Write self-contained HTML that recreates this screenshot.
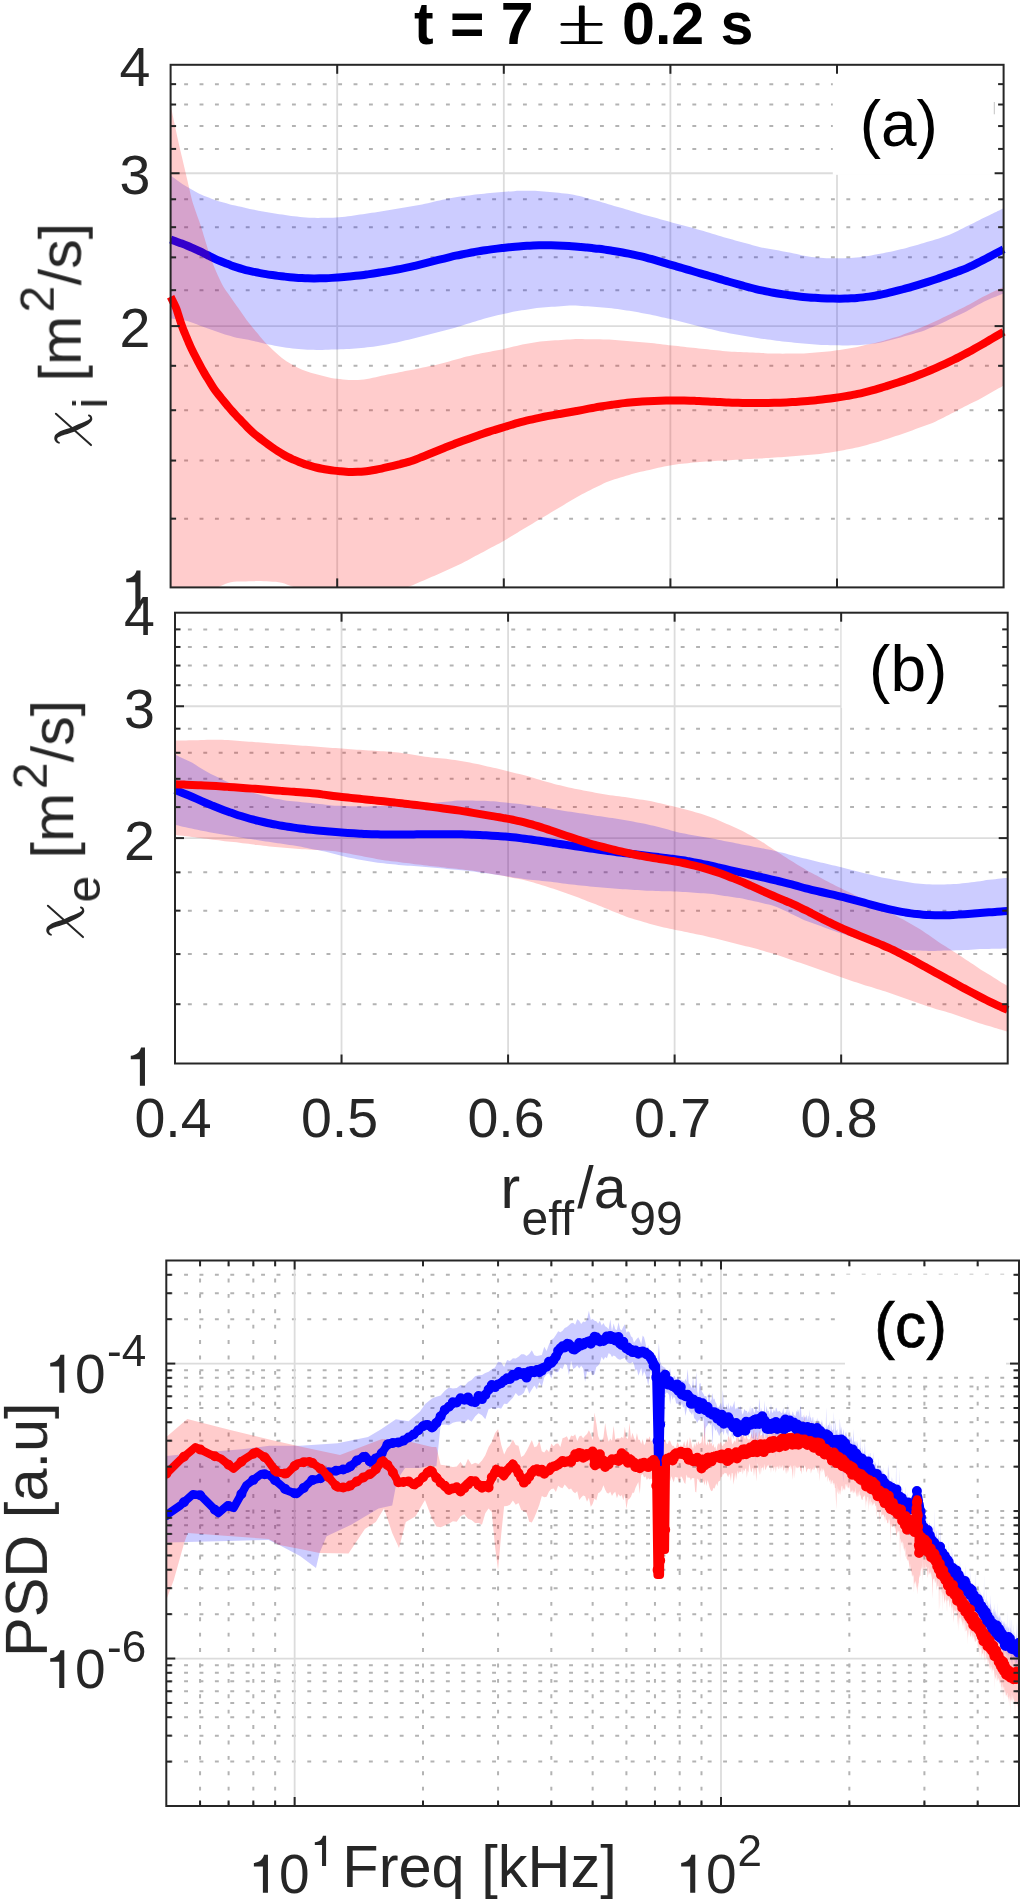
<!DOCTYPE html>
<html><head><meta charset="utf-8"><style>
html,body{margin:0;padding:0;background:#fff;}
svg{display:block;}
</style></head><body>
<svg width="1025" height="1901" viewBox="0 0 1025 1901">
<style>
.mg{stroke:#b3b3b3;stroke-width:2;stroke-dasharray:3.9 11.5;}
.Mg{stroke:#dcdcdc;stroke-width:1.8;}
.tk{stroke:#262626;stroke-width:2;}
.t{font-family:"Liberation Sans",sans-serif;fill:#262626;filter:url(#nop);}
</style>
<rect width="1025" height="1901" fill="#fff"/>
<defs>
<filter id="nop" x="-5%" y="-5%" width="110%" height="110%"><feOffset dx="0" dy="0"/></filter>
<clipPath id="ca"><rect x="166.6" y="64.8" width="841" height="522.6"/></clipPath>
<clipPath id="cb"><rect x="171" y="612.7" width="840.7" height="450.8"/></clipPath>
<clipPath id="cc"><rect x="166.3" y="1260.5" width="852.7" height="545.5"/></clipPath>
<clipPath id="la"><rect x="166.6" y="64.8" width="841" height="522.6"/></clipPath>
<clipPath id="lb"><rect x="171" y="612.7" width="840.7" height="450.8"/></clipPath>
</defs>
<g clip-path="url(#ca)">
<line x1="170.6" y1="518.67" x2="1003.6" y2="518.67" class="mg" stroke-dashoffset="1.85"/>
<line x1="170.6" y1="460.56" x2="1003.6" y2="460.56" class="mg" stroke-dashoffset="1.85"/>
<line x1="170.6" y1="410.22" x2="1003.6" y2="410.22" class="mg" stroke-dashoffset="1.85"/>
<line x1="170.6" y1="365.82" x2="1003.6" y2="365.82" class="mg" stroke-dashoffset="1.85"/>
<line x1="170.6" y1="290.17" x2="1003.6" y2="290.17" class="mg" stroke-dashoffset="1.85"/>
<line x1="170.6" y1="257.37" x2="1003.6" y2="257.37" class="mg" stroke-dashoffset="1.85"/>
<line x1="170.6" y1="227.19" x2="1003.6" y2="227.19" class="mg" stroke-dashoffset="1.85"/>
<line x1="170.6" y1="199.26" x2="1003.6" y2="199.26" class="mg" stroke-dashoffset="1.85"/>
<line x1="170.6" y1="148.92" x2="1003.6" y2="148.92" class="mg" stroke-dashoffset="1.85"/>
<line x1="170.6" y1="126.07" x2="1003.6" y2="126.07" class="mg" stroke-dashoffset="1.85"/>
<line x1="170.6" y1="104.52" x2="1003.6" y2="104.52" class="mg" stroke-dashoffset="1.85"/>
<line x1="170.6" y1="84.14" x2="1003.6" y2="84.14" class="mg" stroke-dashoffset="1.85"/>
<line x1="170.6" y1="326.1" x2="1003.6" y2="326.1" class="Mg"/>
<line x1="170.6" y1="173.25" x2="1003.6" y2="173.25" class="Mg"/>
<line x1="337.2" y1="64.8" x2="337.2" y2="587.4" class="Mg"/>
<line x1="503.8" y1="64.8" x2="503.8" y2="587.4" class="Mg"/>
<line x1="670.4" y1="64.8" x2="670.4" y2="587.4" class="Mg"/>
<line x1="837" y1="64.8" x2="837" y2="587.4" class="Mg"/>
<rect x="832.8" y="60" width="171.2" height="114.8" fill="#fff"/>
<path d="M170.6,175.57 C171.39,176.15 173.76,177.86 175.36,179.02 C176.96,180.18 178.59,181.38 180.23,182.53 C181.87,183.67 183.5,184.82 185.2,185.87 C186.89,186.93 188.64,187.9 190.38,188.87 C192.13,189.85 193.89,190.79 195.66,191.71 C197.44,192.64 199.21,193.56 201.02,194.41 C202.83,195.25 204.68,196.01 206.53,196.77 C208.38,197.53 210.24,198.26 212.12,198.94 C213.99,199.63 215.88,200.29 217.78,200.9 C219.69,201.5 221.62,202.03 223.54,202.56 C225.47,203.1 227.4,203.63 229.33,204.13 C231.27,204.63 233.21,205.11 235.16,205.57 C237.1,206.02 239.06,206.44 241.01,206.87 C242.97,207.3 244.92,207.72 246.88,208.15 C248.83,208.57 250.79,209 252.74,209.42 C254.7,209.84 256.65,210.28 258.61,210.68 C260.56,211.08 262.52,211.48 264.49,211.84 C266.46,212.19 268.44,212.5 270.41,212.81 C272.39,213.12 274.37,213.41 276.34,213.7 C278.32,214 280.3,214.3 282.28,214.6 C284.26,214.9 286.23,215.2 288.21,215.49 C290.19,215.77 292.17,216.07 294.15,216.31 C296.14,216.55 298.13,216.74 300.12,216.93 C302.11,217.13 304.1,217.3 306.1,217.45 C308.09,217.61 310.08,217.78 312.08,217.87 C314.07,217.95 316.07,217.97 318.07,217.96 C320.07,217.96 322.07,217.89 324.07,217.85 C326.07,217.8 328.07,217.76 330.07,217.7 C332.07,217.64 334.07,217.61 336.06,217.49 C338.05,217.37 340.04,217.2 342.03,216.99 C344.02,216.79 346,216.5 347.98,216.24 C349.97,215.99 351.95,215.72 353.93,215.44 C355.91,215.17 357.89,214.89 359.87,214.6 C361.85,214.31 363.83,214.01 365.8,213.72 C367.78,213.42 369.76,213.12 371.74,212.82 C373.72,212.53 375.69,212.23 377.67,211.93 C379.65,211.63 381.63,211.34 383.61,211.03 C385.58,210.73 387.56,210.42 389.53,210.1 C391.51,209.79 393.48,209.45 395.45,209.12 C397.43,208.79 399.4,208.45 401.37,208.12 C403.34,207.79 405.31,207.45 407.29,207.12 C409.26,206.78 411.23,206.46 413.2,206.11 C415.17,205.77 417.14,205.43 419.1,205.04 C421.06,204.66 423.02,204.23 424.97,203.8 C426.92,203.37 428.87,202.9 430.82,202.46 C432.77,202.01 434.72,201.56 436.67,201.11 C438.62,200.66 440.56,200.2 442.51,199.76 C444.46,199.32 446.41,198.86 448.37,198.47 C450.33,198.08 452.3,197.74 454.27,197.43 C456.25,197.12 458.23,196.88 460.22,196.62 C462.2,196.36 464.18,196.11 466.17,195.86 C468.15,195.6 470.14,195.35 472.12,195.09 C474.1,194.84 476.09,194.58 478.07,194.34 C480.06,194.1 482.05,193.87 484.03,193.67 C486.02,193.46 488.02,193.29 490.01,193.1 C492,192.92 493.99,192.74 495.98,192.56 C497.98,192.39 499.97,192.2 501.96,192.03 C503.95,191.85 505.95,191.67 507.94,191.52 C509.93,191.37 511.93,191.23 513.92,191.13 C515.92,191.02 517.92,190.94 519.92,190.87 C521.92,190.8 523.92,190.74 525.92,190.73 C527.91,190.72 529.91,190.76 531.91,190.81 C533.91,190.86 535.91,190.94 537.91,191.04 C539.9,191.14 541.9,191.26 543.89,191.41 C545.89,191.57 547.88,191.77 549.87,191.97 C551.86,192.16 553.85,192.37 555.84,192.57 C557.83,192.78 559.82,192.98 561.8,193.18 C563.79,193.39 565.79,193.57 567.77,193.81 C569.75,194.06 571.74,194.3 573.69,194.67 C575.65,195.04 577.58,195.55 579.52,196.04 C581.45,196.54 583.38,197.1 585.3,197.64 C587.23,198.17 589.16,198.71 591.08,199.25 C593.01,199.78 594.94,200.32 596.86,200.86 C598.79,201.4 600.72,201.93 602.64,202.48 C604.56,203.03 606.48,203.6 608.4,204.16 C610.32,204.73 612.23,205.31 614.15,205.89 C616.06,206.46 617.98,207.04 619.89,207.62 C621.81,208.19 623.72,208.77 625.64,209.35 C627.55,209.92 629.47,210.5 631.38,211.07 C633.3,211.64 635.22,212.21 637.14,212.77 C639.06,213.32 640.99,213.86 642.92,214.4 C644.84,214.94 646.77,215.47 648.69,216.01 C650.62,216.55 652.55,217.09 654.47,217.62 C656.4,218.16 658.33,218.7 660.25,219.24 C662.18,219.77 664.11,220.31 666.04,220.84 C667.97,221.37 669.9,221.89 671.83,222.42 C673.76,222.94 675.69,223.46 677.62,223.98 C679.55,224.5 681.48,225.02 683.41,225.54 C685.35,226.06 687.28,226.58 689.21,227.1 C691.14,227.62 693.07,228.14 695,228.67 C696.93,229.2 698.85,229.75 700.77,230.3 C702.69,230.86 704.61,231.44 706.53,232.01 C708.44,232.58 710.36,233.16 712.27,233.74 C714.19,234.31 716.1,234.89 718.02,235.46 C719.93,236.04 721.85,236.62 723.77,237.19 C725.68,237.75 727.6,238.33 729.52,238.87 C731.45,239.42 733.38,239.95 735.31,240.48 C737.24,241.01 739.17,241.52 741.1,242.04 C743.03,242.56 744.96,243.08 746.89,243.6 C748.82,244.12 750.75,244.65 752.69,245.16 C754.62,245.67 756.55,246.2 758.49,246.67 C760.44,247.14 762.39,247.56 764.35,247.96 C766.31,248.36 768.28,248.7 770.25,249.06 C772.21,249.42 774.18,249.77 776.15,250.12 C778.12,250.47 780.09,250.82 782.06,251.18 C784.03,251.53 786,251.88 787.96,252.25 C789.93,252.62 791.89,253 793.85,253.4 C795.81,253.8 797.76,254.23 799.72,254.65 C801.67,255.06 803.62,255.52 805.59,255.9 C807.55,256.27 809.51,256.62 811.49,256.88 C813.47,257.14 815.46,257.3 817.46,257.47 C819.45,257.63 821.44,257.78 823.44,257.89 C825.44,258.01 827.43,258.09 829.43,258.15 C831.43,258.22 833.43,258.26 835.43,258.28 C837.43,258.3 839.43,258.32 841.43,258.28 C843.43,258.25 845.42,258.17 847.42,258.07 C849.42,257.98 851.42,257.88 853.41,257.73 C855.4,257.58 857.39,257.39 859.38,257.16 C861.36,256.93 863.34,256.63 865.32,256.34 C867.3,256.05 869.27,255.75 871.25,255.42 C873.22,255.08 875.18,254.72 877.15,254.35 C879.12,253.98 881.08,253.59 883.04,253.19 C885,252.8 886.96,252.4 888.91,251.98 C890.87,251.57 892.82,251.14 894.78,250.7 C896.73,250.26 898.68,249.83 900.63,249.36 C902.57,248.9 904.51,248.42 906.45,247.91 C908.38,247.41 910.31,246.88 912.24,246.34 C914.17,245.81 916.09,245.28 918.02,244.73 C919.94,244.18 921.86,243.61 923.77,243.05 C925.69,242.48 927.61,241.9 929.52,241.32 C931.43,240.73 933.35,240.15 935.25,239.55 C937.16,238.95 939.07,238.34 940.97,237.71 C942.87,237.09 944.78,236.49 946.65,235.79 C948.52,235.1 950.37,234.36 952.2,233.55 C954.02,232.75 955.81,231.84 957.6,230.96 C959.4,230.08 961.18,229.18 962.97,228.29 C964.77,227.4 966.56,226.51 968.35,225.61 C970.14,224.72 971.93,223.83 973.72,222.94 C975.51,222.05 977.3,221.17 979.1,220.28 C980.89,219.39 982.68,218.51 984.48,217.62 C986.27,216.74 988.06,215.85 989.86,214.97 C991.65,214.08 992.95,213.44 995.24,212.31 C997.53,211.18 1002.21,208.87 1003.6,208.18 L1003.6,293.47 C1003.07,293.68 1001.89,294.16 1000.43,294.74 C998.97,295.33 996.72,296.23 994.86,296.99 C993.01,297.74 991.14,298.47 989.31,299.27 C987.48,300.08 985.67,300.91 983.88,301.8 C982.09,302.69 980.34,303.67 978.58,304.62 C976.82,305.57 975.07,306.55 973.31,307.51 C971.56,308.47 969.81,309.44 968.04,310.38 C966.28,311.32 964.5,312.25 962.72,313.15 C960.93,314.04 959.12,314.9 957.31,315.76 C955.51,316.63 953.7,317.48 951.89,318.34 C950.08,319.19 948.27,320.06 946.46,320.9 C944.64,321.74 942.82,322.57 940.99,323.38 C939.16,324.19 937.32,324.97 935.48,325.76 C933.64,326.54 931.8,327.33 929.95,328.1 C928.11,328.88 926.27,329.68 924.4,330.39 C922.54,331.1 920.65,331.77 918.75,332.37 C916.85,332.98 914.91,333.49 912.98,334.03 C911.06,334.58 909.13,335.1 907.19,335.62 C905.26,336.15 903.33,336.68 901.4,337.2 C899.47,337.72 897.53,338.23 895.6,338.74 C893.66,339.25 891.72,339.76 889.79,340.25 C887.85,340.75 885.92,341.28 883.97,341.73 C882.02,342.18 880.07,342.6 878.1,342.95 C876.13,343.31 874.15,343.57 872.17,343.83 C870.18,344.1 868.2,344.35 866.21,344.54 C864.22,344.73 862.22,344.85 860.22,344.97 C858.23,345.08 856.23,345.15 854.23,345.23 C852.23,345.31 850.23,345.4 848.23,345.44 C846.23,345.48 844.23,345.5 842.23,345.49 C840.22,345.48 838.22,345.42 836.22,345.37 C834.22,345.32 832.22,345.27 830.22,345.21 C828.22,345.16 826.22,345.11 824.22,345.02 C822.22,344.94 820.22,344.82 818.23,344.7 C816.23,344.57 814.23,344.41 812.24,344.26 C810.24,344.12 808.25,343.97 806.25,343.81 C804.25,343.66 802.26,343.51 800.27,343.33 C798.27,343.16 796.28,342.96 794.29,342.75 C792.3,342.53 790.31,342.3 788.32,342.07 C786.34,341.84 784.35,341.61 782.36,341.38 C780.37,341.14 778.39,340.9 776.4,340.65 C774.41,340.4 772.43,340.13 770.45,339.86 C768.47,339.59 766.48,339.31 764.5,339.03 C762.52,338.76 760.53,338.49 758.55,338.21 C756.57,337.92 754.59,337.65 752.61,337.34 C750.64,337.03 748.66,336.7 746.69,336.36 C744.72,336.02 742.75,335.66 740.78,335.3 C738.81,334.95 736.84,334.6 734.87,334.24 C732.9,333.87 730.93,333.52 728.97,333.13 C727.01,332.74 725.05,332.33 723.09,331.91 C721.13,331.49 719.18,331.06 717.23,330.63 C715.27,330.2 713.31,329.77 711.36,329.33 C709.41,328.89 707.46,328.46 705.51,327.99 C703.56,327.52 701.63,327.02 699.69,326.52 C697.75,326.02 695.82,325.49 693.89,324.97 C691.96,324.45 690.02,323.93 688.09,323.41 C686.16,322.9 684.22,322.38 682.28,321.88 C680.34,321.39 678.4,320.92 676.45,320.46 C674.5,320 672.55,319.55 670.6,319.1 C668.65,318.65 666.7,318.2 664.75,317.75 C662.8,317.31 660.85,316.86 658.89,316.43 C656.94,316.01 654.98,315.61 653.02,315.21 C651.05,314.82 649.09,314.44 647.12,314.06 C645.16,313.67 643.2,313.29 641.23,312.91 C639.26,312.54 637.3,312.15 635.33,311.81 C633.36,311.46 631.38,311.15 629.4,310.84 C627.43,310.53 625.45,310.25 623.47,309.96 C621.49,309.67 619.51,309.37 617.52,309.09 C615.54,308.82 613.56,308.53 611.57,308.3 C609.59,308.08 607.59,307.9 605.6,307.73 C603.61,307.55 601.61,307.42 599.61,307.26 C597.62,307.11 595.62,306.97 593.63,306.82 C591.63,306.67 589.63,306.52 587.64,306.37 C585.64,306.22 583.65,306.06 581.65,305.93 C579.65,305.79 577.66,305.63 575.66,305.57 C573.67,305.52 571.67,305.54 569.67,305.61 C567.68,305.68 565.68,305.85 563.68,305.98 C561.69,306.11 559.69,306.25 557.69,306.39 C555.7,306.53 553.7,306.67 551.7,306.81 C549.71,306.96 547.71,307.08 545.72,307.25 C543.72,307.41 541.73,307.58 539.74,307.8 C537.75,308.02 535.77,308.31 533.79,308.58 C531.81,308.85 529.83,309.14 527.84,309.43 C525.86,309.72 523.88,309.99 521.9,310.31 C519.93,310.62 517.95,310.94 515.99,311.31 C514.02,311.67 512.07,312.1 510.11,312.51 C508.15,312.93 506.2,313.36 504.24,313.79 C502.29,314.22 500.33,314.64 498.38,315.09 C496.43,315.54 494.48,316.01 492.55,316.51 C490.61,317.02 488.69,317.58 486.77,318.12 C484.84,318.67 482.92,319.24 481,319.8 C479.08,320.36 477.16,320.91 475.24,321.48 C473.32,322.04 471.4,322.61 469.48,323.18 C467.56,323.75 465.65,324.34 463.73,324.92 C461.82,325.5 459.9,326.09 457.99,326.68 C456.07,327.26 454.16,327.86 452.25,328.43 C450.33,329 448.41,329.57 446.48,330.1 C444.55,330.63 442.61,331.12 440.67,331.61 C438.73,332.11 436.79,332.58 434.84,333.06 C432.9,333.55 430.96,334.03 429.02,334.51 C427.07,334.99 425.13,335.47 423.19,335.96 C421.25,336.44 419.31,336.93 417.37,337.42 C415.43,337.91 413.49,338.4 411.54,338.89 C409.6,339.38 407.66,339.88 405.72,340.35 C403.78,340.83 401.83,341.31 399.88,341.75 C397.93,342.18 395.97,342.58 394.01,342.99 C392.05,343.39 390.08,343.78 388.12,344.16 C386.16,344.55 384.19,344.94 382.22,345.29 C380.25,345.64 378.28,345.95 376.3,346.23 C374.32,346.52 372.33,346.77 370.35,347.02 C368.36,347.26 366.37,347.5 364.38,347.7 C362.39,347.9 360.4,348.05 358.4,348.21 C356.41,348.36 354.41,348.5 352.41,348.63 C350.41,348.76 348.42,348.89 346.42,349 C344.42,349.12 342.42,349.22 340.42,349.32 C338.42,349.42 336.42,349.52 334.42,349.6 C332.42,349.67 330.42,349.73 328.42,349.78 C326.42,349.83 324.42,349.87 322.42,349.89 C320.42,349.91 318.42,349.92 316.42,349.88 C314.42,349.85 312.42,349.76 310.42,349.68 C308.42,349.6 306.42,349.51 304.42,349.39 C302.43,349.26 300.43,349.12 298.44,348.95 C296.44,348.79 294.45,348.6 292.46,348.39 C290.47,348.19 288.48,347.98 286.5,347.71 C284.52,347.44 282.54,347.11 280.57,346.78 C278.6,346.45 276.63,346.09 274.66,345.71 C272.69,345.34 270.73,344.95 268.77,344.53 C266.82,344.12 264.87,343.66 262.92,343.21 C260.97,342.77 259.02,342.3 257.07,341.86 C255.12,341.42 253.16,340.98 251.21,340.56 C249.25,340.14 247.29,339.75 245.33,339.35 C243.37,338.95 241.4,338.57 239.44,338.16 C237.48,337.76 235.51,337.38 233.57,336.91 C231.63,336.43 229.71,335.88 227.8,335.3 C225.89,334.71 224.01,334.03 222.11,333.39 C220.22,332.74 218.33,332.08 216.44,331.43 C214.55,330.77 212.66,330.11 210.77,329.45 C208.88,328.78 207,328.1 205.12,327.43 C203.23,326.75 201.35,326.06 199.47,325.38 C197.59,324.7 195.71,324.01 193.83,323.34 C191.94,322.66 190.07,321.93 188.17,321.35 C186.26,320.77 184.35,320.22 182.4,319.84 C180.46,319.45 178.44,319.27 176.48,319.05 C174.51,318.83 171.58,318.6 170.6,318.51 Z" fill="#0000ff" fill-opacity="0.2"/>
<path d="M170.6,239.54 C171.53,239.87 174.29,240.85 176.15,241.52 C178.02,242.19 179.93,242.86 181.8,243.57 C183.67,244.27 185.54,245 187.38,245.77 C189.23,246.53 191.05,247.36 192.88,248.17 C194.71,248.98 196.54,249.81 198.35,250.65 C200.17,251.49 201.98,252.34 203.78,253.22 C205.58,254.09 207.37,255 209.16,255.88 C210.96,256.76 212.74,257.67 214.55,258.52 C216.36,259.37 218.19,260.18 220.03,260.97 C221.87,261.75 223.73,262.5 225.59,263.24 C227.45,263.98 229.3,264.73 231.18,265.41 C233.06,266.09 234.96,266.71 236.87,267.32 C238.77,267.93 240.69,268.51 242.61,269.06 C244.54,269.62 246.46,270.16 248.4,270.64 C250.34,271.12 252.3,271.52 254.26,271.93 C256.22,272.33 258.19,272.72 260.16,273.08 C262.12,273.45 264.09,273.79 266.07,274.12 C268.04,274.44 270.02,274.73 272,275.02 C273.99,275.31 275.97,275.6 277.95,275.86 C279.94,276.11 281.92,276.34 283.91,276.56 C285.9,276.78 287.89,276.99 289.89,277.18 C291.88,277.36 293.87,277.54 295.87,277.69 C297.86,277.84 299.86,277.95 301.86,278.05 C303.86,278.16 305.86,278.26 307.86,278.32 C309.86,278.39 311.86,278.42 313.86,278.43 C315.86,278.44 317.86,278.41 319.86,278.37 C321.86,278.34 323.86,278.3 325.86,278.22 C327.86,278.13 329.86,278.01 331.86,277.88 C333.85,277.75 335.85,277.6 337.85,277.46 C339.84,277.31 341.84,277.17 343.83,277 C345.83,276.83 347.82,276.65 349.81,276.46 C351.81,276.27 353.8,276.06 355.79,275.85 C357.78,275.63 359.77,275.41 361.75,275.16 C363.74,274.91 365.72,274.62 367.7,274.34 C369.68,274.05 371.66,273.76 373.64,273.46 C375.62,273.16 377.6,272.86 379.57,272.55 C381.55,272.24 383.53,271.92 385.5,271.6 C387.48,271.28 389.46,270.96 391.43,270.62 C393.4,270.28 395.37,269.92 397.34,269.55 C399.3,269.18 401.27,268.81 403.23,268.42 C405.2,268.02 407.16,267.62 409.11,267.18 C411.06,266.74 413,266.26 414.95,265.78 C416.89,265.31 418.83,264.82 420.77,264.33 C422.72,263.85 424.66,263.36 426.6,262.88 C428.54,262.39 430.48,261.9 432.42,261.42 C434.37,260.93 436.31,260.45 438.25,259.96 C440.19,259.48 442.13,258.99 444.08,258.51 C446.02,258.02 447.96,257.53 449.9,257.06 C451.85,256.59 453.8,256.12 455.75,255.69 C457.7,255.26 459.67,254.86 461.63,254.47 C463.59,254.07 465.55,253.68 467.52,253.31 C469.48,252.93 471.45,252.56 473.42,252.21 C475.39,251.85 477.36,251.51 479.34,251.17 C481.31,250.84 483.28,250.5 485.26,250.21 C487.24,249.91 489.22,249.64 491.21,249.38 C493.19,249.12 495.18,248.88 497.17,248.64 C499.15,248.4 501.14,248.15 503.13,247.92 C505.12,247.69 507.11,247.48 509.1,247.27 C511.09,247.07 513.08,246.88 515.08,246.69 C517.07,246.51 519.06,246.33 521.06,246.18 C523.05,246.03 525.05,245.92 527.05,245.81 C529.05,245.69 531.05,245.59 533.05,245.51 C535.05,245.43 537.05,245.37 539.05,245.34 C541.05,245.3 543.05,245.3 545.05,245.3 C547.05,245.3 549.06,245.31 551.06,245.34 C553.06,245.37 555.06,245.42 557.06,245.49 C559.06,245.55 561.06,245.63 563.06,245.72 C565.06,245.81 567.06,245.91 569.05,246.03 C571.05,246.16 573.05,246.32 575.04,246.48 C577.04,246.64 579.03,246.81 581.02,246.99 C583.02,247.17 585.01,247.35 587,247.55 C589,247.74 590.99,247.94 592.98,248.16 C594.97,248.37 596.96,248.58 598.94,248.83 C600.93,249.07 602.91,249.35 604.89,249.63 C606.87,249.91 608.86,250.2 610.83,250.51 C612.81,250.82 614.79,251.14 616.76,251.48 C618.73,251.82 620.7,252.18 622.67,252.55 C624.64,252.91 626.6,253.28 628.57,253.67 C630.53,254.05 632.49,254.46 634.45,254.87 C636.41,255.28 638.37,255.7 640.32,256.15 C642.27,256.59 644.22,257.04 646.15,257.54 C648.09,258.05 650.01,258.61 651.93,259.17 C653.85,259.73 655.76,260.33 657.68,260.9 C659.6,261.48 661.51,262.06 663.43,262.63 C665.35,263.2 667.27,263.75 669.2,264.31 C671.12,264.86 673.05,265.4 674.97,265.95 C676.9,266.49 678.82,267.04 680.75,267.6 C682.67,268.16 684.59,268.73 686.5,269.3 C688.42,269.87 690.34,270.46 692.26,271.03 C694.18,271.6 696.09,272.17 698.02,272.72 C699.94,273.28 701.87,273.82 703.79,274.37 C705.72,274.92 707.64,275.46 709.57,276.01 C711.49,276.56 713.41,277.12 715.33,277.69 C717.25,278.25 719.17,278.83 721.09,279.4 C723.01,279.97 724.93,280.55 726.85,281.11 C728.77,281.67 730.69,282.22 732.62,282.77 C734.54,283.32 736.47,283.86 738.4,284.4 C740.32,284.94 742.25,285.48 744.18,286 C746.11,286.53 748.05,287.04 749.99,287.55 C751.92,288.06 753.86,288.58 755.8,289.05 C757.74,289.53 759.69,289.99 761.64,290.42 C763.6,290.85 765.56,291.24 767.52,291.63 C769.49,292.02 771.45,292.41 773.42,292.76 C775.39,293.11 777.37,293.43 779.34,293.74 C781.32,294.05 783.3,294.34 785.28,294.63 C787.26,294.91 789.24,295.2 791.23,295.47 C793.21,295.74 795.19,296 797.18,296.25 C799.17,296.51 801.15,296.77 803.14,296.98 C805.13,297.19 807.12,297.37 809.12,297.51 C811.11,297.66 813.11,297.75 815.11,297.86 C817.11,297.97 819.11,298.07 821.11,298.16 C823.11,298.26 825.11,298.34 827.11,298.41 C829.11,298.49 831.11,298.54 833.11,298.59 C835.11,298.64 837.11,298.69 839.11,298.69 C841.11,298.7 843.11,298.66 845.11,298.6 C847.11,298.54 849.11,298.45 851.11,298.35 C853.11,298.24 855.11,298.13 857.1,297.96 C859.09,297.8 861.08,297.59 863.07,297.37 C865.06,297.15 867.05,296.92 869.03,296.65 C871.01,296.38 872.99,296.07 874.96,295.72 C876.93,295.38 878.89,294.97 880.85,294.57 C882.81,294.17 884.77,293.77 886.73,293.33 C888.68,292.89 890.62,292.42 892.57,291.94 C894.51,291.46 896.45,290.96 898.39,290.46 C900.32,289.95 902.26,289.45 904.19,288.92 C906.12,288.39 908.04,287.84 909.97,287.29 C911.89,286.74 913.82,286.18 915.74,285.62 C917.66,285.05 919.57,284.48 921.49,283.9 C923.4,283.31 925.31,282.71 927.22,282.11 C929.13,281.51 931.04,280.91 932.94,280.29 C934.85,279.66 936.74,279.02 938.63,278.37 C940.53,277.72 942.41,277.05 944.3,276.39 C946.19,275.72 948.08,275.05 949.96,274.38 C951.85,273.71 953.73,273.04 955.62,272.36 C957.5,271.68 959.39,271.03 961.26,270.31 C963.13,269.6 964.99,268.88 966.82,268.08 C968.66,267.28 970.45,266.4 972.25,265.53 C974.06,264.66 975.84,263.76 977.63,262.86 C979.42,261.97 981.22,261.08 983,260.17 C984.78,259.26 986.56,258.34 988.33,257.41 C990.11,256.48 991.87,255.53 993.64,254.59 C995.4,253.65 997.27,252.65 998.94,251.77 C1000.6,250.88 1002.82,249.69 1003.6,249.28" fill="none" stroke="#0000ff" stroke-width="8" stroke-linejoin="round" stroke-linecap="butt"/>
<path d="M170.6,104.97 C171.2,107.84 173.41,118.3 174.22,122.14 C175.03,125.99 175.05,126.06 175.46,128.02 C175.87,129.98 176.28,131.95 176.7,133.91 C177.11,135.87 177.52,137.83 177.95,139.78 C178.37,141.74 178.81,143.7 179.25,145.65 C179.7,147.6 180.16,149.55 180.62,151.5 C181.08,153.45 181.54,155.4 182.01,157.35 C182.47,159.3 182.93,161.25 183.39,163.2 C183.85,165.15 184.32,167.1 184.77,169.05 C185.23,171 185.69,172.95 186.14,174.9 C186.59,176.86 187.04,178.81 187.49,180.76 C187.93,182.71 188.38,184.67 188.83,186.62 C189.28,188.57 189.72,190.53 190.17,192.48 C190.63,194.43 191.05,196.39 191.55,198.33 C192.05,200.26 192.58,202.19 193.17,204.1 C193.76,206.02 194.44,207.9 195.1,209.79 C195.75,211.68 196.44,213.57 197.1,215.46 C197.77,217.35 198.45,219.23 199.11,221.12 C199.77,223.01 200.43,224.91 201.05,226.81 C201.68,228.71 202.27,230.63 202.86,232.54 C203.44,234.46 204.01,236.38 204.59,238.3 C205.17,240.21 205.74,242.14 206.32,244.05 C206.9,245.97 207.46,247.89 208.07,249.8 C208.68,251.71 209.31,253.61 209.97,255.5 C210.63,257.39 211.33,259.27 212.02,261.15 C212.72,263.03 213.41,264.91 214.14,266.77 C214.88,268.63 215.64,270.48 216.45,272.32 C217.25,274.15 218.1,275.96 218.95,277.78 C219.81,279.59 220.64,281.41 221.57,283.18 C222.5,284.95 223.48,286.68 224.54,288.38 C225.6,290.07 226.78,291.69 227.92,293.34 C229.06,294.98 230.23,296.61 231.39,298.25 C232.54,299.88 233.7,301.52 234.85,303.16 C236,304.8 237.15,306.44 238.3,308.08 C239.45,309.72 240.59,311.37 241.74,313.01 C242.9,314.65 244.03,316.3 245.21,317.92 C246.38,319.54 247.56,321.16 248.79,322.74 C250.01,324.33 251.28,325.87 252.55,327.42 C253.82,328.98 255.1,330.51 256.38,332.06 C257.66,333.6 258.93,335.15 260.22,336.68 C261.51,338.21 262.78,339.77 264.12,341.25 C265.45,342.74 266.84,344.18 268.25,345.59 C269.67,347.01 271.15,348.36 272.61,349.72 C274.08,351.09 275.55,352.45 277.05,353.77 C278.56,355.1 280.07,356.41 281.63,357.66 C283.2,358.9 284.79,360.12 286.44,361.23 C288.1,362.34 289.83,363.34 291.57,364.34 C293.3,365.34 295.05,366.32 296.83,367.23 C298.61,368.14 300.39,369.05 302.23,369.8 C304.07,370.56 305.98,371.16 307.88,371.77 C309.79,372.38 311.72,372.93 313.64,373.48 C315.57,374.03 317.5,374.56 319.44,375.08 C321.37,375.59 323.31,376.09 325.26,376.56 C327.21,377.03 329.15,377.53 331.11,377.91 C333.07,378.3 335.05,378.6 337.03,378.87 C339.01,379.13 341.01,379.33 343,379.5 C344.99,379.68 346.99,379.84 348.99,379.92 C350.99,380 352.99,379.99 354.99,379.96 C356.99,379.94 359,379.92 360.99,379.77 C362.98,379.62 364.96,379.39 366.92,379.07 C368.89,378.74 370.84,378.26 372.8,377.84 C374.75,377.41 376.7,376.94 378.66,376.52 C380.62,376.09 382.58,375.69 384.54,375.29 C386.5,374.88 388.47,374.5 390.44,374.11 C392.4,373.71 394.37,373.33 396.33,372.94 C398.3,372.54 400.26,372.15 402.23,371.76 C404.19,371.37 406.16,370.98 408.12,370.59 C410.08,370.19 412.05,369.79 414.01,369.39 C415.97,368.99 417.93,368.58 419.9,368.17 C421.86,367.77 423.82,367.36 425.78,366.95 C427.74,366.54 429.7,366.14 431.66,365.73 C433.62,365.31 435.59,364.92 437.54,364.47 C439.49,364.01 441.43,363.53 443.37,363.02 C445.31,362.52 447.23,361.96 449.16,361.43 C451.09,360.89 453.02,360.35 454.95,359.81 C456.88,359.26 458.81,358.72 460.74,358.18 C462.67,357.65 464.59,357.09 466.53,356.59 C468.47,356.08 470.41,355.6 472.37,355.17 C474.32,354.73 476.29,354.37 478.26,353.98 C480.22,353.59 482.19,353.22 484.16,352.84 C486.13,352.47 488.09,352.09 490.06,351.71 C492.03,351.34 494,350.97 495.96,350.58 C497.93,350.19 499.9,349.82 501.85,349.39 C503.81,348.96 505.75,348.49 507.7,348 C509.64,347.52 511.57,346.97 513.51,346.5 C515.46,346.02 517.41,345.57 519.37,345.17 C521.33,344.76 523.31,344.43 525.28,344.07 C527.25,343.72 529.22,343.38 531.2,343.04 C533.17,342.7 535.14,342.34 537.13,342.06 C539.11,341.77 541.09,341.53 543.08,341.32 C545.07,341.11 547.07,340.98 549.07,340.82 C551.07,340.66 553.07,340.52 555.06,340.37 C557.06,340.22 559.06,340.07 561.06,339.92 C563.05,339.77 565.05,339.61 567.05,339.48 C569.05,339.35 571.05,339.21 573.05,339.15 C575.05,339.08 577.05,339.09 579.05,339.09 C581.06,339.09 583.06,339.13 585.06,339.16 C587.07,339.18 589.07,339.21 591.07,339.24 C593.08,339.26 595.08,339.29 597.08,339.32 C599.09,339.34 601.09,339.36 603.09,339.4 C605.1,339.44 607.1,339.46 609.1,339.54 C611.1,339.63 613.1,339.76 615.09,339.9 C617.09,340.04 619.09,340.23 621.08,340.41 C623.08,340.58 625.07,340.76 627.07,340.93 C629.07,341.11 631.06,341.28 633.06,341.46 C635.05,341.63 637.05,341.81 639.04,341.99 C641.04,342.16 643.04,342.33 645.03,342.52 C647.03,342.71 649.02,342.91 651.01,343.12 C653,343.33 654.99,343.56 656.98,343.78 C658.98,344.01 660.97,344.23 662.96,344.46 C664.95,344.68 666.94,344.91 668.93,345.13 C670.92,345.36 672.91,345.59 674.9,345.81 C676.89,346.03 678.88,346.26 680.87,346.48 C682.87,346.7 684.86,346.92 686.85,347.13 C688.84,347.35 690.83,347.56 692.82,347.78 C694.82,348 696.81,348.21 698.8,348.43 C700.79,348.64 702.78,348.85 704.78,349.07 C706.77,349.28 708.76,349.49 710.75,349.7 C712.74,349.92 714.74,350.13 716.73,350.34 C718.72,350.55 720.71,350.77 722.71,350.95 C724.7,351.13 726.7,351.28 728.7,351.41 C730.7,351.54 732.7,351.62 734.7,351.72 C736.7,351.82 738.7,351.91 740.7,352 C742.7,352.1 744.71,352.19 746.71,352.28 C748.71,352.38 750.71,352.47 752.71,352.57 C754.71,352.66 756.71,352.76 758.71,352.85 C760.72,352.95 762.72,353.04 764.72,353.14 C766.72,353.23 768.72,353.34 770.72,353.42 C772.72,353.5 774.72,353.58 776.73,353.62 C778.73,353.65 780.73,353.65 782.74,353.65 C784.74,353.64 786.74,353.62 788.75,353.6 C790.75,353.59 792.75,353.58 794.76,353.55 C796.76,353.52 798.76,353.51 800.76,353.44 C802.76,353.37 804.76,353.25 806.76,353.13 C808.76,353.02 810.76,352.86 812.76,352.72 C814.76,352.58 816.76,352.45 818.75,352.3 C820.75,352.15 822.75,352.02 824.74,351.82 C826.74,351.63 828.73,351.4 830.71,351.14 C832.7,350.89 834.68,350.58 836.66,350.28 C838.64,349.99 840.62,349.69 842.6,349.4 C844.58,349.1 846.57,348.81 848.54,348.49 C850.52,348.16 852.49,347.81 854.46,347.43 C856.42,347.04 858.38,346.6 860.33,346.18 C862.29,345.75 864.25,345.31 866.2,344.87 C868.16,344.44 870.11,344.01 872.07,343.56 C874.02,343.12 875.98,342.69 877.92,342.21 C879.87,341.74 881.8,341.22 883.73,340.69 C885.67,340.17 887.59,339.6 889.51,339.04 C891.44,338.48 893.37,337.94 895.28,337.35 C897.19,336.75 899.1,336.15 900.99,335.49 C902.87,334.82 904.73,334.08 906.6,333.35 C908.47,332.63 910.32,331.87 912.18,331.13 C914.04,330.38 915.91,329.64 917.76,328.88 C919.61,328.12 921.46,327.35 923.3,326.56 C925.14,325.76 926.97,324.94 928.8,324.13 C930.63,323.31 932.45,322.49 934.28,321.67 C936.11,320.84 937.94,320.03 939.76,319.19 C941.57,318.35 943.39,317.49 945.19,316.62 C946.99,315.75 948.78,314.84 950.57,313.95 C952.36,313.05 954.15,312.15 955.94,311.25 C957.73,310.35 959.52,309.45 961.3,308.54 C963.09,307.62 964.86,306.69 966.63,305.75 C968.4,304.81 970.15,303.84 971.91,302.88 C973.67,301.92 975.42,300.95 977.18,299.99 C978.94,299.03 980.69,298.05 982.46,297.12 C984.23,296.18 986.01,295.27 987.81,294.39 C989.61,293.51 991.43,292.68 993.25,291.84 C995.07,291 996.99,290.13 998.71,289.34 C1000.44,288.55 1002.79,287.47 1003.6,287.1 L1003.6,385.4 C1002.85,385.84 1000.7,387.09 999.08,388.04 C997.46,388.98 995.61,390.06 993.88,391.07 C992.15,392.08 990.42,393.09 988.69,394.1 C986.95,395.1 985.22,396.11 983.47,397.08 C981.72,398.05 979.94,398.98 978.16,399.9 C976.38,400.82 974.58,401.7 972.79,402.6 C971,403.5 969.21,404.39 967.42,405.29 C965.63,406.19 963.83,407.08 962.04,407.99 C960.26,408.9 958.48,409.81 956.69,410.73 C954.91,411.66 953.14,412.59 951.36,413.51 C949.59,414.44 947.81,415.37 946.04,416.3 C944.26,417.22 942.49,418.17 940.7,419.07 C938.91,419.96 937.12,420.85 935.29,421.66 C933.45,422.46 931.58,423.17 929.71,423.89 C927.85,424.62 925.96,425.29 924.08,425.99 C922.2,426.68 920.32,427.37 918.44,428.07 C916.56,428.76 914.68,429.45 912.8,430.15 C910.91,430.84 909.04,431.54 907.15,432.21 C905.26,432.89 903.37,433.55 901.48,434.2 C899.58,434.85 897.67,435.47 895.77,436.09 C893.87,436.72 891.96,437.34 890.06,437.96 C888.15,438.59 886.25,439.22 884.34,439.83 C882.44,440.45 880.53,441.08 878.62,441.67 C876.7,442.25 874.78,442.81 872.85,443.35 C870.92,443.88 868.98,444.38 867.04,444.89 C865.1,445.39 863.16,445.9 861.22,446.39 C859.27,446.87 857.32,447.34 855.37,447.77 C853.41,448.21 851.45,448.6 849.48,449 C847.52,449.4 845.56,449.8 843.59,450.18 C841.62,450.56 839.65,450.94 837.68,451.28 C835.71,451.62 833.72,451.92 831.74,452.22 C829.76,452.52 827.78,452.81 825.79,453.09 C823.81,453.37 821.83,453.66 819.84,453.91 C817.85,454.16 815.86,454.39 813.87,454.58 C811.87,454.78 809.87,454.92 807.88,455.08 C805.88,455.24 803.88,455.39 801.88,455.55 C799.89,455.7 797.89,455.86 795.89,456.01 C793.89,456.16 791.89,456.32 789.89,456.47 C787.9,456.61 785.9,456.76 783.9,456.89 C781.9,457.03 779.9,457.15 777.9,457.28 C775.9,457.41 773.9,457.53 771.9,457.66 C769.9,457.79 767.9,457.91 765.9,458.04 C763.9,458.17 761.9,458.3 759.9,458.42 C757.9,458.54 755.9,458.66 753.89,458.78 C751.89,458.89 749.89,459.01 747.89,459.12 C745.89,459.23 743.89,459.35 741.89,459.46 C739.89,459.57 737.89,459.68 735.89,459.8 C733.89,459.91 731.89,460.02 729.88,460.14 C727.88,460.26 725.88,460.37 723.88,460.49 C721.88,460.61 719.88,460.74 717.88,460.86 C715.88,460.98 713.88,461.1 711.88,461.23 C709.88,461.35 707.88,461.47 705.88,461.59 C703.88,461.72 701.88,461.84 699.88,462 C697.88,462.15 695.89,462.34 693.9,462.53 C691.9,462.73 689.91,462.96 687.92,463.18 C685.93,463.4 683.94,463.63 681.94,463.85 C679.95,464.08 677.96,464.28 675.97,464.54 C673.99,464.8 672,465.06 670.03,465.4 C668.06,465.74 666.1,466.17 664.14,466.57 C662.18,466.98 660.22,467.43 658.26,467.86 C656.31,468.29 654.35,468.72 652.39,469.15 C650.44,469.58 648.48,470.01 646.52,470.45 C644.57,470.89 642.61,471.31 640.66,471.78 C638.72,472.26 636.78,472.77 634.85,473.31 C632.92,473.84 631,474.43 629.08,474.99 C627.16,475.56 625.24,476.14 623.32,476.71 C621.4,477.29 619.48,477.85 617.56,478.44 C615.64,479.02 613.71,479.56 611.82,480.22 C609.93,480.87 608.07,481.58 606.23,482.36 C604.39,483.15 602.61,484.06 600.81,484.94 C599.01,485.81 597.22,486.72 595.42,487.62 C593.63,488.51 591.84,489.4 590.04,490.3 C588.25,491.19 586.45,492.08 584.66,492.98 C582.88,493.89 581.09,494.79 579.33,495.75 C577.57,496.7 575.84,497.71 574.1,498.72 C572.37,499.73 570.66,500.77 568.94,501.8 C567.22,502.83 565.51,503.86 563.79,504.9 C562.07,505.93 560.35,506.96 558.64,507.99 C556.92,509.02 555.2,510.06 553.48,511.09 C551.76,512.12 550.04,513.15 548.33,514.18 C546.61,515.21 544.88,516.23 543.16,517.26 C541.44,518.29 539.72,519.32 538,520.34 C536.28,521.37 534.56,522.39 532.84,523.42 C531.12,524.45 529.4,525.48 527.68,526.51 C525.96,527.54 524.24,528.57 522.53,529.61 C520.81,530.64 519.1,531.68 517.38,532.72 C515.67,533.76 513.95,534.8 512.24,535.83 C510.52,536.87 508.81,537.91 507.08,538.92 C505.35,539.94 503.61,540.93 501.86,541.9 C500.11,542.87 498.34,543.81 496.57,544.75 C494.8,545.7 493.03,546.64 491.26,547.58 C489.49,548.52 487.72,549.46 485.95,550.4 C484.18,551.34 482.41,552.28 480.65,553.22 C478.88,554.17 477.11,555.11 475.34,556.05 C473.57,556.99 471.8,557.94 470.04,558.88 C468.27,559.82 466.5,560.78 464.73,561.7 C462.95,562.63 461.18,563.56 459.38,564.44 C457.58,565.32 455.76,566.15 453.94,566.99 C452.11,567.83 450.28,568.64 448.45,569.46 C446.63,570.28 444.8,571.1 442.97,571.92 C441.14,572.74 439.31,573.56 437.48,574.38 C435.65,575.19 433.81,575.99 431.97,576.79 C430.14,577.59 428.29,578.37 426.45,579.16 C424.61,579.95 422.77,580.74 420.92,581.53 C419.08,582.32 417.24,583.12 415.39,583.89 C413.54,584.66 411.69,585.43 409.83,586.17 C407.97,586.91 406.11,587.67 404.22,588.31 C402.33,588.96 400.43,589.57 398.5,590.05 C396.56,590.54 394.58,590.86 392.61,591.22 C390.65,591.58 388.66,591.89 386.69,592.22 C384.71,592.55 382.73,592.88 380.76,593.21 C378.78,593.54 376.8,593.87 374.83,594.2 C372.85,594.53 370.87,594.85 368.9,595.18 C366.92,595.51 364.94,595.84 362.96,596.17 C360.99,596.5 359.01,596.83 357.03,597.16 C355.06,597.49 353.08,597.83 351.1,598.15 C349.13,598.46 347.15,598.87 345.18,599.06 C343.21,599.24 341.24,599.4 339.29,599.25 C337.34,599.1 335.41,598.6 333.47,598.15 C331.53,597.71 329.61,597.11 327.67,596.58 C325.74,596.05 323.81,595.5 321.88,594.97 C319.95,594.43 318.02,593.89 316.09,593.36 C314.16,592.82 312.23,592.29 310.3,591.75 C308.37,591.21 306.43,590.68 304.5,590.14 C302.57,589.6 300.64,589.08 298.72,588.5 C296.8,587.93 294.89,587.34 292.99,586.7 C291.09,586.07 289.22,585.33 287.32,584.7 C285.43,584.06 283.56,583.34 281.63,582.87 C279.7,582.4 277.74,582.1 275.77,581.87 C273.79,581.65 271.78,581.6 269.78,581.49 C267.78,581.38 265.78,581.28 263.77,581.22 C261.77,581.15 259.77,581.11 257.77,581.11 C255.76,581.11 253.76,581.18 251.76,581.22 C249.75,581.27 247.75,581.33 245.75,581.38 C243.74,581.43 241.74,581.47 239.74,581.54 C237.74,581.62 235.72,581.6 233.76,581.84 C231.8,582.08 229.86,582.43 227.97,582.98 C226.07,583.53 224.25,584.37 222.41,585.15 C220.57,585.92 218.74,586.77 216.93,587.62 C215.12,588.47 213.32,589.36 211.52,590.24 C209.73,591.13 207.89,591.98 206.17,592.96 C204.44,593.93 202.67,594.85 201.17,596.08 C199.67,597.31 198.4,598.81 197.16,600.33 C195.92,601.86 194.85,603.59 193.71,605.23 C192.57,606.87 191.45,608.54 190.32,610.2 C189.19,611.85 188.06,613.51 186.93,615.16 C185.81,616.82 184.68,618.47 183.55,620.13 C182.42,621.79 181.29,623.44 180.16,625.1 C179.03,626.75 178.37,627.73 176.77,630.07 C175.18,632.4 171.63,637.61 170.6,639.12 Z" fill="#ff0000" fill-opacity="0.2"/>
<path d="M170.6,296.69 C171.46,298.45 174.59,304.55 175.78,307.25 C176.97,309.95 177.12,311.01 177.75,312.91 C178.38,314.8 178.95,316.73 179.55,318.63 C180.16,320.54 180.74,322.45 181.4,324.34 C182.05,326.23 182.74,328.11 183.47,329.97 C184.2,331.83 184.99,333.67 185.77,335.52 C186.54,337.36 187.32,339.21 188.11,341.04 C188.9,342.88 189.68,344.73 190.51,346.55 C191.35,348.36 192.22,350.16 193.11,351.96 C193.99,353.75 194.92,355.52 195.83,357.31 C196.75,359.09 197.66,360.87 198.58,362.64 C199.51,364.42 200.43,366.2 201.39,367.95 C202.36,369.7 203.37,371.42 204.39,373.15 C205.41,374.87 206.47,376.57 207.51,378.28 C208.55,379.99 209.59,381.7 210.65,383.4 C211.7,385.09 212.74,386.81 213.86,388.46 C214.99,390.11 216.18,391.71 217.4,393.29 C218.62,394.87 219.92,396.4 221.19,397.95 C222.45,399.5 223.73,401.04 225,402.59 C226.28,404.13 227.54,405.68 228.83,407.21 C230.12,408.74 231.42,410.26 232.75,411.76 C234.08,413.25 235.46,414.7 236.83,416.16 C238.2,417.62 239.59,419.06 240.97,420.51 C242.35,421.96 243.72,423.41 245.11,424.86 C246.49,426.3 247.85,427.77 249.28,429.17 C250.71,430.57 252.15,431.95 253.66,433.25 C255.17,434.56 256.76,435.77 258.33,437.01 C259.9,438.25 261.5,439.47 263.08,440.69 C264.67,441.91 266.24,443.14 267.85,444.33 C269.46,445.52 271.09,446.68 272.74,447.81 C274.4,448.93 276.08,450.01 277.77,451.09 C279.45,452.17 281.13,453.27 282.84,454.29 C284.56,455.31 286.3,456.29 288.08,457.19 C289.86,458.09 291.7,458.88 293.53,459.69 C295.36,460.5 297.2,461.3 299.06,462.03 C300.91,462.77 302.79,463.46 304.68,464.1 C306.57,464.74 308.49,465.32 310.41,465.88 C312.33,466.45 314.25,467.02 316.19,467.5 C318.13,467.97 320.09,468.37 322.05,468.74 C324.01,469.12 325.99,469.44 327.97,469.75 C329.95,470.06 331.92,470.35 333.91,470.6 C335.89,470.85 337.89,471.06 339.88,471.25 C341.87,471.44 343.86,471.64 345.86,471.76 C347.85,471.88 349.85,471.94 351.85,471.96 C353.84,471.97 355.85,471.93 357.84,471.85 C359.84,471.78 361.84,471.7 363.83,471.51 C365.82,471.32 367.79,471.03 369.77,470.73 C371.75,470.43 373.72,470.08 375.68,469.71 C377.65,469.35 379.62,468.96 381.57,468.55 C383.53,468.13 385.48,467.67 387.43,467.21 C389.37,466.76 391.32,466.29 393.27,465.82 C395.21,465.34 397.15,464.86 399.09,464.37 C401.03,463.88 402.98,463.4 404.91,462.88 C406.84,462.35 408.77,461.84 410.67,461.22 C412.57,460.61 414.44,459.9 416.31,459.19 C418.18,458.49 420.03,457.72 421.89,456.98 C423.75,456.24 425.61,455.48 427.46,454.73 C429.31,453.98 431.16,453.21 433.02,452.46 C434.87,451.7 436.72,450.94 438.58,450.19 C440.43,449.44 442.29,448.69 444.15,447.96 C446.01,447.22 447.87,446.49 449.74,445.76 C451.61,445.04 453.47,444.31 455.34,443.6 C457.21,442.89 459.09,442.2 460.97,441.51 C462.85,440.82 464.74,440.15 466.62,439.48 C468.5,438.8 470.39,438.13 472.27,437.46 C474.16,436.79 476.05,436.12 477.94,435.46 C479.83,434.8 481.71,434.13 483.61,433.48 C485.5,432.84 487.4,432.2 489.3,431.59 C491.21,430.97 493.12,430.4 495.04,429.81 C496.95,429.23 498.87,428.66 500.79,428.08 C502.7,427.5 504.62,426.92 506.54,426.35 C508.45,425.77 510.37,425.19 512.29,424.62 C514.2,424.05 516.12,423.47 518.05,422.93 C519.97,422.39 521.91,421.88 523.85,421.38 C525.78,420.87 527.73,420.39 529.67,419.92 C531.61,419.44 533.56,418.98 535.51,418.54 C537.47,418.11 539.43,417.71 541.39,417.31 C543.35,416.92 545.32,416.53 547.28,416.15 C549.25,415.78 551.22,415.42 553.19,415.07 C555.16,414.72 557.13,414.4 559.11,414.07 C561.08,413.73 563.05,413.4 565.03,413.06 C567,412.72 568.97,412.37 570.94,412.03 C572.91,411.68 574.88,411.32 576.85,410.96 C578.82,410.6 580.79,410.24 582.75,409.86 C584.72,409.48 586.68,409.08 588.64,408.7 C590.61,408.32 592.57,407.93 594.54,407.57 C596.51,407.21 598.48,406.88 600.46,406.56 C602.43,406.24 604.41,405.94 606.39,405.64 C608.37,405.33 610.35,405.04 612.33,404.75 C614.31,404.47 616.29,404.2 618.28,403.93 C620.26,403.66 622.24,403.39 624.23,403.15 C626.22,402.91 628.21,402.69 630.2,402.5 C632.19,402.3 634.18,402.14 636.18,401.98 C638.17,401.81 640.17,401.65 642.17,401.52 C644.16,401.39 646.16,401.28 648.16,401.18 C650.16,401.08 652.16,400.99 654.16,400.91 C656.16,400.83 658.16,400.75 660.16,400.68 C662.16,400.62 664.16,400.56 666.16,400.51 C668.16,400.46 670.16,400.41 672.16,400.39 C674.16,400.37 676.16,400.37 678.17,400.39 C680.17,400.41 682.17,400.45 684.17,400.49 C686.17,400.54 688.17,400.59 690.17,400.66 C692.17,400.73 694.17,400.83 696.17,400.92 C698.17,401.02 700.17,401.13 702.17,401.23 C704.16,401.33 706.16,401.43 708.16,401.53 C710.16,401.63 712.16,401.72 714.16,401.82 C716.16,401.91 718.16,402.01 720.16,402.1 C722.16,402.19 724.16,402.29 726.16,402.38 C728.16,402.46 730.16,402.56 732.16,402.63 C734.16,402.7 736.16,402.77 738.16,402.81 C740.16,402.86 742.16,402.88 744.16,402.91 C746.16,402.93 748.16,402.96 750.16,402.97 C752.17,402.99 754.17,402.99 756.17,403 C758.17,403 760.17,403 762.17,402.99 C764.17,402.98 766.18,402.97 768.18,402.94 C770.18,402.91 772.18,402.86 774.18,402.81 C776.18,402.76 778.18,402.71 780.18,402.64 C782.18,402.57 784.18,402.49 786.18,402.4 C788.18,402.31 790.18,402.21 792.18,402.1 C794.18,401.99 796.18,401.88 798.17,401.74 C800.17,401.61 802.16,401.45 804.16,401.29 C806.15,401.13 808.15,400.97 810.14,400.78 C812.13,400.6 814.13,400.41 816.12,400.2 C818.11,399.99 820.1,399.76 822.08,399.53 C824.07,399.3 826.06,399.07 828.04,398.81 C830.03,398.56 832.01,398.28 833.99,398 C835.98,397.72 837.96,397.43 839.93,397.12 C841.91,396.82 843.89,396.5 845.86,396.16 C847.83,395.82 849.8,395.45 851.76,395.08 C853.73,394.7 855.7,394.33 857.65,393.91 C859.61,393.5 861.57,393.07 863.51,392.61 C865.46,392.15 867.4,391.67 869.34,391.17 C871.28,390.67 873.22,390.18 875.14,389.63 C877.07,389.09 878.98,388.5 880.89,387.91 C882.81,387.32 884.71,386.7 886.61,386.09 C888.52,385.48 890.43,384.87 892.34,384.27 C894.24,383.67 896.16,383.07 898.06,382.46 C899.97,381.85 901.87,381.24 903.77,380.6 C905.66,379.95 907.54,379.27 909.43,378.59 C911.31,377.9 913.18,377.21 915.05,376.5 C916.93,375.79 918.79,375.07 920.66,374.34 C922.52,373.61 924.38,372.86 926.23,372.11 C928.08,371.35 929.94,370.59 931.78,369.81 C933.62,369.02 935.44,368.2 937.27,367.38 C939.1,366.57 940.92,365.74 942.73,364.9 C944.55,364.06 946.36,363.21 948.17,362.35 C949.98,361.48 951.78,360.61 953.57,359.73 C955.37,358.85 957.17,357.97 958.95,357.07 C960.74,356.16 962.52,355.24 964.29,354.31 C966.06,353.38 967.84,352.45 969.6,351.5 C971.36,350.55 973.11,349.59 974.86,348.61 C976.6,347.63 978.33,346.63 980.07,345.63 C981.8,344.63 983.53,343.62 985.26,342.61 C986.99,341.6 988.71,340.59 990.44,339.57 C992.16,338.55 993.41,337.8 995.61,336.52 C997.8,335.23 1002.27,332.65 1003.6,331.88" fill="none" stroke="#ff0000" stroke-width="8" stroke-linejoin="round" stroke-linecap="butt"/>
</g>
<line x1="170.6" y1="518.67" x2="176.1" y2="518.67" class="tk"/>
<line x1="998.1" y1="518.67" x2="1003.6" y2="518.67" class="tk"/>
<line x1="170.6" y1="460.56" x2="176.1" y2="460.56" class="tk"/>
<line x1="998.1" y1="460.56" x2="1003.6" y2="460.56" class="tk"/>
<line x1="170.6" y1="410.22" x2="176.1" y2="410.22" class="tk"/>
<line x1="998.1" y1="410.22" x2="1003.6" y2="410.22" class="tk"/>
<line x1="170.6" y1="365.82" x2="176.1" y2="365.82" class="tk"/>
<line x1="998.1" y1="365.82" x2="1003.6" y2="365.82" class="tk"/>
<line x1="170.6" y1="290.17" x2="176.1" y2="290.17" class="tk"/>
<line x1="998.1" y1="290.17" x2="1003.6" y2="290.17" class="tk"/>
<line x1="170.6" y1="257.37" x2="176.1" y2="257.37" class="tk"/>
<line x1="998.1" y1="257.37" x2="1003.6" y2="257.37" class="tk"/>
<line x1="170.6" y1="227.19" x2="176.1" y2="227.19" class="tk"/>
<line x1="998.1" y1="227.19" x2="1003.6" y2="227.19" class="tk"/>
<line x1="170.6" y1="199.26" x2="176.1" y2="199.26" class="tk"/>
<line x1="998.1" y1="199.26" x2="1003.6" y2="199.26" class="tk"/>
<line x1="170.6" y1="148.92" x2="176.1" y2="148.92" class="tk"/>
<line x1="998.1" y1="148.92" x2="1003.6" y2="148.92" class="tk"/>
<line x1="170.6" y1="126.07" x2="176.1" y2="126.07" class="tk"/>
<line x1="998.1" y1="126.07" x2="1003.6" y2="126.07" class="tk"/>
<line x1="170.6" y1="104.52" x2="176.1" y2="104.52" class="tk"/>
<line x1="998.1" y1="104.52" x2="1003.6" y2="104.52" class="tk"/>
<line x1="170.6" y1="84.14" x2="176.1" y2="84.14" class="tk"/>
<line x1="998.1" y1="84.14" x2="1003.6" y2="84.14" class="tk"/>
<line x1="170.6" y1="326.1" x2="179.6" y2="326.1" class="tk"/>
<line x1="994.6" y1="326.1" x2="1003.6" y2="326.1" class="tk"/>
<line x1="170.6" y1="173.25" x2="179.6" y2="173.25" class="tk"/>
<line x1="994.6" y1="173.25" x2="1003.6" y2="173.25" class="tk"/>
<line x1="337.2" y1="587.4" x2="337.2" y2="578.4" class="tk"/>
<line x1="337.2" y1="64.8" x2="337.2" y2="73.8" class="tk"/>
<line x1="503.8" y1="587.4" x2="503.8" y2="578.4" class="tk"/>
<line x1="503.8" y1="64.8" x2="503.8" y2="73.8" class="tk"/>
<line x1="670.4" y1="587.4" x2="670.4" y2="578.4" class="tk"/>
<line x1="670.4" y1="64.8" x2="670.4" y2="73.8" class="tk"/>
<line x1="837" y1="587.4" x2="837" y2="578.4" class="tk"/>
<line x1="837" y1="64.8" x2="837" y2="73.8" class="tk"/>
<rect x="170.6" y="64.8" width="833" height="522.6" fill="none" stroke="#262626" stroke-width="2"/>
<line x1="994.3" y1="102" x2="994.3" y2="114.3" stroke="#c4c4c4" stroke-width="1"/>
<g clip-path="url(#cb)">
<line x1="175" y1="1004.21" x2="1007.7" y2="1004.21" class="mg" stroke-dashoffset="2.5"/>
<line x1="175" y1="954.08" x2="1007.7" y2="954.08" class="mg" stroke-dashoffset="2.5"/>
<line x1="175" y1="910.66" x2="1007.7" y2="910.66" class="mg" stroke-dashoffset="2.5"/>
<line x1="175" y1="872.36" x2="1007.7" y2="872.36" class="mg" stroke-dashoffset="2.5"/>
<line x1="175" y1="807.11" x2="1007.7" y2="807.11" class="mg" stroke-dashoffset="2.5"/>
<line x1="175" y1="778.81" x2="1007.7" y2="778.81" class="mg" stroke-dashoffset="2.5"/>
<line x1="175" y1="752.78" x2="1007.7" y2="752.78" class="mg" stroke-dashoffset="2.5"/>
<line x1="175" y1="728.68" x2="1007.7" y2="728.68" class="mg" stroke-dashoffset="2.5"/>
<line x1="175" y1="685.26" x2="1007.7" y2="685.26" class="mg" stroke-dashoffset="2.5"/>
<line x1="175" y1="665.55" x2="1007.7" y2="665.55" class="mg" stroke-dashoffset="2.5"/>
<line x1="175" y1="646.96" x2="1007.7" y2="646.96" class="mg" stroke-dashoffset="2.5"/>
<line x1="175" y1="629.38" x2="1007.7" y2="629.38" class="mg" stroke-dashoffset="2.5"/>
<line x1="175" y1="838.1" x2="1007.7" y2="838.1" class="Mg"/>
<line x1="175" y1="706.25" x2="1007.7" y2="706.25" class="Mg"/>
<line x1="341.54" y1="612.7" x2="341.54" y2="1063.5" class="Mg"/>
<line x1="508.08" y1="612.7" x2="508.08" y2="1063.5" class="Mg"/>
<line x1="674.62" y1="612.7" x2="674.62" y2="1063.5" class="Mg"/>
<line x1="841.16" y1="612.7" x2="841.16" y2="1063.5" class="Mg"/>
<rect x="841.6" y="608" width="166.4" height="100" fill="#fff"/>
<path d="M175,740.68 C175.83,740.66 178.17,740.6 180,740.56 C181.83,740.52 184,740.46 186,740.42 C188,740.37 190,740.32 192,740.28 C194,740.23 196,740.18 198,740.13 C200,740.09 202,740.04 204,739.99 C206,739.95 208,739.9 210,739.85 C212,739.81 214,739.74 216,739.73 C218,739.72 220,739.73 222,739.79 C224,739.85 225.99,740 227.99,740.12 C229.98,740.25 231.98,740.4 233.98,740.54 C235.97,740.68 237.97,740.82 239.96,740.97 C241.96,741.11 243.95,741.25 245.95,741.4 C247.94,741.54 249.94,741.69 251.94,741.84 C253.93,741.99 255.93,742.14 257.92,742.29 C259.92,742.44 261.91,742.59 263.91,742.73 C265.9,742.88 267.9,743.03 269.89,743.18 C271.89,743.33 273.88,743.48 275.88,743.63 C277.87,743.78 279.87,743.93 281.86,744.08 C283.86,744.23 285.85,744.38 287.85,744.53 C289.84,744.68 291.84,744.83 293.83,744.98 C295.83,745.13 297.82,745.28 299.82,745.43 C301.81,745.58 303.81,745.72 305.8,745.87 C307.8,746.02 309.79,746.17 311.79,746.32 C313.78,746.47 315.78,746.62 317.77,746.77 C319.77,746.92 321.76,747.07 323.76,747.22 C325.75,747.37 327.75,747.52 329.75,747.66 C331.74,747.81 333.74,747.96 335.73,748.11 C337.73,748.26 339.72,748.41 341.72,748.56 C343.71,748.71 345.71,748.85 347.7,748.99 C349.7,749.13 351.69,749.26 353.69,749.4 C355.69,749.53 357.68,749.66 359.68,749.79 C361.68,749.92 363.67,750.05 365.67,750.18 C367.67,750.31 369.66,750.44 371.66,750.57 C373.66,750.7 375.65,750.83 377.65,750.96 C379.65,751.09 381.64,751.22 383.64,751.35 C385.63,751.48 387.63,751.6 389.63,751.74 C391.62,751.88 393.62,751.99 395.61,752.19 C397.6,752.38 399.58,752.62 401.56,752.9 C403.54,753.18 405.51,753.53 407.49,753.85 C409.46,754.17 411.43,754.51 413.41,754.85 C415.38,755.18 417.35,755.52 419.33,755.83 C421.3,756.15 423.28,756.46 425.26,756.72 C427.24,756.99 429.23,757.19 431.22,757.41 C433.21,757.62 435.2,757.8 437.19,758 C439.18,758.2 441.17,758.38 443.16,758.59 C445.15,758.8 447.14,759 449.13,759.25 C451.11,759.5 453.09,759.8 455.06,760.11 C457.04,760.42 459.01,760.77 460.98,761.1 C462.96,761.43 464.93,761.77 466.9,762.11 C468.87,762.45 470.85,762.77 472.81,763.14 C474.78,763.51 476.74,763.91 478.69,764.33 C480.65,764.75 482.6,765.21 484.55,765.66 C486.5,766.1 488.44,766.56 490.39,767.01 C492.34,767.47 494.29,767.92 496.24,768.37 C498.19,768.83 500.13,769.29 502.08,769.76 C504.02,770.23 505.97,770.71 507.91,771.19 C509.85,771.67 511.79,772.15 513.73,772.63 C515.68,773.12 517.62,773.59 519.56,774.08 C521.5,774.57 523.44,775.05 525.37,775.58 C527.3,776.1 529.22,776.65 531.15,777.21 C533.07,777.76 534.98,778.35 536.9,778.92 C538.81,779.5 540.73,780.08 542.65,780.65 C544.56,781.22 546.48,781.81 548.4,782.35 C550.32,782.9 552.25,783.42 554.19,783.91 C556.13,784.41 558.08,784.85 560.03,785.31 C561.98,785.77 563.93,786.22 565.87,786.67 C567.82,787.12 569.77,787.58 571.72,788.02 C573.67,788.46 575.63,788.9 577.58,789.31 C579.54,789.72 581.51,790.1 583.47,790.48 C585.43,790.86 587.4,791.23 589.37,791.6 C591.33,791.97 593.3,792.35 595.26,792.71 C597.23,793.07 599.2,793.45 601.17,793.77 C603.14,794.1 605.12,794.39 607.1,794.67 C609.08,794.95 611.07,795.19 613.05,795.45 C615.04,795.71 617.02,795.96 619.01,796.23 C620.99,796.49 622.97,796.75 624.95,797.04 C626.93,797.33 628.91,797.64 630.88,797.95 C632.86,798.26 634.84,798.58 636.81,798.9 C638.79,799.22 640.76,799.53 642.74,799.86 C644.71,800.18 646.69,800.49 648.65,800.85 C650.62,801.21 652.58,801.61 654.54,802.03 C656.49,802.44 658.44,802.91 660.39,803.35 C662.34,803.8 664.29,804.26 666.24,804.71 C668.19,805.16 670.14,805.61 672.08,806.07 C674.03,806.52 675.98,806.97 677.92,807.45 C679.86,807.93 681.8,808.44 683.73,808.96 C685.66,809.48 687.59,810.02 689.52,810.56 C691.44,811.1 693.37,811.63 695.3,812.18 C697.22,812.72 699.16,813.24 701.07,813.82 C702.98,814.4 704.88,815 706.76,815.68 C708.65,816.35 710.5,817.11 712.36,817.85 C714.21,818.58 716.06,819.35 717.91,820.11 C719.76,820.87 721.62,821.63 723.46,822.41 C725.3,823.19 727.13,824 728.96,824.81 C730.79,825.62 732.6,826.46 734.43,827.28 C736.25,828.11 738.07,828.93 739.88,829.79 C741.69,830.64 743.49,831.51 745.27,832.42 C747.05,833.33 748.81,834.29 750.56,835.24 C752.32,836.2 754.09,837.15 755.82,838.14 C757.56,839.13 759.28,840.14 760.98,841.19 C762.69,842.24 764.35,843.35 766.03,844.44 C767.7,845.54 769.36,846.65 771.04,847.75 C772.71,848.85 774.38,849.95 776.05,851.05 C777.72,852.14 779.4,853.24 781.07,854.33 C782.75,855.43 784.42,856.53 786.1,857.61 C787.78,858.7 789.46,859.78 791.15,860.85 C792.85,861.91 794.55,862.96 796.26,864 C797.96,865.05 799.67,866.09 801.39,867.12 C803.11,868.15 804.82,869.17 806.56,870.16 C808.3,871.14 810.07,872.09 811.83,873.04 C813.59,873.99 815.36,874.92 817.12,875.86 C818.89,876.8 820.66,877.74 822.42,878.68 C824.19,879.62 825.96,880.56 827.72,881.49 C829.49,882.43 831.26,883.38 833.03,884.3 C834.8,885.22 836.58,886.14 838.37,887.03 C840.16,887.93 841.96,888.8 843.76,889.68 C845.56,890.56 847.36,891.43 849.15,892.31 C850.95,893.19 852.75,894.06 854.55,894.94 C856.35,895.82 858.15,896.69 859.95,897.57 C861.74,898.45 863.54,899.32 865.34,900.21 C867.13,901.09 868.92,901.98 870.71,902.88 C872.5,903.77 874.29,904.68 876.07,905.58 C877.86,906.48 879.64,907.38 881.43,908.28 C883.22,909.18 885,910.09 886.79,910.99 C888.57,911.89 890.36,912.79 892.15,913.69 C893.93,914.6 895.71,915.5 897.48,916.44 C899.25,917.37 901.01,918.33 902.76,919.3 C904.51,920.27 906.25,921.25 907.99,922.24 C909.74,923.22 911.48,924.19 913.22,925.18 C914.96,926.18 916.7,927.15 918.41,928.2 C920.11,929.24 921.78,930.34 923.45,931.45 C925.11,932.56 926.74,933.72 928.38,934.86 C930.02,936.01 931.65,937.16 933.3,938.31 C934.94,939.45 936.57,940.6 938.23,941.72 C939.89,942.83 941.57,943.93 943.25,945.01 C944.93,946.09 946.63,947.14 948.33,948.21 C950.02,949.27 951.72,950.32 953.42,951.39 C955.11,952.45 956.81,953.51 958.49,954.59 C960.17,955.68 961.85,956.78 963.51,957.88 C965.18,958.99 966.83,960.11 968.49,961.23 C970.15,962.35 971.81,963.47 973.47,964.58 C975.13,965.7 976.79,966.83 978.46,967.93 C980.12,969.03 981.8,970.12 983.49,971.2 C985.18,972.27 986.88,973.32 988.58,974.37 C990.28,975.43 991.98,976.48 993.68,977.53 C995.39,978.58 997.09,979.64 998.79,980.69 C1000.49,981.74 1002.41,982.93 1003.89,983.84 C1005.38,984.76 1007.07,985.8 1007.7,986.2 L1007.7,1031.62 C1006.32,1031.21 1001.75,1029.86 999.41,1029.17 C997.06,1028.48 995.57,1028.04 993.65,1027.48 C991.73,1026.91 989.81,1026.36 987.9,1025.78 C985.98,1025.2 984.06,1024.63 982.16,1024.03 C980.25,1023.42 978.36,1022.77 976.47,1022.13 C974.57,1021.48 972.69,1020.81 970.8,1020.15 C968.91,1019.49 967.03,1018.83 965.14,1018.17 C963.25,1017.51 961.36,1016.84 959.47,1016.2 C957.57,1015.56 955.68,1014.94 953.77,1014.33 C951.86,1013.73 949.94,1013.16 948.03,1012.59 C946.11,1012.01 944.2,1011.44 942.28,1010.86 C940.36,1010.29 938.45,1009.72 936.53,1009.14 C934.62,1008.56 932.71,1007.98 930.8,1007.36 C928.9,1006.75 927.01,1006.1 925.12,1005.45 C923.22,1004.81 921.34,1004.14 919.45,1003.49 C917.56,1002.83 915.67,1002.17 913.78,1001.51 C911.89,1000.86 910,1000.2 908.11,999.54 C906.22,998.88 904.33,998.22 902.45,997.56 C900.56,996.9 898.67,996.24 896.78,995.58 C894.9,994.92 893.01,994.26 891.12,993.6 C889.23,992.94 887.35,992.27 885.46,991.62 C883.56,990.97 881.67,990.32 879.77,989.7 C877.87,989.08 875.96,988.49 874.05,987.9 C872.14,987.31 870.22,986.73 868.31,986.15 C866.39,985.57 864.48,984.99 862.57,984.4 C860.66,983.81 858.75,983.21 856.85,982.59 C854.95,981.97 853.06,981.31 851.16,980.67 C849.27,980.02 847.38,979.36 845.49,978.71 C843.6,978.05 841.71,977.4 839.82,976.74 C837.93,976.09 836.04,975.43 834.15,974.77 C832.27,974.12 830.38,973.46 828.49,972.8 C826.6,972.14 824.71,971.48 822.82,970.82 C820.94,970.15 819.05,969.49 817.16,968.83 C815.27,968.17 813.39,967.51 811.5,966.85 C809.61,966.18 807.72,965.52 805.84,964.86 C803.95,964.2 802.06,963.53 800.18,962.87 C798.29,962.21 796.4,961.54 794.52,960.88 C792.63,960.21 790.74,959.55 788.85,958.89 C786.97,958.23 785.08,957.56 783.18,956.93 C781.28,956.3 779.38,955.7 777.47,955.11 C775.56,954.51 773.64,953.95 771.72,953.37 C769.81,952.8 767.89,952.23 765.97,951.65 C764.06,951.08 762.14,950.5 760.22,949.95 C758.3,949.39 756.38,948.85 754.44,948.33 C752.51,947.82 750.57,947.34 748.63,946.85 C746.69,946.36 744.75,945.88 742.81,945.4 C740.87,944.92 738.92,944.44 736.98,943.96 C735.04,943.48 733.1,942.99 731.16,942.51 C729.22,942.02 727.28,941.53 725.34,941.04 C723.4,940.55 721.46,940.06 719.52,939.57 C717.58,939.08 715.65,938.59 713.71,938.1 C711.77,937.62 709.83,937.12 707.88,936.66 C705.94,936.2 703.98,935.76 702.03,935.35 C700.07,934.93 698.11,934.54 696.15,934.14 C694.19,933.75 692.23,933.36 690.27,932.96 C688.31,932.57 686.34,932.18 684.38,931.78 C682.43,931.37 680.47,930.97 678.51,930.55 C676.55,930.14 674.6,929.7 672.65,929.27 C670.69,928.85 668.74,928.41 666.79,927.98 C664.84,927.55 662.88,927.12 660.93,926.68 C658.98,926.24 657.02,925.82 655.09,925.33 C653.15,924.85 651.22,924.32 649.29,923.78 C647.37,923.24 645.46,922.65 643.54,922.08 C641.62,921.51 639.7,920.94 637.79,920.36 C635.88,919.78 633.95,919.23 632.05,918.61 C630.15,918 628.25,917.38 626.37,916.69 C624.49,916.01 622.64,915.26 620.78,914.53 C618.92,913.79 617.07,913.03 615.21,912.29 C613.36,911.54 611.5,910.79 609.65,910.04 C607.79,909.29 605.94,908.55 604.08,907.8 C602.22,907.06 600.37,906.32 598.51,905.57 C596.65,904.83 594.79,904.1 592.93,903.36 C591.07,902.62 589.22,901.88 587.36,901.14 C585.5,900.4 583.64,899.65 581.78,898.93 C579.91,898.21 578.05,897.48 576.17,896.79 C574.3,896.1 572.41,895.43 570.53,894.76 C568.64,894.1 566.75,893.44 564.86,892.78 C562.98,892.12 561.09,891.45 559.2,890.79 C557.31,890.14 555.42,889.47 553.53,888.84 C551.63,888.21 549.72,887.61 547.81,887.02 C545.9,886.42 543.98,885.85 542.07,885.28 C540.15,884.7 538.24,884.12 536.32,883.55 C534.41,882.98 532.49,882.39 530.57,881.85 C528.64,881.31 526.71,880.8 524.77,880.33 C522.83,879.87 520.86,879.49 518.9,879.08 C516.95,878.67 514.98,878.29 513.02,877.89 C511.06,877.5 509.1,877.1 507.14,876.71 C505.18,876.33 503.22,875.94 501.25,875.56 C499.28,875.19 497.32,874.84 495.35,874.48 C493.38,874.13 491.41,873.78 489.44,873.43 C487.47,873.09 485.5,872.73 483.53,872.39 C481.56,872.05 479.59,871.69 477.62,871.39 C475.64,871.09 473.66,870.82 471.67,870.58 C469.69,870.33 467.7,870.12 465.71,869.9 C463.72,869.67 461.74,869.46 459.75,869.24 C457.76,869.02 455.77,868.8 453.78,868.58 C451.8,868.36 449.81,868.14 447.82,867.92 C445.83,867.7 443.84,867.48 441.85,867.26 C439.87,867.04 437.88,866.82 435.89,866.6 C433.9,866.38 431.91,866.17 429.93,865.94 C427.94,865.72 425.95,865.49 423.97,865.25 C421.98,865.02 419.99,864.77 418.01,864.53 C416.02,864.28 414.04,864.03 412.05,863.78 C410.07,863.53 408.09,863.29 406.1,863.04 C404.12,862.79 402.13,862.54 400.15,862.29 C398.16,862.05 396.18,861.8 394.19,861.55 C392.21,861.3 390.22,861.06 388.24,860.8 C386.26,860.54 384.27,860.28 382.3,859.97 C380.32,859.66 378.35,859.31 376.39,858.95 C374.42,858.59 372.46,858.2 370.49,857.83 C368.53,857.45 366.56,857.07 364.6,856.69 C362.64,856.31 360.67,855.94 358.71,855.56 C356.74,855.18 354.78,854.8 352.82,854.43 C350.85,854.05 348.89,853.67 346.92,853.29 C344.96,852.92 343,852.52 341.03,852.17 C339.06,851.83 337.09,851.47 335.11,851.23 C333.13,850.98 331.14,850.83 329.15,850.68 C327.15,850.53 325.15,850.44 323.16,850.33 C321.16,850.21 319.16,850.1 317.17,849.98 C315.17,849.87 313.17,849.76 311.18,849.64 C309.18,849.53 307.18,849.42 305.19,849.3 C303.19,849.18 301.19,849.05 299.2,848.91 C297.2,848.78 295.21,848.62 293.21,848.46 C291.22,848.31 289.23,848.14 287.23,847.98 C285.24,847.83 283.24,847.67 281.25,847.51 C279.26,847.35 277.26,847.19 275.27,847.02 C273.28,846.85 271.28,846.69 269.29,846.49 C267.3,846.29 265.32,846.06 263.33,845.82 C261.35,845.59 259.36,845.34 257.38,845.09 C255.39,844.84 253.41,844.59 251.42,844.35 C249.44,844.1 247.45,843.85 245.47,843.61 C243.48,843.36 241.5,843.11 239.51,842.86 C237.53,842.62 235.54,842.37 233.56,842.12 C231.57,841.87 229.59,841.62 227.6,841.38 C225.62,841.13 223.63,840.88 221.65,840.63 C219.66,840.38 217.68,840.13 215.7,839.89 C213.71,839.64 211.73,839.39 209.74,839.14 C207.76,838.9 205.77,838.65 203.79,838.41 C201.8,838.17 199.81,837.93 197.83,837.69 C195.84,837.45 193.86,837.21 191.87,836.96 C189.89,836.72 187.9,836.48 185.91,836.24 C183.93,836 181.78,835.74 179.96,835.52 C178.14,835.3 175.83,835.02 175,834.92 Z" fill="#ff0000" fill-opacity="0.2"/>
<path d="M175,754.57 C175.74,754.92 177.79,755.89 179.43,756.66 C181.07,757.44 183.05,758.37 184.86,759.23 C186.67,760.08 188.49,760.91 190.27,761.81 C192.05,762.72 193.83,763.63 195.53,764.66 C197.24,765.68 198.84,766.89 200.51,767.97 C202.19,769.04 203.86,770.14 205.59,771.12 C207.32,772.11 209.12,772.99 210.9,773.9 C212.69,774.81 214.48,775.69 216.27,776.59 C218.06,777.48 219.85,778.38 221.65,779.26 C223.44,780.14 225.24,781.02 227.05,781.87 C228.87,782.71 230.7,783.52 232.53,784.34 C234.35,785.15 236.19,785.95 238.02,786.75 C239.86,787.55 241.68,788.37 243.53,789.15 C245.37,789.93 247.2,790.73 249.08,791.42 C250.95,792.1 252.86,792.7 254.77,793.28 C256.68,793.86 258.62,794.37 260.55,794.9 C262.48,795.43 264.4,795.97 266.34,796.47 C268.28,796.97 270.22,797.45 272.17,797.89 C274.12,798.33 276.08,798.74 278.05,799.12 C280.01,799.5 281.97,799.88 283.95,800.19 C285.92,800.49 287.91,800.73 289.9,800.96 C291.88,801.19 293.88,801.38 295.87,801.59 C297.86,801.79 299.85,801.99 301.84,802.2 C303.83,802.4 305.82,802.61 307.81,802.81 C309.8,803.02 311.79,803.22 313.78,803.43 C315.77,803.64 317.76,803.86 319.75,804.08 C321.74,804.3 323.73,804.53 325.72,804.75 C327.71,804.97 329.7,805.21 331.69,805.38 C333.68,805.56 335.67,805.7 337.67,805.81 C339.67,805.91 341.67,805.94 343.67,805.99 C345.67,806.05 347.67,806.08 349.67,806.13 C351.67,806.17 353.67,806.22 355.68,806.26 C357.68,806.31 359.68,806.36 361.68,806.38 C363.68,806.41 365.68,806.42 367.68,806.4 C369.68,806.38 371.68,806.31 373.68,806.26 C375.68,806.2 377.68,806.13 379.68,806.07 C381.68,806 383.68,805.94 385.68,805.88 C387.68,805.81 389.68,805.75 391.68,805.68 C393.68,805.6 395.68,805.53 397.68,805.43 C399.68,805.33 401.68,805.2 403.67,805.08 C405.67,804.95 407.67,804.81 409.66,804.68 C411.66,804.54 413.66,804.41 415.65,804.28 C417.65,804.14 419.65,804.01 421.65,803.87 C423.64,803.73 425.64,803.6 427.63,803.44 C429.63,803.27 431.62,803.09 433.61,802.9 C435.6,802.72 437.6,802.51 439.59,802.32 C441.58,802.12 443.57,801.92 445.56,801.72 C447.55,801.53 449.54,801.32 451.54,801.13 C453.53,800.95 455.52,800.74 457.51,800.62 C459.51,800.5 461.51,800.45 463.5,800.43 C465.5,800.41 467.5,800.48 469.5,800.52 C471.51,800.55 473.51,800.61 475.51,800.65 C477.51,800.69 479.51,800.74 481.51,800.79 C483.51,800.84 485.51,800.87 487.51,800.95 C489.51,801.04 491.5,801.15 493.5,801.31 C495.49,801.46 497.48,801.68 499.47,801.88 C501.46,802.09 503.45,802.3 505.44,802.51 C507.43,802.72 509.42,802.93 511.41,803.14 C513.4,803.35 515.4,803.56 517.38,803.77 C519.37,803.99 521.37,804.19 523.35,804.43 C525.34,804.68 527.32,804.94 529.3,805.24 C531.28,805.53 533.25,805.86 535.23,806.18 C537.2,806.49 539.18,806.82 541.15,807.14 C543.13,807.47 545.1,807.79 547.08,808.11 C549.05,808.44 551.03,808.76 553,809.08 C554.98,809.4 556.96,809.71 558.93,810.02 C560.91,810.33 562.89,810.62 564.87,810.92 C566.85,811.22 568.83,811.52 570.81,811.81 C572.79,812.11 574.77,812.41 576.74,812.7 C578.72,813 580.7,813.3 582.68,813.6 C584.66,813.89 586.64,814.19 588.62,814.49 C590.6,814.79 592.58,815.08 594.56,815.38 C596.53,815.68 598.51,815.98 600.49,816.28 C602.47,816.57 604.45,816.87 606.43,817.17 C608.41,817.47 610.39,817.76 612.37,818.07 C614.34,818.37 616.32,818.67 618.3,818.99 C620.27,819.31 622.24,819.66 624.21,820.01 C626.18,820.36 628.15,820.74 630.12,821.1 C632.09,821.46 634.05,821.83 636.02,822.2 C637.99,822.56 639.96,822.92 641.92,823.3 C643.89,823.67 645.86,824.02 647.82,824.43 C649.78,824.84 651.73,825.27 653.67,825.74 C655.62,826.21 657.55,826.74 659.48,827.26 C661.41,827.77 663.35,828.3 665.28,828.82 C667.21,829.34 669.14,829.86 671.08,830.38 C673.01,830.89 674.94,831.43 676.88,831.91 C678.82,832.4 680.76,832.87 682.72,833.28 C684.67,833.7 686.65,834.04 688.61,834.4 C690.58,834.76 692.55,835.1 694.53,835.45 C696.5,835.8 698.47,836.14 700.44,836.49 C702.41,836.84 704.38,837.18 706.35,837.54 C708.32,837.89 710.29,838.24 712.26,838.61 C714.23,838.97 716.19,839.36 718.15,839.74 C720.12,840.13 722.08,840.52 724.04,840.91 C726.01,841.29 727.97,841.68 729.93,842.07 C731.9,842.46 733.86,842.85 735.82,843.24 C737.79,843.63 739.75,844.02 741.71,844.4 C743.68,844.79 745.64,845.17 747.61,845.55 C749.57,845.93 751.54,846.31 753.5,846.68 C755.47,847.06 757.43,847.44 759.4,847.82 C761.36,848.2 763.33,848.57 765.29,848.95 C767.26,849.33 769.23,849.7 771.18,850.11 C773.14,850.52 775.1,850.94 777.04,851.4 C778.99,851.86 780.93,852.37 782.86,852.87 C784.8,853.36 786.74,853.87 788.68,854.38 C790.61,854.88 792.55,855.38 794.49,855.89 C796.42,856.39 798.36,856.89 800.3,857.39 C802.24,857.89 804.18,858.39 806.12,858.87 C808.06,859.35 810.01,859.81 811.96,860.27 C813.9,860.73 815.85,861.18 817.8,861.64 C819.75,862.1 821.7,862.55 823.65,863.01 C825.59,863.47 827.54,863.93 829.49,864.4 C831.43,864.88 833.37,865.36 835.32,865.84 C837.26,866.33 839.2,866.82 841.14,867.31 C843.08,867.8 845.02,868.29 846.96,868.78 C848.9,869.27 850.84,869.75 852.78,870.24 C854.72,870.73 856.67,871.21 858.61,871.7 C860.55,872.18 862.49,872.66 864.43,873.15 C866.37,873.63 868.32,874.12 870.26,874.6 C872.2,875.08 874.14,875.58 876.09,876.05 C878.03,876.52 879.97,877 881.93,877.43 C883.88,877.86 885.84,878.24 887.81,878.61 C889.77,878.99 891.75,879.32 893.72,879.67 C895.69,880.02 897.66,880.37 899.63,880.71 C901.6,881.06 903.57,881.42 905.54,881.75 C907.52,882.09 909.48,882.46 911.46,882.74 C913.44,883.02 915.43,883.25 917.42,883.44 C919.41,883.63 921.41,883.74 923.4,883.88 C925.4,884.02 927.4,884.15 929.39,884.26 C931.39,884.38 933.39,884.52 935.39,884.58 C937.38,884.63 939.38,884.62 941.38,884.58 C943.38,884.55 945.38,884.43 947.38,884.34 C949.38,884.26 951.38,884.17 953.37,884.06 C955.37,883.95 957.37,883.86 959.36,883.7 C961.36,883.54 963.34,883.32 965.33,883.08 C967.32,882.84 969.3,882.55 971.28,882.28 C973.26,882 975.24,881.72 977.22,881.44 C979.21,881.17 981.19,880.89 983.17,880.63 C985.16,880.36 987.14,880.11 989.13,879.87 C991.11,879.62 993.1,879.39 995.09,879.15 C997.08,878.91 998.95,878.69 1001.05,878.44 C1003.15,878.19 1006.59,877.79 1007.7,877.65 L1007.7,948.53 C1006.58,948.55 1003.11,948.63 1000.99,948.67 C998.87,948.72 996.98,948.76 994.98,948.81 C992.97,948.85 990.97,948.89 988.97,948.94 C986.96,948.99 984.96,949.03 982.96,949.1 C980.96,949.16 978.95,949.25 976.95,949.34 C974.95,949.43 972.95,949.54 970.95,949.64 C968.95,949.74 966.95,949.85 964.95,949.95 C962.94,950.05 960.94,950.15 958.94,950.24 C956.94,950.32 954.94,950.4 952.93,950.46 C950.93,950.52 948.93,950.57 946.93,950.62 C944.92,950.67 942.92,950.71 940.92,950.76 C938.91,950.8 936.91,950.86 934.91,950.88 C932.9,950.9 930.9,950.91 928.9,950.89 C926.9,950.86 924.89,950.78 922.89,950.72 C920.89,950.66 918.89,950.58 916.88,950.51 C914.88,950.43 912.88,950.38 910.88,950.28 C908.88,950.18 906.88,950.08 904.88,949.91 C902.89,949.73 900.9,949.49 898.91,949.25 C896.92,949.01 894.94,948.74 892.95,948.48 C890.96,948.22 888.97,947.99 886.99,947.69 C885.02,947.39 883.03,947.13 881.09,946.68 C879.15,946.24 877.24,945.64 875.35,945.02 C873.45,944.41 871.58,943.67 869.7,942.98 C867.82,942.29 865.94,941.58 864.06,940.9 C862.18,940.21 860.3,939.52 858.41,938.86 C856.51,938.2 854.61,937.58 852.71,936.95 C850.8,936.33 848.89,935.73 846.98,935.13 C845.07,934.52 843.16,933.92 841.25,933.3 C839.35,932.68 837.44,932.06 835.55,931.41 C833.65,930.77 831.76,930.1 829.87,929.43 C827.98,928.76 826.1,928.07 824.21,927.4 C822.33,926.72 820.44,926.04 818.56,925.37 C816.67,924.69 814.78,924.02 812.9,923.33 C811.02,922.65 809.13,921.98 807.27,921.24 C805.41,920.5 803.57,919.71 801.75,918.89 C799.92,918.07 798.12,917.18 796.31,916.31 C794.51,915.45 792.7,914.58 790.9,913.71 C789.09,912.84 787.29,911.96 785.48,911.1 C783.68,910.23 781.88,909.33 780.06,908.52 C778.23,907.71 776.41,906.89 774.53,906.24 C772.64,905.58 770.7,905.09 768.77,904.59 C766.84,904.08 764.87,903.66 762.92,903.2 C760.97,902.74 759.02,902.28 757.07,901.83 C755.12,901.37 753.17,900.91 751.22,900.46 C749.26,900.02 747.31,899.56 745.35,899.16 C743.39,898.76 741.42,898.42 739.44,898.08 C737.47,897.75 735.48,897.47 733.5,897.17 C731.52,896.87 729.54,896.57 727.56,896.28 C725.58,895.98 723.59,895.68 721.61,895.38 C719.63,895.09 717.65,894.78 715.66,894.53 C713.68,894.27 711.69,894.04 709.7,893.85 C707.7,893.65 705.7,893.52 703.71,893.36 C701.71,893.21 699.71,893.06 697.71,892.92 C695.71,892.77 693.71,892.62 691.72,892.48 C689.72,892.33 687.72,892.17 685.72,892.05 C683.72,891.92 681.72,891.8 679.72,891.71 C677.72,891.62 675.72,891.57 673.71,891.51 C671.71,891.45 669.71,891.41 667.7,891.35 C665.7,891.3 663.7,891.25 661.69,891.2 C659.69,891.15 657.69,891.1 655.69,891.04 C653.68,890.98 651.68,890.92 649.68,890.83 C647.68,890.73 645.68,890.61 643.68,890.5 C641.68,890.38 639.68,890.25 637.68,890.12 C635.68,889.99 633.68,889.87 631.68,889.74 C629.68,889.61 627.68,889.47 625.68,889.34 C623.68,889.2 621.68,889.06 619.68,888.92 C617.69,888.77 615.69,888.63 613.69,888.49 C611.69,888.35 609.69,888.21 607.69,888.06 C605.69,887.91 603.7,887.75 601.7,887.58 C599.7,887.41 597.71,887.21 595.72,887.02 C593.72,886.83 591.73,886.63 589.73,886.43 C587.74,886.24 585.74,886.05 583.75,885.84 C581.76,885.64 579.76,885.44 577.77,885.21 C575.78,884.99 573.79,884.74 571.81,884.49 C569.82,884.25 567.83,883.98 565.84,883.72 C563.86,883.47 561.87,883.21 559.88,882.95 C557.9,882.7 555.91,882.43 553.92,882.2 C551.93,881.96 549.94,881.73 547.95,881.51 C545.96,881.3 543.96,881.1 541.97,880.89 C539.98,880.68 537.98,880.48 535.99,880.27 C534,880.07 532,879.87 530.01,879.64 C528.02,879.41 526.03,879.17 524.05,878.9 C522.06,878.64 520.08,878.33 518.1,878.04 C516.12,877.75 514.14,877.45 512.15,877.15 C510.17,876.86 508.19,876.56 506.21,876.26 C504.23,875.97 502.25,875.67 500.26,875.37 C498.28,875.08 496.3,874.78 494.32,874.49 C492.34,874.19 490.36,873.89 488.37,873.6 C486.39,873.3 484.41,873 482.43,872.71 C480.44,872.42 478.46,872.13 476.48,871.88 C474.49,871.63 472.5,871.42 470.5,871.21 C468.51,871 466.52,870.81 464.52,870.62 C462.53,870.43 460.53,870.23 458.54,870.04 C456.54,869.85 454.55,869.66 452.55,869.46 C450.56,869.27 448.57,869.08 446.57,868.88 C444.58,868.69 442.58,868.5 440.59,868.31 C438.59,868.11 436.6,867.92 434.6,867.73 C432.61,867.54 430.62,867.34 428.62,867.16 C426.62,866.98 424.63,866.81 422.63,866.66 C420.63,866.51 418.63,866.37 416.63,866.24 C414.64,866.1 412.64,865.97 410.64,865.83 C408.64,865.7 406.64,865.57 404.64,865.42 C402.64,865.28 400.64,865.13 398.65,864.95 C396.65,864.77 394.66,864.55 392.67,864.33 C390.68,864.11 388.69,863.86 386.7,863.63 C384.71,863.4 382.72,863.17 380.73,862.92 C378.74,862.68 376.75,862.45 374.77,862.17 C372.78,861.9 370.81,861.58 368.83,861.26 C366.85,860.93 364.88,860.57 362.91,860.22 C360.93,859.87 358.96,859.53 356.99,859.17 C355.02,858.81 353.04,858.48 351.08,858.08 C349.12,857.68 347.16,857.26 345.21,856.79 C343.27,856.32 341.34,855.77 339.4,855.26 C337.47,854.75 335.54,854.21 333.59,853.72 C331.65,853.23 329.7,852.77 327.75,852.33 C325.79,851.89 323.83,851.49 321.87,851.08 C319.91,850.66 317.95,850.26 315.98,849.85 C314.02,849.44 312.06,849.03 310.1,848.63 C308.14,848.22 306.18,847.8 304.21,847.41 C302.25,847.03 300.28,846.65 298.31,846.31 C296.33,845.97 294.35,845.68 292.37,845.37 C290.39,845.06 288.41,844.77 286.43,844.47 C284.44,844.17 282.46,843.87 280.48,843.57 C278.5,843.28 276.52,842.98 274.54,842.68 C272.56,842.38 270.57,842.08 268.59,841.78 C266.61,841.49 264.63,841.19 262.65,840.89 C260.67,840.59 258.69,840.3 256.7,840 C254.72,839.7 252.74,839.4 250.76,839.11 C248.78,838.81 246.8,838.51 244.82,838.21 C242.83,837.91 240.85,837.61 238.87,837.3 C236.89,836.98 234.92,836.66 232.94,836.32 C230.97,835.99 228.99,835.64 227.02,835.3 C225.04,834.96 223.07,834.62 221.1,834.28 C219.12,833.94 217.15,833.6 215.17,833.25 C213.2,832.91 211.22,832.57 209.25,832.2 C207.28,831.84 205.32,831.45 203.36,831.05 C201.39,830.64 199.44,830.2 197.48,829.78 C195.52,829.35 193.57,828.91 191.61,828.48 C189.65,828.05 187.7,827.62 185.74,827.19 C183.78,826.76 181.66,826.29 179.87,825.89 C178.08,825.5 175.81,825 175,824.82 Z" fill="#0000ff" fill-opacity="0.2"/>
<path d="M175,789.9 C175.76,790.2 177.89,791.05 179.59,791.72 C181.28,792.4 183.32,793.2 185.17,793.95 C187.03,794.7 188.89,795.45 190.73,796.24 C192.57,797.03 194.4,797.85 196.23,798.67 C198.06,799.49 199.88,800.33 201.71,801.15 C203.54,801.96 205.38,802.77 207.22,803.55 C209.07,804.33 210.93,805.07 212.79,805.82 C214.65,806.56 216.51,807.3 218.38,808.03 C220.25,808.75 222.12,809.47 224,810.17 C225.88,810.86 227.77,811.54 229.65,812.22 C231.54,812.89 233.43,813.57 235.33,814.21 C237.22,814.85 239.13,815.46 241.05,816.05 C242.96,816.65 244.88,817.21 246.81,817.77 C248.73,818.33 250.66,818.88 252.6,819.4 C254.53,819.92 256.48,820.4 258.43,820.87 C260.37,821.34 262.32,821.8 264.28,822.25 C266.23,822.69 268.19,823.12 270.15,823.52 C272.12,823.93 274.09,824.29 276.06,824.66 C278.03,825.03 280,825.4 281.97,825.74 C283.95,826.08 285.92,826.41 287.9,826.72 C289.88,827.03 291.87,827.32 293.85,827.6 C295.84,827.89 297.82,828.18 299.81,828.44 C301.79,828.7 303.78,828.94 305.77,829.17 C307.76,829.41 309.76,829.64 311.75,829.86 C313.74,830.07 315.73,830.28 317.73,830.47 C319.72,830.67 321.72,830.84 323.72,831.02 C325.71,831.19 327.71,831.37 329.71,831.54 C331.71,831.7 333.7,831.87 335.7,832.03 C337.7,832.18 339.7,832.33 341.7,832.47 C343.7,832.62 345.7,832.75 347.7,832.9 C349.7,833.04 351.7,833.18 353.7,833.32 C355.7,833.46 357.69,833.61 359.69,833.74 C361.69,833.86 363.69,834 365.7,834.09 C367.7,834.17 369.7,834.22 371.71,834.26 C373.71,834.31 375.71,834.32 377.72,834.35 C379.72,834.37 381.73,834.4 383.73,834.42 C385.73,834.45 387.74,834.48 389.74,834.5 C391.75,834.52 393.75,834.55 395.76,834.56 C397.76,834.56 399.76,834.55 401.77,834.54 C403.77,834.52 405.78,834.49 407.78,834.47 C409.79,834.44 411.79,834.42 413.79,834.39 C415.8,834.36 417.8,834.34 419.81,834.31 C421.81,834.29 423.82,834.26 425.82,834.24 C427.83,834.23 429.83,834.21 431.83,834.21 C433.84,834.2 435.84,834.2 437.85,834.2 C439.85,834.2 441.86,834.2 443.86,834.2 C445.87,834.2 447.87,834.2 449.87,834.2 C451.88,834.2 453.88,834.19 455.89,834.21 C457.89,834.23 459.89,834.27 461.9,834.32 C463.9,834.38 465.9,834.48 467.91,834.56 C469.91,834.64 471.91,834.74 473.91,834.83 C475.92,834.92 477.92,835.01 479.92,835.1 C481.92,835.19 483.93,835.27 485.93,835.37 C487.93,835.47 489.93,835.57 491.93,835.68 C493.93,835.8 495.93,835.93 497.93,836.06 C499.93,836.19 501.94,836.31 503.93,836.46 C505.93,836.61 507.93,836.75 509.93,836.93 C511.92,837.12 513.91,837.35 515.9,837.59 C517.89,837.83 519.88,838.09 521.87,838.35 C523.86,838.61 525.84,838.87 527.83,839.14 C529.81,839.41 531.8,839.69 533.78,839.97 C535.77,840.25 537.75,840.53 539.74,840.82 C541.72,841.12 543.7,841.42 545.68,841.73 C547.66,842.04 549.64,842.36 551.62,842.67 C553.6,842.98 555.58,843.3 557.56,843.6 C559.54,843.91 561.53,844.2 563.51,844.49 C565.49,844.79 567.47,845.07 569.46,845.37 C571.44,845.66 573.42,845.96 575.4,846.26 C577.39,846.56 579.37,846.87 581.35,847.17 C583.33,847.47 585.31,847.77 587.29,848.06 C589.28,848.35 591.26,848.63 593.25,848.91 C595.23,849.18 597.22,849.45 599.21,849.72 C601.19,849.99 603.18,850.26 605.17,850.53 C607.15,850.8 609.14,851.09 611.12,851.36 C613.11,851.64 615.09,851.92 617.08,852.18 C619.06,852.44 621.05,852.69 623.04,852.93 C625.03,853.16 627.03,853.37 629.02,853.59 C631.01,853.82 633,854.03 635,854.26 C636.99,854.48 638.98,854.71 640.97,854.94 C642.96,855.17 644.95,855.41 646.94,855.65 C648.93,855.88 650.92,856.12 652.91,856.37 C654.9,856.61 656.89,856.86 658.88,857.11 C660.87,857.36 662.86,857.61 664.85,857.86 C666.84,858.1 668.83,858.35 670.81,858.6 C672.8,858.85 674.79,859.09 676.78,859.36 C678.76,859.64 680.75,859.92 682.73,860.24 C684.7,860.56 686.67,860.93 688.65,861.29 C690.62,861.65 692.59,862.02 694.56,862.39 C696.53,862.77 698.49,863.15 700.46,863.53 C702.43,863.92 704.39,864.3 706.36,864.7 C708.32,865.1 710.29,865.5 712.24,865.93 C714.2,866.36 716.15,866.83 718.1,867.29 C720.05,867.74 722,868.23 723.95,868.69 C725.9,869.15 727.85,869.61 729.81,870.05 C731.76,870.5 733.72,870.92 735.68,871.35 C737.63,871.78 739.59,872.21 741.55,872.64 C743.51,873.07 745.47,873.5 747.42,873.94 C749.38,874.37 751.33,874.81 753.29,875.25 C755.25,875.69 757.2,876.13 759.16,876.58 C761.11,877.02 763.06,877.47 765.02,877.92 C766.97,878.37 768.92,878.82 770.88,879.28 C772.83,879.73 774.78,880.19 776.73,880.66 C778.68,881.12 780.63,881.59 782.57,882.07 C784.52,882.55 786.47,883.02 788.41,883.52 C790.35,884.03 792.28,884.55 794.21,885.09 C796.14,885.63 798.06,886.2 799.99,886.74 C801.92,887.28 803.85,887.82 805.79,888.33 C807.73,888.83 809.68,889.3 811.63,889.77 C813.58,890.24 815.53,890.7 817.48,891.15 C819.43,891.61 821.39,892.06 823.34,892.51 C825.29,892.95 827.25,893.39 829.21,893.83 C831.16,894.28 833.12,894.71 835.07,895.17 C837.02,895.63 838.97,896.11 840.91,896.58 C842.86,897.06 844.8,897.55 846.75,898.04 C848.69,898.53 850.63,899.03 852.57,899.54 C854.51,900.05 856.44,900.59 858.37,901.11 C860.31,901.64 862.24,902.18 864.17,902.71 C866.1,903.24 868.04,903.77 869.97,904.3 C871.9,904.83 873.83,905.37 875.77,905.89 C877.7,906.41 879.64,906.94 881.58,907.44 C883.52,907.93 885.47,908.4 887.42,908.86 C889.37,909.31 891.33,909.75 893.29,910.18 C895.25,910.6 897.21,911.02 899.18,911.39 C901.14,911.76 903.12,912.09 905.1,912.42 C907.08,912.74 909.05,913.06 911.04,913.34 C913.02,913.62 915.01,913.88 917,914.1 C918.99,914.32 920.99,914.5 922.99,914.67 C924.98,914.84 926.98,915.01 928.98,915.11 C930.98,915.21 932.98,915.25 934.98,915.28 C936.99,915.31 938.99,915.3 941,915.29 C943,915.27 945,915.24 947.01,915.17 C949.01,915.11 951.01,915.01 953.01,914.91 C955.02,914.81 957.02,914.71 959.02,914.59 C961.02,914.47 963.02,914.33 965.02,914.18 C967.02,914.04 969.01,913.88 971.01,913.72 C973.01,913.57 975.01,913.41 977.01,913.26 C979.01,913.1 981.01,912.94 983,912.79 C985,912.64 987,912.5 989,912.36 C991,912.22 993,912.09 995,911.95 C997,911.81 998.88,911.69 1001,911.54 C1003.12,911.4 1006.58,911.16 1007.7,911.09" fill="none" stroke="#0000ff" stroke-width="8" stroke-linejoin="round" stroke-linecap="butt"/>
<path d="M175,784.33 C175.83,784.36 178.17,784.42 180.01,784.48 C181.84,784.54 184.01,784.6 186.02,784.67 C188.02,784.74 190.02,784.81 192.02,784.89 C194.02,784.98 196.02,785.08 198.03,785.18 C200.03,785.28 202.03,785.39 204.03,785.49 C206.03,785.59 208.03,785.69 210.03,785.8 C212.03,785.9 214.03,786 216.03,786.11 C218.04,786.22 220.04,786.33 222.03,786.46 C224.03,786.58 226.03,786.73 228.03,786.88 C230.03,787.03 232.03,787.19 234.02,787.34 C236.02,787.49 238.02,787.64 240.02,787.78 C242.02,787.93 244.02,788.07 246.01,788.21 C248.01,788.35 250.01,788.49 252.01,788.63 C254.01,788.77 256.01,788.91 258.01,789.05 C260,789.19 262,789.33 264,789.47 C266,789.62 268,789.77 270,789.92 C271.99,790.08 273.99,790.24 275.99,790.41 C277.98,790.57 279.98,790.74 281.98,790.9 C283.97,791.06 285.97,791.22 287.97,791.38 C289.97,791.54 291.96,791.69 293.96,791.84 C295.96,791.99 297.96,792.15 299.96,792.29 C301.95,792.44 303.95,792.58 305.95,792.73 C307.95,792.87 309.95,793 311.94,793.18 C313.94,793.36 315.93,793.56 317.92,793.8 C319.91,794.03 321.89,794.33 323.87,794.6 C325.86,794.88 327.84,795.18 329.82,795.45 C331.81,795.72 333.79,795.99 335.78,796.24 C337.77,796.48 339.76,796.69 341.75,796.91 C343.75,797.13 345.74,797.34 347.73,797.55 C349.72,797.76 351.72,797.97 353.71,798.18 C355.7,798.39 357.69,798.6 359.69,798.81 C361.68,799.02 363.67,799.23 365.66,799.44 C367.66,799.65 369.65,799.86 371.64,800.08 C373.63,800.29 375.63,800.5 377.62,800.71 C379.61,800.92 381.6,801.13 383.6,801.34 C385.59,801.55 387.58,801.76 389.57,801.97 C391.57,802.19 393.56,802.39 395.55,802.61 C397.54,802.83 399.53,803.06 401.52,803.29 C403.51,803.52 405.5,803.76 407.49,803.99 C409.48,804.23 411.47,804.46 413.46,804.7 C415.45,804.93 417.44,805.17 419.43,805.4 C421.42,805.64 423.41,805.87 425.4,806.12 C427.39,806.36 429.38,806.61 431.36,806.86 C433.35,807.11 435.34,807.37 437.33,807.63 C439.31,807.89 441.3,808.16 443.28,808.42 C445.27,808.68 447.26,808.94 449.24,809.2 C451.23,809.46 453.22,809.72 455.2,809.99 C457.19,810.27 459.17,810.55 461.15,810.85 C463.13,811.16 465.11,811.49 467.08,811.82 C469.06,812.15 471.03,812.49 473.01,812.83 C474.98,813.16 476.96,813.5 478.93,813.83 C480.91,814.17 482.88,814.5 484.86,814.84 C486.84,815.18 488.81,815.51 490.79,815.85 C492.76,816.18 494.74,816.51 496.71,816.85 C498.69,817.18 500.66,817.51 502.64,817.85 C504.61,818.2 506.59,818.52 508.56,818.89 C510.53,819.27 512.49,819.67 514.45,820.08 C516.41,820.5 518.36,820.93 520.31,821.39 C522.27,821.84 524.22,822.3 526.15,822.8 C528.09,823.31 530.01,823.87 531.94,824.44 C533.86,825 535.78,825.58 537.69,826.17 C539.6,826.76 541.52,827.36 543.42,827.98 C545.33,828.6 547.22,829.25 549.12,829.89 C551.02,830.53 552.92,831.18 554.81,831.82 C556.71,832.47 558.6,833.12 560.5,833.77 C562.39,834.42 564.29,835.07 566.18,835.72 C568.08,836.37 569.97,837.02 571.87,837.66 C573.77,838.3 575.67,838.93 577.58,839.56 C579.48,840.19 581.38,840.81 583.29,841.42 C585.2,842.03 587.11,842.64 589.02,843.22 C590.94,843.79 592.87,844.34 594.8,844.88 C596.73,845.42 598.66,845.95 600.6,846.47 C602.53,846.98 604.47,847.49 606.42,847.97 C608.36,848.46 610.31,848.92 612.26,849.39 C614.21,849.85 616.16,850.31 618.11,850.77 C620.06,851.23 622.01,851.68 623.96,852.14 C625.91,852.59 627.86,853.04 629.82,853.48 C631.77,853.92 633.73,854.36 635.69,854.77 C637.65,855.18 639.62,855.55 641.59,855.93 C643.55,856.3 645.52,856.67 647.5,857.01 C649.47,857.36 651.45,857.69 653.42,858.01 C655.4,858.33 657.38,858.63 659.36,858.94 C661.34,859.25 663.32,859.56 665.3,859.87 C667.28,860.19 669.26,860.51 671.23,860.84 C673.21,861.17 675.19,861.49 677.16,861.85 C679.13,862.2 681.1,862.57 683.06,862.98 C685.02,863.39 686.97,863.84 688.92,864.29 C690.88,864.74 692.83,865.19 694.77,865.67 C696.71,866.16 698.65,866.68 700.58,867.21 C702.51,867.74 704.44,868.3 706.36,868.86 C708.28,869.43 710.2,870 712.11,870.61 C714.02,871.22 715.91,871.88 717.8,872.54 C719.69,873.19 721.58,873.87 723.46,874.55 C725.34,875.24 727.22,875.93 729.09,876.65 C730.96,877.37 732.82,878.12 734.68,878.86 C736.54,879.61 738.4,880.35 740.25,881.12 C742.1,881.89 743.94,882.68 745.78,883.48 C747.61,884.28 749.44,885.12 751.26,885.94 C753.09,886.77 754.91,887.6 756.74,888.43 C758.56,889.25 760.39,890.07 762.22,890.89 C764.05,891.7 765.88,892.51 767.72,893.32 C769.55,894.13 771.38,894.94 773.22,895.73 C775.06,896.52 776.91,897.3 778.76,898.07 C780.6,898.85 782.46,899.59 784.31,900.37 C786.16,901.14 788.01,901.9 789.85,902.71 C791.68,903.52 793.5,904.36 795.31,905.21 C797.13,906.05 798.93,906.92 800.74,907.79 C802.54,908.66 804.34,909.54 806.13,910.44 C807.92,911.34 809.7,912.27 811.48,913.19 C813.25,914.12 815.02,915.06 816.8,915.99 C818.57,916.91 820.35,917.84 822.14,918.75 C823.92,919.66 825.71,920.55 827.5,921.45 C829.3,922.35 831.08,923.25 832.89,924.12 C834.69,924.99 836.5,925.84 838.33,926.67 C840.15,927.5 842,928.28 843.84,929.08 C845.67,929.87 847.52,930.66 849.36,931.45 C851.2,932.23 853.05,933.01 854.9,933.79 C856.74,934.56 858.59,935.33 860.44,936.1 C862.29,936.87 864.14,937.64 866,938.4 C867.85,939.16 869.71,939.9 871.57,940.65 C873.43,941.4 875.3,942.13 877.15,942.89 C879,943.66 880.85,944.43 882.68,945.23 C884.52,946.03 886.35,946.85 888.17,947.68 C889.99,948.51 891.81,949.35 893.62,950.22 C895.42,951.09 897.22,951.98 899.01,952.88 C900.8,953.78 902.58,954.69 904.36,955.62 C906.13,956.54 907.9,957.49 909.66,958.44 C911.43,959.39 913.18,960.36 914.94,961.32 C916.69,962.29 918.45,963.25 920.21,964.22 C921.96,965.18 923.72,966.15 925.47,967.12 C927.23,968.08 928.98,969.05 930.74,970.02 C932.49,970.99 934.24,971.95 936,972.92 C937.75,973.89 939.51,974.86 941.26,975.82 C943.02,976.79 944.77,977.76 946.53,978.72 C948.28,979.69 950.04,980.66 951.79,981.62 C953.55,982.59 955.3,983.55 957.06,984.51 C958.82,985.48 960.58,986.43 962.34,987.39 C964.1,988.35 965.86,989.3 967.63,990.25 C969.39,991.2 971.16,992.14 972.93,993.08 C974.7,994.01 976.47,994.95 978.25,995.88 C980.03,996.8 981.81,997.72 983.59,998.63 C985.38,999.54 987.17,1000.44 988.97,1001.33 C990.76,1002.21 992.56,1003.09 994.37,1003.95 C996.19,1004.8 997.62,1005.44 999.84,1006.44 C1002.06,1007.43 1006.39,1009.34 1007.7,1009.92" fill="none" stroke="#ff0000" stroke-width="8" stroke-linejoin="round" stroke-linecap="butt"/>
</g>
<line x1="175" y1="1004.21" x2="180.5" y2="1004.21" class="tk"/>
<line x1="1002.2" y1="1004.21" x2="1007.7" y2="1004.21" class="tk"/>
<line x1="175" y1="954.08" x2="180.5" y2="954.08" class="tk"/>
<line x1="1002.2" y1="954.08" x2="1007.7" y2="954.08" class="tk"/>
<line x1="175" y1="910.66" x2="180.5" y2="910.66" class="tk"/>
<line x1="1002.2" y1="910.66" x2="1007.7" y2="910.66" class="tk"/>
<line x1="175" y1="872.36" x2="180.5" y2="872.36" class="tk"/>
<line x1="1002.2" y1="872.36" x2="1007.7" y2="872.36" class="tk"/>
<line x1="175" y1="807.11" x2="180.5" y2="807.11" class="tk"/>
<line x1="1002.2" y1="807.11" x2="1007.7" y2="807.11" class="tk"/>
<line x1="175" y1="778.81" x2="180.5" y2="778.81" class="tk"/>
<line x1="1002.2" y1="778.81" x2="1007.7" y2="778.81" class="tk"/>
<line x1="175" y1="752.78" x2="180.5" y2="752.78" class="tk"/>
<line x1="1002.2" y1="752.78" x2="1007.7" y2="752.78" class="tk"/>
<line x1="175" y1="728.68" x2="180.5" y2="728.68" class="tk"/>
<line x1="1002.2" y1="728.68" x2="1007.7" y2="728.68" class="tk"/>
<line x1="175" y1="685.26" x2="180.5" y2="685.26" class="tk"/>
<line x1="1002.2" y1="685.26" x2="1007.7" y2="685.26" class="tk"/>
<line x1="175" y1="665.55" x2="180.5" y2="665.55" class="tk"/>
<line x1="1002.2" y1="665.55" x2="1007.7" y2="665.55" class="tk"/>
<line x1="175" y1="646.96" x2="180.5" y2="646.96" class="tk"/>
<line x1="1002.2" y1="646.96" x2="1007.7" y2="646.96" class="tk"/>
<line x1="175" y1="629.38" x2="180.5" y2="629.38" class="tk"/>
<line x1="1002.2" y1="629.38" x2="1007.7" y2="629.38" class="tk"/>
<line x1="175" y1="838.1" x2="184" y2="838.1" class="tk"/>
<line x1="998.7" y1="838.1" x2="1007.7" y2="838.1" class="tk"/>
<line x1="175" y1="706.25" x2="184" y2="706.25" class="tk"/>
<line x1="998.7" y1="706.25" x2="1007.7" y2="706.25" class="tk"/>
<line x1="341.54" y1="1063.5" x2="341.54" y2="1054.5" class="tk"/>
<line x1="341.54" y1="612.7" x2="341.54" y2="621.7" class="tk"/>
<line x1="508.08" y1="1063.5" x2="508.08" y2="1054.5" class="tk"/>
<line x1="508.08" y1="612.7" x2="508.08" y2="621.7" class="tk"/>
<line x1="674.62" y1="1063.5" x2="674.62" y2="1054.5" class="tk"/>
<line x1="674.62" y1="612.7" x2="674.62" y2="621.7" class="tk"/>
<line x1="841.16" y1="1063.5" x2="841.16" y2="1054.5" class="tk"/>
<line x1="841.16" y1="612.7" x2="841.16" y2="621.7" class="tk"/>
<rect x="175" y="612.7" width="832.7" height="450.8" fill="none" stroke="#262626" stroke-width="2"/>
<g clip-path="url(#cc)">
<line x1="166.3" y1="1761.61" x2="1019" y2="1761.61" class="mg" stroke-dashoffset="13"/>
<line x1="166.3" y1="1735.64" x2="1019" y2="1735.64" class="mg" stroke-dashoffset="13"/>
<line x1="166.3" y1="1717.21" x2="1019" y2="1717.21" class="mg" stroke-dashoffset="13"/>
<line x1="166.3" y1="1702.92" x2="1019" y2="1702.92" class="mg" stroke-dashoffset="13"/>
<line x1="166.3" y1="1691.24" x2="1019" y2="1691.24" class="mg" stroke-dashoffset="13"/>
<line x1="166.3" y1="1681.37" x2="1019" y2="1681.37" class="mg" stroke-dashoffset="13"/>
<line x1="166.3" y1="1672.82" x2="1019" y2="1672.82" class="mg" stroke-dashoffset="13"/>
<line x1="166.3" y1="1665.27" x2="1019" y2="1665.27" class="mg" stroke-dashoffset="13"/>
<line x1="166.3" y1="1614.13" x2="1019" y2="1614.13" class="mg" stroke-dashoffset="13"/>
<line x1="166.3" y1="1588.16" x2="1019" y2="1588.16" class="mg" stroke-dashoffset="13"/>
<line x1="166.3" y1="1569.74" x2="1019" y2="1569.74" class="mg" stroke-dashoffset="13"/>
<line x1="166.3" y1="1555.45" x2="1019" y2="1555.45" class="mg" stroke-dashoffset="13"/>
<line x1="166.3" y1="1543.77" x2="1019" y2="1543.77" class="mg" stroke-dashoffset="13"/>
<line x1="166.3" y1="1533.9" x2="1019" y2="1533.9" class="mg" stroke-dashoffset="13"/>
<line x1="166.3" y1="1525.34" x2="1019" y2="1525.34" class="mg" stroke-dashoffset="13"/>
<line x1="166.3" y1="1517.8" x2="1019" y2="1517.8" class="mg" stroke-dashoffset="13"/>
<line x1="166.3" y1="1511.05" x2="1019" y2="1511.05" class="mg" stroke-dashoffset="13"/>
<line x1="166.3" y1="1466.66" x2="1019" y2="1466.66" class="mg" stroke-dashoffset="13"/>
<line x1="166.3" y1="1440.69" x2="1019" y2="1440.69" class="mg" stroke-dashoffset="13"/>
<line x1="166.3" y1="1422.27" x2="1019" y2="1422.27" class="mg" stroke-dashoffset="13"/>
<line x1="166.3" y1="1407.97" x2="1019" y2="1407.97" class="mg" stroke-dashoffset="13"/>
<line x1="166.3" y1="1396.3" x2="1019" y2="1396.3" class="mg" stroke-dashoffset="13"/>
<line x1="166.3" y1="1386.42" x2="1019" y2="1386.42" class="mg" stroke-dashoffset="13"/>
<line x1="166.3" y1="1377.87" x2="1019" y2="1377.87" class="mg" stroke-dashoffset="13"/>
<line x1="166.3" y1="1370.33" x2="1019" y2="1370.33" class="mg" stroke-dashoffset="13"/>
<line x1="166.3" y1="1319.19" x2="1019" y2="1319.19" class="mg" stroke-dashoffset="13"/>
<line x1="166.3" y1="1293.22" x2="1019" y2="1293.22" class="mg" stroke-dashoffset="13"/>
<line x1="166.3" y1="1274.79" x2="1019" y2="1274.79" class="mg" stroke-dashoffset="13"/>
<line x1="200.06" y1="1806" x2="200.06" y2="1260.5" class="mg"/>
<line x1="228.6" y1="1806" x2="228.6" y2="1260.5" class="mg"/>
<line x1="253.33" y1="1806" x2="253.33" y2="1260.5" class="mg"/>
<line x1="275.14" y1="1806" x2="275.14" y2="1260.5" class="mg"/>
<line x1="422.99" y1="1806" x2="422.99" y2="1260.5" class="mg"/>
<line x1="498.06" y1="1806" x2="498.06" y2="1260.5" class="mg"/>
<line x1="551.33" y1="1806" x2="551.33" y2="1260.5" class="mg"/>
<line x1="592.65" y1="1806" x2="592.65" y2="1260.5" class="mg"/>
<line x1="626.41" y1="1806" x2="626.41" y2="1260.5" class="mg"/>
<line x1="654.95" y1="1806" x2="654.95" y2="1260.5" class="mg"/>
<line x1="679.68" y1="1806" x2="679.68" y2="1260.5" class="mg"/>
<line x1="701.49" y1="1806" x2="701.49" y2="1260.5" class="mg"/>
<line x1="849.34" y1="1806" x2="849.34" y2="1260.5" class="mg"/>
<line x1="924.41" y1="1806" x2="924.41" y2="1260.5" class="mg"/>
<line x1="977.68" y1="1806" x2="977.68" y2="1260.5" class="mg"/>
<line x1="166.3" y1="1658.53" x2="1019" y2="1658.53" class="Mg"/>
<line x1="166.3" y1="1363.58" x2="1019" y2="1363.58" class="Mg"/>
<line x1="294.64" y1="1260.5" x2="294.64" y2="1806" class="Mg"/>
<line x1="720.99" y1="1260.5" x2="720.99" y2="1806" class="Mg"/>
<rect x="845" y="1274.5" width="161" height="101" fill="#fff"/>
<path d="M166.3,1456 L201,1452.6 L242,1449.2 L269.3,1445.8 L300,1445.8 L337.6,1443.3 L368,1437 L380.7,1429.4 L395.9,1419.2 L408.6,1421.3 L420,1411.6 L425.1,1404 L432.02,1398.45 L436.38,1396.73 L440.64,1395.57 L444.8,1390.74 L448.87,1387.56 L452.85,1388.39 L456.75,1387.96 L460.57,1385.12 L464.31,1386.37 L467.97,1381.9 L471.57,1380.01 L475.1,1376.36 L478.56,1375.3 L481.95,1375.03 L485.29,1373.09 L488.57,1371.81 L491.79,1369.21 L494.95,1367.39 L498.06,1361.68 L501.13,1362.33 L504.14,1366.89 L507.1,1360.12 L510.01,1360.98 L512.89,1358.31 L515.71,1358.51 L518.5,1356.64 L521.24,1354.18 L523.94,1354.16 L526.61,1356 L529.23,1353.89 L531.82,1350.36 L534.38,1355.23 L536.9,1355.97 L539.38,1355.41 L541.83,1355.08 L544.26,1346.8 L546.64,1351.12 L549,1344.25 L551.33,1339.82 L553.63,1338.19 L555.9,1334.9 L558.15,1331.33 L560.37,1332.23 L562.56,1330.73 L564.72,1327.93 L566.86,1326.92 L568.98,1325.21 L571.07,1323.14 L573.14,1322.8 L575.19,1324.86 L577.21,1319.24 L579.21,1320.83 L581.19,1323.99 L583.15,1321.48 L585.09,1321.91 L587.01,1319.6 L588.91,1310.85 L590.79,1320.08 L592.65,1318.65 L594.49,1320.74 L596.32,1321.17 L598.12,1323.61 L599.91,1320.73 L601.68,1325.55 L603.44,1323.09 L605.18,1326.25 L606.9,1327.16 L608.61,1329.33 L610.3,1319.2 L611.97,1331.36 L613.63,1323.39 L615.28,1329.25 L616.91,1329.93 L618.53,1322.31 L620.13,1329.31 L621.72,1330.25 L623.3,1326.86 L624.86,1324.22 L626.41,1332.8 L627.95,1331.13 L629.47,1332.02 L630.98,1336.24 L632.48,1337.44 L633.97,1342.87 L635.44,1340.43 L636.91,1338.64 L638.36,1337.29 L639.8,1340.36 L641.23,1344.09 L642.65,1335.41 L644.06,1337.36 L645.45,1342.76 L646.84,1350.21 L648.22,1344.97 L649.58,1353.18 L650.94,1351.51 L652.29,1355.76 L653.62,1355.84 L654.95,1358.38 L656.27,1361.66 L657.58,1359.64 L658.88,1343.01 L660.17,1361.56 L661.45,1365.32 L662.72,1366.35 L663.99,1367.26 L665.24,1367.65 L666.49,1373.09 L667.73,1371.1 L668.96,1370.91 L670.18,1368.62 L671.39,1377.16 L672.6,1377.08 L673.8,1376.55 L674.99,1376.11 L676.17,1381.65 L677.35,1377.98 L678.52,1377.09 L679.68,1381 L680.83,1379.32 L681.98,1380.82 L683.12,1380.61 L684.25,1381.79 L685.37,1378.64 L686.49,1381.4 L687.61,1368.48 L688.71,1383.36 L689.81,1384.16 L690.9,1386.51 L691.99,1388.48 L693.07,1376.6 L694.14,1389.42 L695.21,1386.08 L696.27,1371.97 L697.32,1391.3 L698.37,1396.73 L699.42,1383.7 L700.45,1383.08 L701.49,1390.68 L702.51,1392.58 L703.53,1394.09 L704.55,1396.17 L705.56,1395.89 L706.56,1396.43 L707.56,1402.56 L708.55,1394.23 L709.54,1393.18 L710.52,1401.67 L711.5,1399.51 L712.47,1393.11 L713.44,1399.67 L714.4,1398.56 L715.35,1401.98 L716.31,1403.43 L717.25,1406.84 L718.2,1407.38 L719.13,1406.41 L720.07,1404.49 L720.99,1402.42 L721.92,1408.47 L722.84,1389.57 L723.75,1404.42 L724.66,1407.89 L725.57,1409.86 L726.47,1403.76 L727.36,1409.59 L728.26,1402.2 L729.14,1409.37 L730.03,1406.8 L730.91,1404.9 L731.78,1407.73 L732.65,1406.59 L733.52,1403.89 L734.39,1400.69 L735.24,1409.86 L736.1,1407.69 L736.95,1409.12 L737.8,1407.12 L738.64,1406.73 L739.48,1409.64 L740.32,1405.66 L741.15,1408.29 L741.98,1412.66 L742.8,1414.63 L743.62,1411.69 L744.44,1408.66 L745.26,1410.5 L746.07,1410.96 L746.87,1410.81 L747.68,1413.78 L748.48,1410.99 L749.27,1412.92 L750.07,1405.19 L750.85,1414.2 L751.64,1408.05 L752.42,1407.94 L753.2,1408.84 L753.98,1412.73 L754.75,1412.31 L755.52,1406.57 L756.29,1405.96 L757.05,1410.2 L757.81,1411.01 L758.57,1411.24 L759.33,1397.99 L760.08,1407.36 L760.82,1413.4 L761.57,1407.21 L762.31,1415 L763.05,1412.57 L763.79,1414.01 L764.52,1400.45 L765.25,1414.98 L765.98,1409.98 L766.7,1405.8 L767.42,1411.01 L768.14,1410.84 L768.86,1410.91 L769.57,1414.71 L770.28,1410.72 L770.99,1403.43 L771.7,1410.96 L772.4,1412.89 L773.1,1411.96 L773.8,1409.29 L774.49,1410.73 L775.19,1412.12 L775.87,1407.72 L776.56,1407.84 L777.25,1410.84 L777.93,1411.99 L778.61,1411.36 L779.28,1410.82 L779.96,1411.18 L780.63,1412.26 L781.3,1412.73 L781.97,1413.33 L782.63,1410.97 L783.3,1407.6 L783.96,1413.01 L784.61,1413.47 L785.27,1411.73 L785.92,1413.73 L786.57,1408.35 L787.22,1415.93 L787.87,1403.87 L788.51,1412.37 L789.15,1413.9 L789.79,1409.28 L790.43,1416.53 L791.07,1413.79 L791.7,1417.56 L792.33,1412.48 L792.96,1411.28 L793.59,1414.39 L794.21,1415.56 L794.83,1415.45 L795.45,1416.47 L796.07,1412.66 L796.69,1410.78 L797.3,1412.32 L797.91,1409.29 L798.52,1412.61 L799.13,1408.22 L799.74,1417.29 L800.34,1405.71 L800.94,1407.53 L801.54,1417.03 L802.14,1417.36 L802.74,1416.83 L803.33,1414.71 L803.93,1419 L804.52,1416.25 L805.1,1417.49 L805.69,1417.09 L806.28,1414.7 L806.86,1417.08 L807.44,1420.8 L808.02,1415.54 L808.6,1416.49 L809.17,1421.48 L809.75,1409.81 L810.32,1418.36 L810.89,1416.71 L811.46,1420.06 L812.03,1421.61 L812.59,1417.36 L813.16,1417.03 L813.72,1422.96 L814.28,1419.39 L814.84,1427.11 L815.39,1421.24 L815.95,1425.58 L816.5,1418.78 L817.05,1423 L817.61,1417.35 L818.15,1422.61 L818.7,1419.61 L819.25,1424.01 L819.79,1421.82 L820.33,1426.22 L820.87,1421.2 L821.41,1422.86 L821.95,1419.23 L822.49,1422.89 L823.02,1426.91 L823.55,1426.51 L824.08,1424.14 L824.61,1428.47 L825.14,1427.23 L825.67,1431.02 L826.19,1407.06 L826.72,1427.97 L827.24,1427.67 L827.76,1425.78 L828.28,1424.71 L828.8,1425.59 L829.31,1421.09 L829.83,1428.53 L830.34,1433.64 L830.86,1423.32 L831.37,1425.26 L831.88,1429.13 L832.38,1430.13 L832.89,1430.27 L833.4,1428.83 L833.9,1411.5 L834.4,1430.15 L834.9,1436.05 L835.4,1418.2 L835.9,1430.87 L836.4,1430.47 L836.89,1430.33 L837.39,1428.78 L837.88,1438.46 L838.37,1431.66 L838.86,1434.57 L839.35,1432.27 L839.84,1418.2 L840.33,1426.22 L840.81,1431.04 L841.3,1426.28 L841.78,1430.47 L842.26,1433.56 L842.74,1436.15 L843.22,1429.07 L843.7,1430.95 L844.18,1436.43 L844.65,1440.09 L845.12,1431.6 L845.6,1433.57 L846.07,1437.61 L846.54,1431.1 L847.01,1436.58 L847.48,1437.05 L847.94,1440.99 L848.41,1439.07 L848.87,1434.34 L849.34,1438.13 L849.8,1435.49 L850.26,1440.03 L850.72,1435.39 L851.18,1440.36 L851.64,1435.74 L852.1,1439.45 L852.55,1444.66 L853,1439.53 L853.46,1428.86 L853.91,1441.85 L854.36,1440.9 L854.81,1442.74 L855.26,1440.45 L855.71,1445.34 L856.15,1440.38 L856.6,1448.01 L857.05,1439.61 L857.49,1445 L857.93,1442.58 L858.37,1450.71 L858.81,1450.51 L859.25,1447.86 L859.69,1450.86 L860.13,1436.69 L860.56,1448.18 L861,1448.08 L861.43,1454.06 L861.87,1453.07 L862.3,1445.84 L862.73,1452.32 L863.16,1455.91 L863.59,1453.72 L864.02,1451.61 L864.44,1451.14 L864.87,1441.61 L865.3,1451.35 L865.72,1456.32 L866.14,1455.37 L866.56,1458.44 L866.99,1461.33 L867.41,1458.14 L867.83,1456.75 L868.24,1453.17 L868.66,1457.13 L869.08,1458.18 L869.49,1458.83 L869.91,1453.29 L870.32,1452.87 L870.74,1461.2 L871.15,1459.82 L871.56,1458.74 L871.97,1459.88 L872.38,1456.92 L872.79,1459.4 L873.19,1452.04 L873.6,1461.06 L874.01,1465.85 L874.41,1464.1 L874.81,1461.28 L875.22,1462.34 L875.62,1464.47 L876.02,1463.14 L876.42,1468.28 L876.82,1468.08 L877.22,1467.69 L877.62,1464.17 L878.01,1466.03 L878.41,1472.11 L878.8,1457.11 L879.2,1470.28 L879.59,1469.14 L879.99,1465.57 L880.38,1466.62 L880.77,1469.3 L881.16,1471.42 L881.55,1468.24 L881.94,1471.15 L882.32,1471.22 L882.71,1471.68 L883.1,1466.77 L883.48,1475.89 L883.87,1472.66 L884.25,1474 L884.63,1477.07 L885.02,1475.9 L885.4,1476.03 L885.78,1474.27 L886.16,1476.9 L886.54,1478.96 L886.92,1475.62 L887.29,1477.28 L887.67,1474.45 L888.05,1464.41 L888.42,1473.6 L888.79,1464 L889.17,1473.45 L889.54,1484.03 L889.91,1481.81 L890.29,1481.23 L890.66,1480.64 L891.03,1486.13 L891.4,1476.08 L891.76,1481.33 L892.13,1482.3 L892.5,1477.28 L892.86,1485.7 L893.23,1481.41 L893.59,1480.17 L893.96,1491.27 L894.32,1481.73 L894.69,1484.1 L895.05,1483.33 L895.41,1488.5 L895.77,1485.37 L896.13,1459.99 L896.49,1489.31 L896.85,1488.95 L897.2,1491.28 L897.56,1490.82 L897.92,1486.69 L898.27,1488.86 L898.63,1482.53 L898.98,1489.21 L899.34,1490.83 L899.69,1468.59 L900.04,1491.15 L900.39,1491.92 L900.74,1489.38 L901.1,1494.55 L901.45,1490.82 L901.79,1499.58 L902.14,1486.45 L902.49,1494.51 L902.84,1487.21 L903.18,1496.75 L903.53,1493.82 L903.87,1495.3 L904.22,1495.32 L904.56,1497.24 L904.91,1497.6 L905.25,1496.63 L905.59,1485.98 L905.93,1497.84 L906.27,1496.76 L906.61,1498.96 L906.95,1502.09 L907.29,1492.91 L907.63,1494.02 L907.97,1502.99 L908.3,1496.66 L908.64,1505.76 L908.98,1501.17 L909.31,1508.4 L909.65,1496.08 L909.98,1500.56 L910.31,1502.8 L910.65,1502.85 L910.98,1495.06 L911.31,1501.39 L911.64,1503.68 L911.97,1507.44 L912.3,1502.58 L912.63,1502.19 L912.96,1502.77 L913.29,1506.07 L913.61,1504.69 L913.94,1501.62 L914.27,1511.61 L914.59,1506.5 L914.92,1506.76 L915.24,1507.17 L915.57,1503.28 L915.89,1506.5 L916.21,1509.89 L916.53,1512.13 L916.86,1512.57 L917.18,1513.52 L917.5,1510.29 L917.82,1513.37 L918.14,1512 L918.46,1510.74 L918.77,1510.51 L919.09,1501.04 L919.41,1513.7 L919.73,1510.87 L920.04,1495.2 L920.36,1513.81 L920.67,1511.85 L920.99,1511.26 L921.3,1509.01 L921.62,1518.84 L921.93,1513.77 L922.24,1516.81 L922.55,1519.67 L922.87,1513.36 L923.18,1509.61 L923.49,1516.33 L923.8,1516.74 L924.11,1522.14 L924.41,1519.06 L924.72,1521.77 L925.03,1512.25 L925.34,1518.2 L925.65,1520.38 L925.95,1518.81 L926.26,1526.19 L926.56,1517.4 L926.87,1522.38 L927.17,1523.75 L927.48,1519.29 L927.78,1524.37 L928.08,1523.48 L928.38,1530.8 L928.69,1527.1 L928.99,1523.21 L929.29,1523.09 L929.59,1522.56 L929.89,1526 L930.19,1528.93 L930.49,1528.5 L930.78,1526.5 L931.08,1523.24 L931.38,1531.5 L931.68,1531 L931.97,1532.86 L932.27,1527.41 L932.57,1529.55 L932.86,1529.47 L933.15,1525.3 L933.45,1528.03 L933.74,1533.42 L934.04,1533.73 L934.33,1535.16 L934.62,1508.24 L934.91,1530.94 L935.2,1537.9 L935.49,1534.77 L935.79,1538.55 L936.08,1535.11 L936.36,1530.99 L936.65,1530.84 L936.94,1538.02 L937.23,1540.74 L937.52,1536.9 L937.81,1540.45 L938.09,1539.54 L938.38,1528.18 L938.67,1535.77 L938.95,1538.55 L939.24,1536.63 L939.52,1541.4 L939.8,1546.99 L940.09,1539.95 L940.37,1524.5 L940.65,1541.87 L940.94,1539.61 L941.22,1544.63 L941.5,1541.5 L941.78,1546.35 L942.06,1546.95 L942.34,1540.7 L942.62,1547.33 L942.9,1540.65 L943.18,1549.22 L943.46,1541.45 L943.74,1544.91 L944.02,1551.99 L944.29,1549.42 L944.57,1551.23 L944.85,1542.88 L945.12,1552.4 L945.4,1548.33 L945.67,1555.81 L945.95,1549.97 L946.22,1545.19 L946.5,1549.98 L946.77,1552.91 L947.04,1557.32 L947.32,1557.53 L947.59,1553.67 L947.86,1551.6 L948.13,1551.84 L948.41,1560.57 L948.68,1557.09 L948.95,1539.04 L949.22,1563.99 L949.49,1555.83 L949.76,1562.86 L950.02,1557.82 L950.29,1553.9 L950.56,1558.04 L950.83,1555.23 L951.1,1546.74 L951.36,1560.97 L951.63,1557.03 L951.9,1558.68 L952.16,1566.41 L952.43,1560.97 L952.69,1551.41 L952.96,1554.8 L953.22,1567.31 L953.49,1563.68 L953.75,1563.81 L954.01,1561.92 L954.28,1563.96 L954.54,1571.03 L954.8,1565.49 L955.06,1561.57 L955.32,1562.75 L955.58,1565.53 L955.84,1560.12 L956.1,1568.43 L956.36,1565.01 L956.62,1567.72 L956.88,1570.12 L957.14,1568.17 L957.4,1565.46 L957.66,1562.27 L957.92,1567.36 L958.17,1570.86 L958.43,1568.53 L958.69,1573.99 L958.94,1574.7 L959.2,1574.16 L959.46,1572.3 L959.71,1567.17 L959.97,1575.65 L960.22,1573.35 L960.47,1560.68 L960.73,1569.87 L960.98,1571.7 L961.23,1573.7 L961.49,1578.38 L961.74,1574.17 L961.99,1574.88 L962.24,1568.79 L962.49,1582.27 L962.75,1577.06 L963,1574.18 L963.25,1571.4 L963.5,1579.3 L963.75,1574.19 L964,1574.41 L964.25,1573.37 L964.49,1572.67 L964.74,1576.27 L964.99,1576.85 L965.24,1564.3 L965.49,1574.4 L965.73,1578.08 L965.98,1578.97 L966.23,1578.14 L966.47,1581.33 L966.72,1579.06 L966.96,1577.54 L967.21,1574.58 L967.45,1581.88 L967.7,1579.69 L967.94,1580.44 L968.18,1576.91 L968.43,1579.57 L968.67,1584.74 L968.91,1581.58 L969.16,1583.74 L969.4,1584.21 L969.64,1579.92 L969.88,1580.41 L970.12,1582.15 L970.36,1578.51 L970.61,1583.42 L970.85,1567.95 L971.09,1583.46 L971.33,1582.4 L971.56,1587.76 L971.8,1584.1 L972.04,1588.26 L972.28,1583.14 L972.52,1582.69 L972.76,1583.68 L972.99,1583.82 L973.23,1587.8 L973.47,1587.31 L973.71,1588.14 L973.94,1587.31 L974.18,1588.55 L974.41,1585.71 L974.65,1589.58 L974.88,1585.68 L975.12,1587.43 L975.35,1588.03 L975.59,1587.87 L975.82,1570.82 L976.06,1590.6 L976.29,1591.06 L976.52,1585.82 L976.75,1590.15 L976.99,1589.16 L977.22,1590.67 L977.45,1592.8 L977.68,1589.33 L977.91,1592.62 L978.14,1590.88 L978.38,1581.93 L978.61,1597.3 L978.84,1592.04 L979.07,1589.48 L979.3,1590.25 L979.52,1593.23 L979.75,1594.7 L979.98,1589.43 L980.21,1593.83 L980.44,1591.43 L980.67,1595.51 L980.89,1597.4 L981.12,1593.89 L981.35,1597.64 L981.58,1592.23 L981.8,1597.89 L982.03,1598.17 L982.25,1597.87 L982.48,1601.25 L982.71,1602.07 L982.93,1598.56 L983.16,1597.79 L983.38,1591.68 L983.6,1599.92 L983.83,1599.13 L984.05,1573.59 L984.28,1601.85 L984.5,1602.68 L984.72,1602.45 L984.94,1603.05 L985.17,1599.33 L985.39,1599.01 L985.61,1600.83 L985.83,1605.21 L986.05,1600.18 L986.28,1605.7 L986.5,1604.99 L986.72,1586.58 L986.94,1599.26 L987.16,1601.62 L987.38,1603.98 L987.6,1601.37 L987.82,1600.9 L988.03,1608.43 L988.25,1602.68 L988.47,1605.51 L988.69,1604.32 L988.91,1606.48 L989.13,1609.14 L989.34,1601.8 L989.56,1608.96 L989.78,1609.6 L989.99,1604.32 L990.21,1593.93 L990.43,1605.48 L990.64,1603.86 L990.86,1604.8 L991.07,1609.34 L991.29,1610.67 L991.5,1605.85 L991.72,1608.89 L991.93,1614.52 L992.15,1610.31 L992.36,1613.83 L992.57,1612.97 L992.79,1613.55 L993,1609.65 L993.21,1611.82 L993.43,1617.47 L993.64,1609.16 L993.85,1608.4 L994.06,1609.02 L994.28,1602.87 L994.49,1614.08 L994.7,1611.54 L994.91,1612.24 L995.12,1609.83 L995.33,1613.02 L995.54,1609.95 L995.75,1615.05 L995.96,1614.48 L996.17,1614.46 L996.38,1611.77 L996.59,1615.93 L996.8,1615.35 L997.01,1617.95 L997.21,1617.24 L997.42,1616.74 L997.63,1601.62 L997.84,1616.3 L998.05,1616.6 L998.25,1622.8 L998.46,1613.78 L998.67,1616.73 L998.87,1618.45 L999.08,1615.32 L999.29,1620.25 L999.49,1613.63 L999.7,1616.02 L999.9,1618.39 L1000.11,1616.63 L1000.31,1615.88 L1000.52,1620.63 L1000.72,1624.08 L1000.93,1622.66 L1001.13,1620.46 L1001.33,1620.88 L1001.54,1621.48 L1001.74,1620.61 L1001.94,1619.13 L1002.15,1621.73 L1002.35,1621.8 L1002.55,1627.99 L1002.75,1623.89 L1002.96,1629.01 L1003.16,1622.88 L1003.36,1624.23 L1003.56,1623.56 L1003.76,1621.39 L1003.96,1621.3 L1004.16,1623.43 L1004.36,1627.19 L1004.56,1621.73 L1004.76,1621.19 L1004.96,1625.05 L1005.16,1623.66 L1005.36,1623.74 L1005.56,1630.31 L1005.76,1625.99 L1005.96,1627.94 L1006.16,1626.39 L1006.36,1628.99 L1006.56,1624.35 L1006.75,1623.18 L1006.95,1628.58 L1007.15,1630.77 L1007.35,1609.58 L1007.54,1632.38 L1007.74,1625.27 L1007.94,1627.35 L1008.13,1629 L1008.33,1625.69 L1008.53,1627.33 L1008.72,1627.77 L1008.92,1629.7 L1009.11,1634.63 L1009.31,1626.82 L1009.5,1632.07 L1009.7,1635.36 L1009.89,1615.98 L1010.09,1631.27 L1010.28,1617.2 L1010.47,1629.02 L1010.67,1627.55 L1010.86,1630.21 L1011.06,1630.93 L1011.25,1633.76 L1011.44,1630.32 L1011.63,1629.68 L1011.83,1620.29 L1012.02,1619.9 L1012.21,1636.05 L1012.4,1633.2 L1012.59,1629.77 L1012.79,1637.66 L1012.98,1636.52 L1013.17,1632.66 L1013.36,1634.54 L1013.55,1636.15 L1013.74,1626.93 L1013.93,1623.86 L1014.12,1634.44 L1014.31,1640.08 L1014.5,1632.21 L1014.69,1631.57 L1014.88,1635.73 L1015.07,1633.55 L1015.26,1637.38 L1015.45,1636.61 L1015.64,1639.37 L1015.83,1640.65 L1016.01,1634.9 L1016.2,1620.18 L1016.39,1630.45 L1016.58,1634.02 L1016.76,1636.42 L1016.95,1636.72 L1017.14,1620.77 L1017.33,1641.97 L1017.51,1641.25 L1017.7,1636.02 L1017.89,1640.12 L1018.07,1634.75 L1018.26,1620.3 L1018.44,1636.08 L1018.63,1634.33 L1018.81,1632.89 L1019,1631.97 L1019,1664.36 L1018.81,1665.47 L1018.63,1661.95 L1018.44,1663.15 L1018.26,1661.16 L1018.07,1667.43 L1017.89,1672.58 L1017.7,1668.3 L1017.51,1659.72 L1017.33,1655.75 L1017.14,1663.93 L1016.95,1667.1 L1016.76,1673.71 L1016.58,1662.23 L1016.39,1661.49 L1016.2,1663.33 L1016.01,1660.05 L1015.83,1679.43 L1015.64,1659.04 L1015.45,1655.33 L1015.26,1660.29 L1015.07,1678.84 L1014.88,1658.57 L1014.69,1654.83 L1014.5,1661.48 L1014.31,1661.2 L1014.12,1660.09 L1013.93,1658.67 L1013.74,1661.57 L1013.55,1658.63 L1013.36,1658.85 L1013.17,1660 L1012.98,1656.5 L1012.79,1661.69 L1012.59,1676.77 L1012.4,1656.09 L1012.21,1653.22 L1012.02,1658.03 L1011.83,1663.89 L1011.63,1657.62 L1011.44,1661.75 L1011.25,1657.92 L1011.06,1672.18 L1010.86,1655.34 L1010.67,1651.85 L1010.47,1656.47 L1010.28,1659.31 L1010.09,1653.88 L1009.89,1652.44 L1009.7,1652.67 L1009.5,1664.65 L1009.31,1649.08 L1009.11,1655.52 L1008.92,1654.73 L1008.72,1653.86 L1008.53,1654.46 L1008.33,1655.76 L1008.13,1658.88 L1007.94,1655.62 L1007.74,1651.41 L1007.54,1652.22 L1007.35,1659.67 L1007.15,1654.17 L1006.95,1649.85 L1006.75,1658.81 L1006.56,1653.97 L1006.36,1651.96 L1006.16,1652.43 L1005.96,1648.77 L1005.76,1651.1 L1005.56,1654.53 L1005.36,1651.63 L1005.16,1649.51 L1004.96,1645.48 L1004.76,1649.56 L1004.56,1654.21 L1004.36,1649.3 L1004.16,1650.52 L1003.96,1650.79 L1003.76,1660.36 L1003.56,1650.23 L1003.36,1659.22 L1003.16,1648.15 L1002.96,1650.34 L1002.75,1651.06 L1002.55,1648.38 L1002.35,1644.33 L1002.15,1649.32 L1001.94,1642.68 L1001.74,1644.88 L1001.54,1646.92 L1001.33,1646.07 L1001.13,1647.48 L1000.93,1646.33 L1000.72,1640.53 L1000.52,1647.15 L1000.31,1644.91 L1000.11,1642.08 L999.9,1643.29 L999.7,1643.69 L999.49,1639.82 L999.29,1639.33 L999.08,1639.68 L998.87,1643.98 L998.67,1641.02 L998.46,1645.5 L998.25,1640.73 L998.05,1641.42 L997.84,1648.01 L997.63,1640.37 L997.42,1646.22 L997.21,1633.88 L997.01,1637.59 L996.8,1639.37 L996.59,1633.92 L996.38,1634.94 L996.17,1634.32 L995.96,1638.65 L995.75,1637.22 L995.54,1641.24 L995.33,1635.35 L995.12,1634.68 L994.91,1635.46 L994.7,1637.55 L994.49,1633.41 L994.28,1634.45 L994.06,1637.14 L993.85,1638.03 L993.64,1633.66 L993.43,1635.25 L993.21,1641.63 L993,1635.17 L992.79,1634.66 L992.57,1635.92 L992.36,1630.47 L992.15,1654.66 L991.93,1630.8 L991.72,1640.84 L991.5,1637.3 L991.29,1629.17 L991.07,1636.21 L990.86,1630.45 L990.64,1630.15 L990.43,1634.27 L990.21,1640.88 L989.99,1629.1 L989.78,1629.55 L989.56,1625.58 L989.34,1629.29 L989.13,1632.71 L988.91,1632.22 L988.69,1629.02 L988.47,1626.29 L988.25,1624.99 L988.03,1624.78 L987.82,1625.05 L987.6,1626.5 L987.38,1634.63 L987.16,1632.24 L986.94,1626 L986.72,1641.84 L986.5,1626.06 L986.28,1624.78 L986.05,1630.71 L985.83,1634.28 L985.61,1620.79 L985.39,1620.52 L985.17,1625.22 L984.94,1618.22 L984.72,1625.7 L984.5,1621.52 L984.28,1625.57 L984.05,1623.72 L983.83,1622.09 L983.6,1621.89 L983.38,1615.6 L983.16,1624.94 L982.93,1625.43 L982.71,1619.97 L982.48,1623.06 L982.25,1620.88 L982.03,1617.57 L981.8,1614.54 L981.58,1620.49 L981.35,1616.94 L981.12,1620.19 L980.89,1617.32 L980.67,1620.59 L980.44,1609.75 L980.21,1620.73 L979.98,1617.83 L979.75,1615.67 L979.52,1619.24 L979.3,1618.27 L979.07,1620.41 L978.84,1615.95 L978.61,1612.43 L978.38,1607.12 L978.14,1613.44 L977.91,1615.28 L977.68,1615.51 L977.45,1608.12 L977.22,1615.45 L976.99,1619.53 L976.75,1611.06 L976.52,1609.75 L976.29,1613.89 L976.06,1613.21 L975.82,1605.26 L975.59,1611.64 L975.35,1618.21 L975.12,1606.44 L974.88,1607.73 L974.65,1606.36 L974.41,1607.05 L974.18,1606.84 L973.94,1609.55 L973.71,1609.78 L973.47,1615.42 L973.23,1612.95 L972.99,1606.42 L972.76,1619.27 L972.52,1610.27 L972.28,1610.54 L972.04,1610.44 L971.8,1604.64 L971.56,1606.94 L971.33,1603.99 L971.09,1607.49 L970.85,1605.65 L970.61,1607.19 L970.36,1600.02 L970.12,1601.53 L969.88,1603.33 L969.64,1611.57 L969.4,1604.6 L969.16,1603.04 L968.91,1602.7 L968.67,1602.57 L968.43,1607.77 L968.18,1605.25 L967.94,1597.95 L967.7,1606.24 L967.45,1606.16 L967.21,1606.24 L966.96,1611.27 L966.72,1598.45 L966.47,1598.09 L966.23,1604.3 L965.98,1598.53 L965.73,1614.04 L965.49,1601.79 L965.24,1627.88 L964.99,1602.03 L964.74,1596.6 L964.49,1596.4 L964.25,1604.98 L964,1609.62 L963.75,1600.41 L963.5,1593.37 L963.25,1613.59 L963,1596.89 L962.75,1598.57 L962.49,1591.25 L962.24,1588.53 L961.99,1592.91 L961.74,1601.65 L961.49,1590.64 L961.23,1592.37 L960.98,1589.95 L960.73,1592.94 L960.47,1589.5 L960.22,1595.36 L959.97,1593.97 L959.71,1591.09 L959.46,1601.12 L959.2,1592.27 L958.94,1591.24 L958.69,1591.33 L958.43,1590.12 L958.17,1590.16 L957.92,1593.28 L957.66,1597.5 L957.4,1591.23 L957.14,1591.43 L956.88,1590.42 L956.62,1590.99 L956.36,1590.31 L956.1,1587.45 L955.84,1602.04 L955.58,1588.7 L955.32,1584.57 L955.06,1585.34 L954.8,1587.11 L954.54,1588.46 L954.28,1584.95 L954.01,1586.29 L953.75,1579.61 L953.49,1585.85 L953.22,1585.29 L952.96,1584.86 L952.69,1581 L952.43,1585.92 L952.16,1586.64 L951.9,1580.59 L951.63,1586 L951.36,1583.64 L951.1,1583.51 L950.83,1578.77 L950.56,1582.96 L950.29,1586.64 L950.02,1576.45 L949.76,1577.51 L949.49,1585.15 L949.22,1573.2 L948.95,1578.41 L948.68,1586.43 L948.41,1582.61 L948.13,1576.46 L947.86,1576.85 L947.59,1577.24 L947.32,1574.78 L947.04,1573.61 L946.77,1577.46 L946.5,1575.63 L946.22,1586.29 L945.95,1571.18 L945.67,1574.03 L945.4,1575.35 L945.12,1574.21 L944.85,1572.44 L944.57,1566.84 L944.29,1571.93 L944.02,1578.77 L943.74,1574.51 L943.46,1567.46 L943.18,1571.54 L942.9,1569.5 L942.62,1568.55 L942.34,1566.6 L942.06,1564.23 L941.78,1568.5 L941.5,1565.23 L941.22,1565.01 L940.94,1563.47 L940.65,1561.37 L940.37,1567.5 L940.09,1561.72 L939.8,1562.36 L939.52,1561.42 L939.24,1555.26 L938.95,1565.22 L938.67,1556.02 L938.38,1564.5 L938.09,1557.62 L937.81,1560.91 L937.52,1551.78 L937.23,1556.7 L936.94,1554.82 L936.65,1565.96 L936.36,1556.89 L936.08,1560.44 L935.79,1555.33 L935.49,1557.43 L935.2,1556.13 L934.91,1548.72 L934.62,1553.56 L934.33,1557.31 L934.04,1549.38 L933.74,1555.05 L933.45,1552.05 L933.15,1571.18 L932.86,1549.47 L932.57,1546.99 L932.27,1549 L931.97,1548.88 L931.68,1545.99 L931.38,1544.66 L931.08,1548.42 L930.78,1549.93 L930.49,1546.99 L930.19,1551.36 L929.89,1542.56 L929.59,1543.42 L929.29,1543.83 L928.99,1544.74 L928.69,1546.36 L928.38,1544.44 L928.08,1543.99 L927.78,1542.74 L927.48,1542.04 L927.17,1548.56 L926.87,1541.21 L926.56,1551.66 L926.26,1549.95 L925.95,1543.45 L925.65,1540.21 L925.34,1534.85 L925.03,1540.1 L924.72,1537.09 L924.41,1535.81 L924.11,1535.59 L923.8,1538.54 L923.49,1537.31 L923.18,1537.36 L922.87,1535.71 L922.55,1546.26 L922.24,1538.13 L921.93,1536.08 L921.62,1530.63 L921.3,1536.75 L920.99,1532.95 L920.67,1531.99 L920.36,1538.59 L920.04,1531.61 L919.73,1534.53 L919.41,1530.98 L919.09,1531.67 L918.77,1533.31 L918.46,1530.15 L918.14,1528.82 L917.82,1535.11 L917.5,1528.13 L917.18,1527.53 L916.86,1528.47 L916.53,1529.71 L916.21,1527.8 L915.89,1525.37 L915.57,1528.89 L915.24,1529.78 L914.92,1532.09 L914.59,1525.72 L914.27,1531.41 L913.94,1526.8 L913.61,1527.37 L913.29,1523.66 L912.96,1528.14 L912.63,1526.9 L912.3,1524.27 L911.97,1523.53 L911.64,1527.68 L911.31,1520 L910.98,1524.99 L910.65,1525.14 L910.31,1517.99 L909.98,1520.07 L909.65,1518.87 L909.31,1525.1 L908.98,1521.42 L908.64,1517.65 L908.3,1524.26 L907.97,1520.8 L907.63,1515.74 L907.29,1513.83 L906.95,1519.5 L906.61,1517.85 L906.27,1518.18 L905.93,1522.97 L905.59,1518.96 L905.25,1520.78 L904.91,1518.62 L904.56,1533.9 L904.22,1517.88 L903.87,1513.25 L903.53,1520.52 L903.18,1515.14 L902.84,1510.53 L902.49,1513.48 L902.14,1521.14 L901.79,1511.42 L901.45,1514.85 L901.1,1517.07 L900.74,1516.9 L900.39,1514.51 L900.04,1511.2 L899.69,1510.44 L899.34,1512.36 L898.98,1510.32 L898.63,1507.89 L898.27,1508.91 L897.92,1514.64 L897.56,1511.63 L897.2,1505.64 L896.85,1507.65 L896.49,1511.39 L896.13,1507.49 L895.77,1508.22 L895.41,1503.81 L895.05,1505.34 L894.69,1506.05 L894.32,1507.07 L893.96,1505.23 L893.59,1507.57 L893.23,1504.17 L892.86,1504.35 L892.5,1499.81 L892.13,1505.8 L891.76,1500.85 L891.4,1503.64 L891.03,1499.12 L890.66,1502 L890.29,1503.61 L889.91,1499.08 L889.54,1499.05 L889.17,1506.43 L888.79,1499.05 L888.42,1499.71 L888.05,1499.53 L887.67,1502.65 L887.29,1494.69 L886.92,1501.2 L886.54,1499.41 L886.16,1500.01 L885.78,1497.23 L885.4,1495.63 L885.02,1489.1 L884.63,1495.13 L884.25,1491.59 L883.87,1495.57 L883.48,1486.77 L883.1,1495.69 L882.71,1502.85 L882.32,1499.33 L881.94,1494.42 L881.55,1494.33 L881.16,1496.86 L880.77,1494.26 L880.38,1492.07 L879.99,1492.41 L879.59,1492.57 L879.2,1490.61 L878.8,1495.83 L878.41,1495.65 L878.01,1504.24 L877.62,1482.55 L877.22,1488.53 L876.82,1488.5 L876.42,1487.57 L876.02,1485.12 L875.62,1482.94 L875.22,1490.81 L874.81,1485.62 L874.41,1483.75 L874.01,1490.78 L873.6,1485.25 L873.19,1483.87 L872.79,1480.67 L872.38,1485.64 L871.97,1483.28 L871.56,1485.3 L871.15,1486.34 L870.74,1480.68 L870.32,1480.81 L869.91,1483.43 L869.49,1499.25 L869.08,1483.09 L868.66,1481.83 L868.24,1479.38 L867.83,1476.11 L867.41,1483.67 L866.99,1480.16 L866.56,1473.37 L866.14,1483.33 L865.72,1473.22 L865.3,1476.54 L864.87,1473.03 L864.44,1475.24 L864.02,1477.36 L863.59,1474.57 L863.16,1475.62 L862.73,1468.04 L862.3,1473.03 L861.87,1469.66 L861.43,1478.33 L861,1469.33 L860.56,1475.09 L860.13,1474.94 L859.69,1474.65 L859.25,1470.61 L858.81,1472.4 L858.37,1475.59 L857.93,1470.76 L857.49,1469.24 L857.05,1469.1 L856.6,1470.67 L856.15,1472.33 L855.71,1462.3 L855.26,1466.58 L854.81,1470.26 L854.36,1467.38 L853.91,1464.16 L853.46,1468.3 L853,1465.15 L852.55,1464.21 L852.1,1467.98 L851.64,1466.56 L851.18,1467.91 L850.72,1465.46 L850.26,1465.37 L849.8,1464.89 L849.34,1461.96 L848.87,1459.14 L848.41,1456.62 L847.94,1463.69 L847.48,1472.53 L847.01,1462.52 L846.54,1456.3 L846.07,1456.62 L845.6,1458.22 L845.12,1462.9 L844.65,1450.99 L844.18,1453.32 L843.7,1455.7 L843.22,1482.9 L842.74,1472.07 L842.26,1457.86 L841.78,1458.09 L841.3,1456.56 L840.81,1454.15 L840.33,1456.52 L839.84,1456.93 L839.35,1454.36 L838.86,1466.37 L838.37,1457.7 L837.88,1452.18 L837.39,1455.17 L836.89,1456.22 L836.4,1453.07 L835.9,1457.54 L835.4,1462.36 L834.9,1451.45 L834.4,1454.52 L833.9,1450.43 L833.4,1453.29 L832.89,1454.75 L832.38,1446.9 L831.88,1450.18 L831.37,1452.84 L830.86,1452.73 L830.34,1449.04 L829.83,1458.55 L829.31,1451.06 L828.8,1446.21 L828.28,1461.72 L827.76,1449.89 L827.24,1445.48 L826.72,1444.25 L826.19,1444.65 L825.67,1448.01 L825.14,1443.12 L824.61,1438.35 L824.08,1449.66 L823.55,1442.85 L823.02,1447.5 L822.49,1442.07 L821.95,1446.77 L821.41,1451.22 L820.87,1450.48 L820.33,1443.96 L819.79,1448.07 L819.25,1445.94 L818.7,1445.76 L818.15,1444.7 L817.61,1440.23 L817.05,1441.54 L816.5,1443.5 L815.95,1440.88 L815.39,1447.01 L814.84,1445.34 L814.28,1444.18 L813.72,1445.96 L813.16,1437.61 L812.59,1441.64 L812.03,1440.34 L811.46,1436.68 L810.89,1438.79 L810.32,1436.66 L809.75,1441.53 L809.17,1439.49 L808.6,1439.64 L808.02,1437.06 L807.44,1433.83 L806.86,1438.06 L806.28,1441.49 L805.69,1436.54 L805.1,1435.76 L804.52,1449.93 L803.93,1432.02 L803.33,1448.42 L802.74,1431.25 L802.14,1437.11 L801.54,1433.57 L800.94,1432 L800.34,1435.77 L799.74,1431.72 L799.13,1431.77 L798.52,1432.95 L797.91,1431.57 L797.3,1431.73 L796.69,1434.7 L796.07,1436.56 L795.45,1434.11 L794.83,1431.72 L794.21,1434.96 L793.59,1433.3 L792.96,1440.29 L792.33,1435.78 L791.7,1440.21 L791.07,1430.69 L790.43,1431.1 L789.79,1432.05 L789.15,1432.41 L788.51,1432.1 L787.87,1435.92 L787.22,1442.71 L786.57,1433.07 L785.92,1436.11 L785.27,1429.37 L784.61,1436.58 L783.96,1433.54 L783.3,1440.02 L782.63,1430.63 L781.97,1435.31 L781.3,1434.95 L780.63,1435.74 L779.96,1431.97 L779.28,1434.53 L778.61,1438.03 L777.93,1445.4 L777.25,1434.7 L776.56,1435.48 L775.87,1434.81 L775.19,1457.83 L774.49,1431.45 L773.8,1441.39 L773.1,1429.68 L772.4,1436.91 L771.7,1435.11 L770.99,1429.93 L770.28,1432.75 L769.57,1434.5 L768.86,1433.45 L768.14,1430.4 L767.42,1443.48 L766.7,1434.94 L765.98,1436.71 L765.25,1432.09 L764.52,1434.29 L763.79,1438.93 L763.05,1434.52 L762.31,1438.85 L761.57,1429.5 L760.82,1435.69 L760.08,1432.01 L759.33,1436.86 L758.57,1431.82 L757.81,1448.09 L757.05,1436.14 L756.29,1436.7 L755.52,1462.9 L754.75,1430.55 L753.98,1440.66 L753.2,1437.91 L752.42,1438.41 L751.64,1438.1 L750.85,1433.45 L750.07,1431.79 L749.27,1433.03 L748.48,1437.15 L747.68,1435.92 L746.87,1431.63 L746.07,1435.87 L745.26,1434.14 L744.44,1433.78 L743.62,1436.64 L742.8,1434.22 L741.98,1445.8 L741.15,1436.56 L740.32,1431.88 L739.48,1429.46 L738.64,1434.11 L737.8,1432.1 L736.95,1427.99 L736.1,1434.9 L735.24,1434.3 L734.39,1432.22 L733.52,1439.24 L732.65,1435.86 L731.78,1437.18 L730.91,1426.41 L730.03,1431.34 L729.14,1425.94 L728.26,1437.51 L727.36,1433.59 L726.47,1433.36 L725.57,1429.4 L724.66,1428.51 L723.75,1435.45 L722.84,1431.54 L721.92,1431.85 L720.99,1432.48 L720.07,1433.89 L719.13,1436.2 L718.2,1433.14 L717.25,1431.45 L716.31,1428.98 L715.35,1431.01 L714.4,1427.95 L713.44,1425.13 L712.47,1445.63 L711.5,1423.31 L710.52,1425.41 L709.54,1422.82 L708.55,1422.57 L707.56,1425.19 L706.56,1426.37 L705.56,1428.14 L704.55,1441.57 L703.53,1417.07 L702.51,1421.38 L701.49,1418.73 L700.45,1417.85 L699.42,1420.3 L698.37,1420.34 L697.32,1422.94 L696.27,1421 L695.21,1419.02 L694.14,1418.34 L693.07,1411.5 L691.99,1414.97 L690.9,1412.9 L689.81,1411.91 L688.71,1409.74 L687.61,1403.63 L686.49,1410.85 L685.37,1415.94 L684.25,1405.91 L683.12,1408.11 L681.98,1403.17 L680.83,1405.4 L679.68,1404.25 L678.52,1404.23 L677.35,1403.5 L676.17,1403.53 L674.99,1398.19 L673.8,1396.86 L672.6,1399.71 L671.39,1394.58 L670.18,1404.58 L668.96,1394.69 L667.73,1393.1 L666.49,1392.39 L665.24,1394.48 L663.99,1392.4 L662.72,1390.02 L661.45,1389.13 L660.17,1389.59 L658.88,1390.84 L657.58,1383.85 L656.27,1388 L654.95,1383.46 L653.62,1383.52 L652.29,1380.25 L650.94,1370.01 L649.58,1376.94 L648.22,1385.43 L646.84,1378.93 L645.45,1374.4 L644.06,1370.92 L642.65,1376.57 L641.23,1367.78 L639.8,1371.99 L638.36,1375.75 L636.91,1369.36 L635.44,1370.65 L633.97,1364.44 L632.48,1361.7 L630.98,1363.21 L629.47,1363.15 L627.95,1362.41 L626.41,1360.88 L624.86,1357.87 L623.3,1358.44 L621.72,1358.99 L620.13,1359.78 L618.53,1359.21 L616.91,1358.29 L615.28,1356.18 L613.63,1355.48 L611.97,1357.02 L610.3,1353.88 L608.61,1353.26 L606.9,1358.14 L605.18,1357.01 L603.44,1360.09 L601.68,1356.67 L599.91,1362.96 L598.12,1365.77 L596.32,1366.91 L594.49,1374.36 L592.65,1375.62 L590.79,1370.94 L588.91,1372.34 L587.01,1371.13 L585.09,1381.69 L583.15,1368.56 L581.19,1365.83 L579.21,1368.52 L577.21,1365.42 L575.19,1367.75 L573.14,1369.02 L571.07,1360.71 L568.98,1375.29 L566.86,1365.07 L564.72,1363.84 L562.56,1369.08 L560.37,1367.86 L558.15,1371.93 L555.9,1372.17 L553.63,1369.6 L551.33,1378.45 L549,1373.26 L546.64,1374.28 L544.26,1377.46 L541.83,1386.74 L539.38,1382.35 L536.9,1389.41 L534.38,1385.39 L531.82,1389.45 L529.23,1393.74 L526.61,1385.94 L523.94,1392.82 L521.24,1395.02 L518.5,1395.88 L515.71,1393.12 L512.89,1397.73 L510.01,1400.71 L507.1,1403.92 L504.14,1403.78 L501.13,1408.78 L498.06,1407.68 L494.95,1409.16 L491.79,1408.03 L488.57,1409.2 L485.29,1419.36 L481.95,1415.22 L478.56,1413.13 L475.1,1416.62 L471.57,1421.66 L467.97,1419.36 L464.31,1423.04 L460.57,1421.56 L456.75,1421.64 L452.85,1422.75 L448.87,1425.22 L444.8,1424.45 L440.64,1424.96 L436.38,1466.38 L432.02,1465.3 L420,1468 L405,1468 L397,1480 L392.2,1505.6 L378.5,1508.4 L351.2,1524.8 L326.6,1536.3 L319.5,1553 L316,1568 L300,1556 L279.2,1545 L268.6,1540 L228,1541 L187.8,1542 L166.3,1542.5 Z" fill="#0000ff" fill-opacity="0.2"/>
<path d="M166.3,1437 L187.3,1419.1 L228.3,1429.4 L269.3,1439.6 L300,1446.4 L340,1455 L382,1439 L409,1441.6 L432.02,1446.95 L436.38,1447 L440.64,1464.86 L444.8,1465.27 L448.87,1466.23 L452.85,1466.97 L456.75,1466.46 L460.57,1462.11 L464.31,1467.79 L467.97,1458.76 L471.57,1464.5 L475.1,1462.63 L478.56,1463.99 L481.95,1460.52 L485.29,1455.18 L488.57,1447.12 L491.79,1441.91 L494.95,1433.13 L498.06,1429.02 L501.13,1444.48 L504.14,1454.59 L507.1,1448.31 L510.01,1445.34 L512.89,1439.52 L515.71,1444.93 L518.5,1445.72 L521.24,1457.03 L523.94,1455.35 L526.61,1450.76 L529.23,1445.54 L531.82,1440.11 L534.38,1447.17 L536.9,1446.32 L539.38,1440.73 L541.83,1451.18 L544.26,1452.61 L546.64,1449.3 L549,1452.12 L551.33,1443.5 L553.63,1446.35 L555.9,1443.78 L558.15,1443.62 L560.37,1446.9 L562.56,1438.14 L564.72,1437.47 L566.86,1436.13 L568.98,1440.79 L571.07,1435.56 L573.14,1436.36 L575.19,1434.34 L577.21,1440.99 L579.21,1436.52 L581.19,1435.52 L583.15,1438.13 L585.09,1435.65 L587.01,1433.88 L588.91,1430.31 L590.79,1433.95 L592.65,1440.16 L594.49,1412.46 L596.32,1423.19 L598.12,1436.03 L599.91,1440.22 L601.68,1441.17 L603.44,1437.28 L605.18,1423.09 L606.9,1434.37 L608.61,1441.48 L610.3,1438.59 L611.97,1440.81 L613.63,1425.74 L615.28,1439.81 L616.91,1438.15 L618.53,1438.15 L620.13,1438.62 L621.72,1436.78 L623.3,1438.42 L624.86,1426.69 L626.41,1437.8 L627.95,1439.03 L629.47,1422.68 L630.98,1438.47 L632.48,1432.69 L633.97,1437.57 L635.44,1440.74 L636.91,1433.11 L638.36,1439.73 L639.8,1439.85 L641.23,1443.89 L642.65,1438.99 L644.06,1445.29 L645.45,1443.17 L646.84,1437.46 L648.22,1439.4 L649.58,1436.19 L650.94,1440.9 L652.29,1440.43 L653.62,1447.73 L654.95,1440.36 L656.27,1439.03 L657.58,1445.21 L658.88,1441 L660.17,1440.02 L661.45,1443.48 L662.72,1445.34 L663.99,1439.32 L665.24,1440.47 L666.49,1443.39 L667.73,1444.03 L668.96,1440.27 L670.18,1440.9 L671.39,1444.18 L672.6,1445.99 L673.8,1445.83 L674.99,1448.14 L676.17,1446.57 L677.35,1441.9 L678.52,1444.08 L679.68,1448.06 L680.83,1444.59 L681.98,1447.04 L683.12,1444.71 L684.25,1441.09 L685.37,1446.74 L686.49,1443.12 L687.61,1438.8 L688.71,1448.05 L689.81,1437.15 L690.9,1440.89 L691.99,1445.67 L693.07,1449.36 L694.14,1443.17 L695.21,1446.67 L696.27,1442.07 L697.32,1445.22 L698.37,1441.04 L699.42,1443.94 L700.45,1443.23 L701.49,1442.36 L702.51,1433.14 L703.53,1446.07 L704.55,1420.15 L705.56,1442.65 L706.56,1445.5 L707.56,1441.35 L708.55,1445.82 L709.54,1438.35 L710.52,1444.06 L711.5,1442.41 L712.47,1446.41 L713.44,1443.63 L714.4,1447.9 L715.35,1446.34 L716.31,1451.03 L717.25,1446.06 L718.2,1443.09 L719.13,1444.72 L720.07,1442.79 L720.99,1441.88 L721.92,1445.26 L722.84,1445.91 L723.75,1443.21 L724.66,1443.98 L725.57,1440.79 L726.47,1441.44 L727.36,1441.66 L728.26,1435.98 L729.14,1437.28 L730.03,1440.55 L730.91,1434.11 L731.78,1442.22 L732.65,1444.62 L733.52,1442.62 L734.39,1440.27 L735.24,1442.56 L736.1,1439.61 L736.95,1429.69 L737.8,1439.79 L738.64,1435.21 L739.48,1444.07 L740.32,1434.53 L741.15,1432.96 L741.98,1435.65 L742.8,1437.84 L743.62,1424.31 L744.44,1437.94 L745.26,1439.61 L746.07,1433.54 L746.87,1436.42 L747.68,1439.34 L748.48,1439.44 L749.27,1439.49 L750.07,1438.65 L750.85,1435.55 L751.64,1433.18 L752.42,1439.06 L753.2,1435.37 L753.98,1426.99 L754.75,1438.54 L755.52,1433.16 L756.29,1431.88 L757.05,1438.18 L757.81,1437.96 L758.57,1433.26 L759.33,1430.73 L760.08,1436.27 L760.82,1435.12 L761.57,1435.24 L762.31,1434.1 L763.05,1437.65 L763.79,1432.85 L764.52,1438.67 L765.25,1432.3 L765.98,1436.78 L766.7,1435.02 L767.42,1437.93 L768.14,1431.99 L768.86,1434.7 L769.57,1433.26 L770.28,1430.39 L770.99,1428.65 L771.7,1429.5 L772.4,1434.42 L773.1,1428.96 L773.8,1426.35 L774.49,1434.01 L775.19,1434.64 L775.87,1428.28 L776.56,1425.79 L777.25,1427.76 L777.93,1433.98 L778.61,1428.28 L779.28,1429.89 L779.96,1428.12 L780.63,1425.3 L781.3,1432.45 L781.97,1427.95 L782.63,1433.37 L783.3,1429.54 L783.96,1431.55 L784.61,1433.16 L785.27,1416.36 L785.92,1428.06 L786.57,1426.27 L787.22,1431.47 L787.87,1432.11 L788.51,1433.93 L789.15,1429.82 L789.79,1435.69 L790.43,1427.74 L791.07,1426.54 L791.7,1436.65 L792.33,1425.53 L792.96,1429.66 L793.59,1430.16 L794.21,1425.69 L794.83,1428.84 L795.45,1430.99 L796.07,1431.36 L796.69,1429.87 L797.3,1431.44 L797.91,1435.28 L798.52,1428.66 L799.13,1425.53 L799.74,1434.82 L800.34,1426.24 L800.94,1431.87 L801.54,1420.34 L802.14,1426.76 L802.74,1424.76 L803.33,1421.15 L803.93,1428.49 L804.52,1412.94 L805.1,1425.52 L805.69,1426.42 L806.28,1431.02 L806.86,1424.51 L807.44,1425.74 L808.02,1426.3 L808.6,1432.47 L809.17,1425.81 L809.75,1424 L810.32,1427.52 L810.89,1423.82 L811.46,1420.85 L812.03,1424.76 L812.59,1425.74 L813.16,1422.9 L813.72,1426.72 L814.28,1427.55 L814.84,1428.55 L815.39,1425.45 L815.95,1426.86 L816.5,1424.02 L817.05,1419.25 L817.61,1433.36 L818.15,1434.66 L818.7,1432.88 L819.25,1436.6 L819.79,1432.34 L820.33,1432.79 L820.87,1437.37 L821.41,1437.72 L821.95,1432.44 L822.49,1445.79 L823.02,1436.36 L823.55,1440.49 L824.08,1438.14 L824.61,1441.52 L825.14,1438.72 L825.67,1442.32 L826.19,1431.7 L826.72,1438.55 L827.24,1441.61 L827.76,1442.99 L828.28,1446.8 L828.8,1439.62 L829.31,1436.92 L829.83,1441.93 L830.34,1446.34 L830.86,1443.03 L831.37,1442.33 L831.88,1445.23 L832.38,1443.61 L832.89,1429.49 L833.4,1444.97 L833.9,1445.64 L834.4,1446.45 L834.9,1437.52 L835.4,1450.02 L835.9,1443.02 L836.4,1445.97 L836.89,1445.29 L837.39,1442.38 L837.88,1447.13 L838.37,1451.76 L838.86,1454.17 L839.35,1444.27 L839.84,1448.17 L840.33,1448.65 L840.81,1454.89 L841.3,1456.47 L841.78,1441.52 L842.26,1451.51 L842.74,1451.79 L843.22,1452.86 L843.7,1454.65 L844.18,1456.39 L844.65,1455.64 L845.12,1453.51 L845.6,1453.99 L846.07,1452.31 L846.54,1456.48 L847.01,1454.5 L847.48,1446.15 L847.94,1457.61 L848.41,1456.44 L848.87,1448.81 L849.34,1459.25 L849.8,1457.16 L850.26,1457.55 L850.72,1457.17 L851.18,1442.93 L851.64,1457.24 L852.1,1459.19 L852.55,1459.4 L853,1462.38 L853.46,1456.26 L853.91,1458.08 L854.36,1460.32 L854.81,1462.19 L855.26,1462.16 L855.71,1463.32 L856.15,1449 L856.6,1465.33 L857.05,1461.35 L857.49,1465.28 L857.93,1468.64 L858.37,1453.8 L858.81,1466.82 L859.25,1464.96 L859.69,1463.27 L860.13,1470.3 L860.56,1463.68 L861,1469.07 L861.43,1468.16 L861.87,1469.84 L862.3,1469.6 L862.73,1463.48 L863.16,1468.9 L863.59,1474.06 L864.02,1467.38 L864.44,1474.54 L864.87,1467.36 L865.3,1474.28 L865.72,1469.25 L866.14,1471.34 L866.56,1468.71 L866.99,1474.17 L867.41,1471.55 L867.83,1468.64 L868.24,1466.24 L868.66,1474.7 L869.08,1475.17 L869.49,1471.4 L869.91,1471.03 L870.32,1460.76 L870.74,1476.13 L871.15,1476.92 L871.56,1476.2 L871.97,1471.76 L872.38,1467.48 L872.79,1476.67 L873.19,1475.96 L873.6,1471.39 L874.01,1474.65 L874.41,1475.52 L874.81,1480.18 L875.22,1479.89 L875.62,1485.72 L876.02,1485.46 L876.42,1482.28 L876.82,1482.48 L877.22,1476.83 L877.62,1478.46 L878.01,1480.12 L878.41,1478.55 L878.8,1479.09 L879.2,1483.48 L879.59,1481.93 L879.99,1486.69 L880.38,1484.16 L880.77,1490.05 L881.16,1477.32 L881.55,1487.15 L881.94,1484.49 L882.32,1482.48 L882.71,1481.72 L883.1,1491.94 L883.48,1476.09 L883.87,1491.41 L884.25,1486.44 L884.63,1487.91 L885.02,1486.63 L885.4,1493.19 L885.78,1495.55 L886.16,1490.01 L886.54,1491.29 L886.92,1490.83 L887.29,1493.28 L887.67,1493.12 L888.05,1494 L888.42,1494.93 L888.79,1494.37 L889.17,1493.74 L889.54,1498.3 L889.91,1496.37 L890.29,1493.55 L890.66,1499.89 L891.03,1496.25 L891.4,1499.29 L891.76,1497.08 L892.13,1502.35 L892.5,1502.75 L892.86,1498.58 L893.23,1498.48 L893.59,1498.48 L893.96,1495.34 L894.32,1502.35 L894.69,1501.3 L895.05,1501.29 L895.41,1501.52 L895.77,1496.84 L896.13,1501.8 L896.49,1504.22 L896.85,1501.38 L897.2,1512.19 L897.56,1498.55 L897.92,1502.95 L898.27,1504.15 L898.63,1506.26 L898.98,1501.31 L899.34,1499.54 L899.69,1502.76 L900.04,1511.96 L900.39,1507.93 L900.74,1504.32 L901.1,1507.82 L901.45,1509.32 L901.79,1511.27 L902.14,1509 L902.49,1505.75 L902.84,1511.7 L903.18,1503.82 L903.53,1513.53 L903.87,1510.86 L904.22,1509.54 L904.56,1507.87 L904.91,1516.17 L905.25,1515.34 L905.59,1516.38 L905.93,1512.34 L906.27,1509.85 L906.61,1514 L906.95,1511.12 L907.29,1512.63 L907.63,1517.72 L907.97,1513.23 L908.3,1511.69 L908.64,1515.61 L908.98,1505.86 L909.31,1512.69 L909.65,1520.87 L909.98,1512.24 L910.31,1518.19 L910.65,1516.78 L910.98,1519.41 L911.31,1512.02 L911.64,1521.38 L911.97,1506.97 L912.3,1518.55 L912.63,1520.81 L912.96,1520.36 L913.29,1520.15 L913.61,1518.07 L913.94,1520.14 L914.27,1523.93 L914.59,1524.1 L914.92,1523.58 L915.24,1520.09 L915.57,1526.09 L915.89,1521.04 L916.21,1523.42 L916.53,1528.37 L916.86,1518.84 L917.18,1524.78 L917.5,1530.55 L917.82,1523.56 L918.14,1526.11 L918.46,1525.04 L918.77,1526.19 L919.09,1527.37 L919.41,1507.48 L919.73,1527.86 L920.04,1530.53 L920.36,1520.75 L920.67,1526.45 L920.99,1522.53 L921.3,1529.16 L921.62,1527.95 L921.93,1533.75 L922.24,1517.43 L922.55,1526.72 L922.87,1525.39 L923.18,1533.74 L923.49,1531.71 L923.8,1530.31 L924.11,1529.76 L924.41,1530.7 L924.72,1536.04 L925.03,1534.29 L925.34,1526.76 L925.65,1529.61 L925.95,1529.37 L926.26,1534.89 L926.56,1534.66 L926.87,1537.17 L927.17,1533.7 L927.48,1534.27 L927.78,1533.87 L928.08,1526.15 L928.38,1535.21 L928.69,1537.47 L928.99,1538.94 L929.29,1536.77 L929.59,1537.58 L929.89,1532.13 L930.19,1537.08 L930.49,1532.3 L930.78,1540.59 L931.08,1540.79 L931.38,1537.57 L931.68,1541.08 L931.97,1539.9 L932.27,1538.79 L932.57,1526.25 L932.86,1539.79 L933.15,1546.07 L933.45,1544.02 L933.74,1542.18 L934.04,1539.24 L934.33,1545.5 L934.62,1549.71 L934.91,1545.71 L935.2,1523.37 L935.49,1550.18 L935.79,1539.62 L936.08,1548.47 L936.36,1547.66 L936.65,1545.24 L936.94,1547.85 L937.23,1548.93 L937.52,1550.29 L937.81,1549.7 L938.09,1549.2 L938.38,1553.13 L938.67,1536.56 L938.95,1544.89 L939.24,1548.22 L939.52,1553.41 L939.8,1553.09 L940.09,1552.16 L940.37,1556.37 L940.65,1556.75 L940.94,1552.71 L941.22,1560.28 L941.5,1555.49 L941.78,1557.23 L942.06,1552.5 L942.34,1558.45 L942.62,1554.36 L942.9,1553.75 L943.18,1545.2 L943.46,1562.04 L943.74,1565.41 L944.02,1560.54 L944.29,1553.74 L944.57,1560.34 L944.85,1557.94 L945.12,1558.27 L945.4,1560.55 L945.67,1566.63 L945.95,1560.51 L946.22,1565.3 L946.5,1562.66 L946.77,1564.03 L947.04,1545.55 L947.32,1570.77 L947.59,1565.93 L947.86,1564.15 L948.13,1565.1 L948.41,1564.7 L948.68,1561.01 L948.95,1565.26 L949.22,1567.37 L949.49,1563.28 L949.76,1566.27 L950.02,1567.78 L950.29,1568.42 L950.56,1569.54 L950.83,1572 L951.1,1557.63 L951.36,1572.95 L951.63,1572.42 L951.9,1573.94 L952.16,1571.98 L952.43,1578.87 L952.69,1571.8 L952.96,1572.7 L953.22,1569.95 L953.49,1574.27 L953.75,1574.5 L954.01,1577.32 L954.28,1575.45 L954.54,1571.46 L954.8,1575.18 L955.06,1575.6 L955.32,1577.52 L955.58,1576.33 L955.84,1573.82 L956.1,1581.02 L956.36,1578.03 L956.62,1573.25 L956.88,1577.95 L957.14,1580.84 L957.4,1578.79 L957.66,1578.55 L957.92,1580.23 L958.17,1579.43 L958.43,1575.39 L958.69,1578.49 L958.94,1583.51 L959.2,1580.87 L959.46,1555.19 L959.71,1575.94 L959.97,1573.57 L960.22,1587.81 L960.47,1579.67 L960.73,1584.12 L960.98,1586.05 L961.23,1584.83 L961.49,1580.46 L961.74,1584.1 L961.99,1578.11 L962.24,1584.41 L962.49,1578.52 L962.75,1587.53 L963,1589.73 L963.25,1584.76 L963.5,1590.69 L963.75,1571.71 L964,1588.83 L964.25,1589.94 L964.49,1588.22 L964.74,1591.17 L964.99,1585.73 L965.24,1585.64 L965.49,1587.21 L965.73,1589.57 L965.98,1594.2 L966.23,1578.6 L966.47,1588.45 L966.72,1590.71 L966.96,1588.84 L967.21,1589.67 L967.45,1592.18 L967.7,1591.32 L967.94,1592.28 L968.18,1587.12 L968.43,1586.49 L968.67,1587.11 L968.91,1596.66 L969.16,1597.39 L969.4,1595.77 L969.64,1595.17 L969.88,1582.09 L970.12,1590.46 L970.36,1586.2 L970.61,1595.02 L970.85,1579.65 L971.09,1593.16 L971.33,1601.36 L971.56,1600.95 L971.8,1595.71 L972.04,1590.44 L972.28,1601.3 L972.52,1600.2 L972.76,1593.48 L972.99,1596.52 L973.23,1603.46 L973.47,1593.93 L973.71,1595.03 L973.94,1599.83 L974.18,1578.45 L974.41,1601.96 L974.65,1598.92 L974.88,1598.35 L975.12,1595.33 L975.35,1601.29 L975.59,1606.74 L975.82,1590.43 L976.06,1600.59 L976.29,1602.52 L976.52,1596.21 L976.75,1600.75 L976.99,1601.76 L977.22,1604.94 L977.45,1602.54 L977.68,1598.79 L977.91,1598.59 L978.14,1603.15 L978.38,1604.47 L978.61,1610.59 L978.84,1601.47 L979.07,1603.35 L979.3,1603.82 L979.52,1610.45 L979.75,1605.21 L979.98,1605.88 L980.21,1608.15 L980.44,1598.4 L980.67,1610.42 L980.89,1607.86 L981.12,1609.75 L981.35,1603.4 L981.58,1611.7 L981.8,1611.08 L982.03,1616.43 L982.25,1595.84 L982.48,1611.27 L982.71,1610.6 L982.93,1611.15 L983.16,1613.77 L983.38,1610.2 L983.6,1612.46 L983.83,1613.15 L984.05,1610.83 L984.28,1610.9 L984.5,1612.19 L984.72,1615.3 L984.94,1614.3 L985.17,1614.36 L985.39,1615.47 L985.61,1617.98 L985.83,1617.13 L986.05,1618.21 L986.28,1612.77 L986.5,1616.25 L986.72,1616.27 L986.94,1618.65 L987.16,1612.33 L987.38,1617.28 L987.6,1618.37 L987.82,1620.96 L988.03,1617.84 L988.25,1614.03 L988.47,1619.73 L988.69,1615.65 L988.91,1623.08 L989.13,1616.49 L989.34,1615.3 L989.56,1618.84 L989.78,1619.61 L989.99,1621.63 L990.21,1604.28 L990.43,1620.03 L990.64,1616.69 L990.86,1612.69 L991.07,1605.63 L991.29,1626.52 L991.5,1621.1 L991.72,1622.17 L991.93,1624.86 L992.15,1619.8 L992.36,1623.73 L992.57,1627.89 L992.79,1629.58 L993,1622.33 L993.21,1617.18 L993.43,1625.88 L993.64,1621.7 L993.85,1626.2 L994.06,1625.38 L994.28,1629.68 L994.49,1624.28 L994.7,1623.75 L994.91,1623.91 L995.12,1620.42 L995.33,1622.95 L995.54,1631.92 L995.75,1624.13 L995.96,1625.05 L996.17,1631.47 L996.38,1633.79 L996.59,1630.77 L996.8,1631.54 L997.01,1629.63 L997.21,1620.29 L997.42,1632.27 L997.63,1626.84 L997.84,1634.19 L998.05,1634.39 L998.25,1632.69 L998.46,1633.58 L998.67,1631.69 L998.87,1634.79 L999.08,1632.37 L999.29,1633.78 L999.49,1636.91 L999.7,1634.93 L999.9,1618.7 L1000.11,1624.16 L1000.31,1638.5 L1000.52,1636.6 L1000.72,1634.67 L1000.93,1635.2 L1001.13,1638.32 L1001.33,1634.43 L1001.54,1635.66 L1001.74,1638.45 L1001.94,1637.04 L1002.15,1635.29 L1002.35,1644.67 L1002.55,1641.96 L1002.75,1633.53 L1002.96,1636.34 L1003.16,1638.16 L1003.36,1641.63 L1003.56,1640.56 L1003.76,1643.36 L1003.96,1637.91 L1004.16,1642.59 L1004.36,1635.52 L1004.56,1637.56 L1004.76,1643.83 L1004.96,1642.9 L1005.16,1647.6 L1005.36,1639.18 L1005.56,1640.21 L1005.76,1643.02 L1005.96,1643.77 L1006.16,1644.49 L1006.36,1644.68 L1006.56,1646.33 L1006.75,1639.46 L1006.95,1641.33 L1007.15,1646.22 L1007.35,1627.5 L1007.54,1644.64 L1007.74,1649.15 L1007.94,1653.17 L1008.13,1645.08 L1008.33,1646.19 L1008.53,1646.1 L1008.72,1646.87 L1008.92,1650.76 L1009.11,1649.29 L1009.31,1647.33 L1009.5,1647.24 L1009.7,1644.84 L1009.89,1637.19 L1010.09,1645.35 L1010.28,1647.32 L1010.47,1647.26 L1010.67,1643.8 L1010.86,1643.29 L1011.06,1644.69 L1011.25,1644.82 L1011.44,1646.99 L1011.63,1644.09 L1011.83,1649.73 L1012.02,1653.92 L1012.21,1649.72 L1012.4,1649.38 L1012.59,1646.72 L1012.79,1644.16 L1012.98,1650.76 L1013.17,1646.97 L1013.36,1648.52 L1013.55,1644.35 L1013.74,1652.01 L1013.93,1651.47 L1014.12,1649.13 L1014.31,1647.78 L1014.5,1648.27 L1014.69,1652.9 L1014.88,1649.56 L1015.07,1646.58 L1015.26,1648.83 L1015.45,1647.05 L1015.64,1653.03 L1015.83,1646.99 L1016.01,1652.31 L1016.2,1653.86 L1016.39,1656.55 L1016.58,1640.71 L1016.76,1656.33 L1016.95,1645.09 L1017.14,1655.47 L1017.33,1658.97 L1017.51,1653.45 L1017.7,1652.22 L1017.89,1651.95 L1018.07,1650.24 L1018.26,1649.2 L1018.44,1649.23 L1018.63,1658.55 L1018.81,1653.36 L1019,1657.51 L1019,1698.68 L1018.81,1702.55 L1018.63,1701.79 L1018.44,1705.85 L1018.26,1704.25 L1018.07,1703.75 L1017.89,1706.63 L1017.7,1705.67 L1017.51,1702.83 L1017.33,1714.35 L1017.14,1702.51 L1016.95,1703.78 L1016.76,1705.43 L1016.58,1703.35 L1016.39,1701.51 L1016.2,1701.09 L1016.01,1701.32 L1015.83,1702.49 L1015.64,1701.98 L1015.45,1702.29 L1015.26,1702.09 L1015.07,1714.57 L1014.88,1709.56 L1014.69,1701.12 L1014.5,1701.73 L1014.31,1700.21 L1014.12,1705.1 L1013.93,1698.48 L1013.74,1700 L1013.55,1697.91 L1013.36,1704.79 L1013.17,1695.37 L1012.98,1702.31 L1012.79,1694.61 L1012.59,1704.72 L1012.4,1701.75 L1012.21,1694.53 L1012.02,1698.15 L1011.83,1701.15 L1011.63,1698.82 L1011.44,1692.27 L1011.25,1702.85 L1011.06,1699.28 L1010.86,1717.46 L1010.67,1699.01 L1010.47,1701.55 L1010.28,1699.54 L1010.09,1696.6 L1009.89,1695.92 L1009.7,1706.95 L1009.5,1696.88 L1009.31,1699.87 L1009.11,1694.77 L1008.92,1698.72 L1008.72,1703.18 L1008.53,1697.03 L1008.33,1699.66 L1008.13,1696.4 L1007.94,1696.92 L1007.74,1697.73 L1007.54,1693.41 L1007.35,1692.85 L1007.15,1694.09 L1006.95,1697.36 L1006.75,1694.85 L1006.56,1695.08 L1006.36,1695.35 L1006.16,1695.69 L1005.96,1692.26 L1005.76,1694.96 L1005.56,1696.18 L1005.36,1690.19 L1005.16,1692.29 L1004.96,1692.21 L1004.76,1689.75 L1004.56,1693.67 L1004.36,1691.9 L1004.16,1687.8 L1003.96,1685.64 L1003.76,1702.31 L1003.56,1689.29 L1003.36,1686.46 L1003.16,1687.61 L1002.96,1687.68 L1002.75,1682.55 L1002.55,1684.96 L1002.35,1688.39 L1002.15,1695.31 L1001.94,1682 L1001.74,1688.89 L1001.54,1691.45 L1001.33,1686.18 L1001.13,1686.88 L1000.93,1686.46 L1000.72,1681.11 L1000.52,1683.56 L1000.31,1682.65 L1000.11,1679.15 L999.9,1682.44 L999.7,1681.53 L999.49,1678.33 L999.29,1683.78 L999.08,1683.15 L998.87,1679.47 L998.67,1677.94 L998.46,1677.86 L998.25,1679.59 L998.05,1680.13 L997.84,1678.75 L997.63,1680.54 L997.42,1681.55 L997.21,1676.92 L997.01,1675.84 L996.8,1674.4 L996.59,1674.83 L996.38,1676.09 L996.17,1682.59 L995.96,1676.4 L995.75,1678.98 L995.54,1677.23 L995.33,1680.08 L995.12,1672.49 L994.91,1690.96 L994.7,1672.12 L994.49,1675.04 L994.28,1677.38 L994.06,1671.13 L993.85,1670.89 L993.64,1669.28 L993.43,1670.05 L993.21,1667.39 L993,1667.82 L992.79,1675.09 L992.57,1668.26 L992.36,1670.7 L992.15,1666.81 L991.93,1673.79 L991.72,1668.61 L991.5,1667.01 L991.29,1666.98 L991.07,1660.04 L990.86,1664.97 L990.64,1665.38 L990.43,1669.58 L990.21,1669.42 L989.99,1666.75 L989.78,1669.38 L989.56,1664.94 L989.34,1662.03 L989.13,1668.13 L988.91,1662.29 L988.69,1664.03 L988.47,1660.38 L988.25,1661.81 L988.03,1655.6 L987.82,1658.94 L987.6,1658.52 L987.38,1660.72 L987.16,1668.27 L986.94,1658.07 L986.72,1659.07 L986.5,1658.25 L986.28,1658.43 L986.05,1653.79 L985.83,1663.39 L985.61,1652.9 L985.39,1650.6 L985.17,1652.19 L984.94,1655.4 L984.72,1664.19 L984.5,1652.32 L984.28,1655.1 L984.05,1659.82 L983.83,1651.84 L983.6,1648.3 L983.38,1656.47 L983.16,1649.36 L982.93,1654.22 L982.71,1654.31 L982.48,1652.67 L982.25,1653.58 L982.03,1654.22 L981.8,1660.08 L981.58,1651.66 L981.35,1646.97 L981.12,1650.05 L980.89,1644.98 L980.67,1646.59 L980.44,1650.08 L980.21,1649.15 L979.98,1646.91 L979.75,1642.51 L979.52,1658.07 L979.3,1648.02 L979.07,1644.77 L978.84,1647.8 L978.61,1651.85 L978.38,1647.45 L978.14,1640.44 L977.91,1646.79 L977.68,1646.44 L977.45,1640.28 L977.22,1640.17 L976.99,1640.41 L976.75,1636.03 L976.52,1640.98 L976.29,1640.85 L976.06,1640.5 L975.82,1641.61 L975.59,1642.3 L975.35,1639.64 L975.12,1642.34 L974.88,1641.55 L974.65,1636.27 L974.41,1641.93 L974.18,1638.07 L973.94,1635.48 L973.71,1637.23 L973.47,1638.36 L973.23,1635.84 L972.99,1632.6 L972.76,1638.72 L972.52,1638.62 L972.28,1633.7 L972.04,1636.73 L971.8,1632.93 L971.56,1633.25 L971.33,1632.26 L971.09,1637.83 L970.85,1636.27 L970.61,1636.71 L970.36,1634.05 L970.12,1637.57 L969.88,1634.12 L969.64,1630.61 L969.4,1629.02 L969.16,1629.58 L968.91,1630.06 L968.67,1638.15 L968.43,1625.26 L968.18,1632.17 L967.94,1638.22 L967.7,1631.43 L967.45,1645.07 L967.21,1624.4 L966.96,1630.45 L966.72,1630.45 L966.47,1628.66 L966.23,1631.01 L965.98,1631.01 L965.73,1631.41 L965.49,1621.89 L965.24,1626.1 L964.99,1633.18 L964.74,1625.32 L964.49,1621.14 L964.25,1620.48 L964,1630.87 L963.75,1621.41 L963.5,1626.47 L963.25,1620.37 L963,1621.23 L962.75,1625.6 L962.49,1620.92 L962.24,1628.61 L961.99,1618.2 L961.74,1620.58 L961.49,1622.87 L961.23,1619.36 L960.98,1616.43 L960.73,1619.44 L960.47,1615.93 L960.22,1611.56 L959.97,1625.64 L959.71,1618.82 L959.46,1617.12 L959.2,1619.07 L958.94,1614.2 L958.69,1621.58 L958.43,1631.4 L958.17,1616.72 L957.92,1626.64 L957.66,1615.48 L957.4,1624.24 L957.14,1612.1 L956.88,1615.48 L956.62,1612.02 L956.36,1610.41 L956.1,1608.43 L955.84,1611.16 L955.58,1611.51 L955.32,1610.87 L955.06,1615.79 L954.8,1609.61 L954.54,1613.22 L954.28,1608.71 L954.01,1611.67 L953.75,1622.96 L953.49,1619.07 L953.22,1610.35 L952.96,1606.67 L952.69,1611.79 L952.43,1605.04 L952.16,1607.21 L951.9,1618.64 L951.63,1605.49 L951.36,1608.37 L951.1,1607.06 L950.83,1602.18 L950.56,1600.43 L950.29,1606.2 L950.02,1600.17 L949.76,1605.45 L949.49,1608.01 L949.22,1604.7 L948.95,1600.49 L948.68,1598.17 L948.41,1599.54 L948.13,1601.07 L947.86,1600.39 L947.59,1600.99 L947.32,1598.37 L947.04,1612.95 L946.77,1606.46 L946.5,1598.21 L946.22,1603.02 L945.95,1599.34 L945.67,1600.9 L945.4,1598.72 L945.12,1593.31 L944.85,1603.33 L944.57,1599.23 L944.29,1604.47 L944.02,1600.71 L943.74,1596.62 L943.46,1592.42 L943.18,1595.92 L942.9,1592.2 L942.62,1595.01 L942.34,1612.38 L942.06,1591.15 L941.78,1592.68 L941.5,1587.71 L941.22,1594.8 L940.94,1607.37 L940.65,1586.21 L940.37,1586.2 L940.09,1590.32 L939.8,1590.51 L939.52,1588.49 L939.24,1606.3 L938.95,1610.66 L938.67,1580.05 L938.38,1586.34 L938.09,1586.53 L937.81,1586.27 L937.52,1586.65 L937.23,1583.26 L936.94,1588.68 L936.65,1590.27 L936.36,1581.23 L936.08,1578.56 L935.79,1582.43 L935.49,1583.28 L935.2,1580.46 L934.91,1582.9 L934.62,1580.21 L934.33,1577.13 L934.04,1579.28 L933.74,1579.27 L933.45,1579.12 L933.15,1578.51 L932.86,1589.76 L932.57,1599.34 L932.27,1584.86 L931.97,1579.54 L931.68,1576.49 L931.38,1573.34 L931.08,1577.43 L930.78,1572.47 L930.49,1574.01 L930.19,1571.18 L929.89,1572.63 L929.59,1575.08 L929.29,1571.66 L928.99,1574.42 L928.69,1574.64 L928.38,1569.59 L928.08,1566.77 L927.78,1576.54 L927.48,1578.07 L927.17,1571.61 L926.87,1570.03 L926.56,1566.65 L926.26,1567.01 L925.95,1567.53 L925.65,1571.27 L925.34,1562.97 L925.03,1570.45 L924.72,1569.03 L924.41,1567.53 L924.11,1568.08 L923.8,1568.31 L923.49,1572.09 L923.18,1566.73 L922.87,1559.74 L922.55,1581.65 L922.24,1568.15 L921.93,1566.08 L921.62,1569.69 L921.3,1567.65 L920.99,1571.54 L920.67,1569.49 L920.36,1575.77 L920.04,1576.33 L919.73,1577.99 L919.41,1574.42 L919.09,1576.94 L918.77,1583.36 L918.46,1583.36 L918.14,1586.84 L917.82,1589.66 L917.5,1594.81 L917.18,1585.86 L916.86,1587.66 L916.53,1582.22 L916.21,1590.15 L915.89,1584.59 L915.57,1581.12 L915.24,1581.54 L914.92,1584.37 L914.59,1582.64 L914.27,1582.04 L913.94,1593.24 L913.61,1576.89 L913.29,1574.57 L912.96,1577.24 L912.63,1574.11 L912.3,1576 L911.97,1576.46 L911.64,1572.28 L911.31,1571.61 L910.98,1570.76 L910.65,1568.59 L910.31,1567.24 L909.98,1563.17 L909.65,1567.05 L909.31,1569.42 L908.98,1563.61 L908.64,1561.37 L908.3,1559.6 L907.97,1561.2 L907.63,1560.07 L907.29,1559.41 L906.95,1558.89 L906.61,1558.55 L906.27,1554.08 L905.93,1555.99 L905.59,1557.14 L905.25,1546.25 L904.91,1551.78 L904.56,1550.19 L904.22,1547.95 L903.87,1549.47 L903.53,1546.71 L903.18,1543.37 L902.84,1542.81 L902.49,1540.92 L902.14,1546.96 L901.79,1543.54 L901.45,1541.11 L901.1,1543.3 L900.74,1539.61 L900.39,1538.47 L900.04,1562.44 L899.69,1536.5 L899.34,1531.27 L898.98,1530.99 L898.63,1531.3 L898.27,1533.04 L897.92,1529.09 L897.56,1532.35 L897.2,1532.5 L896.85,1534.99 L896.49,1537.02 L896.13,1533.94 L895.77,1531.21 L895.41,1527.78 L895.05,1528.78 L894.69,1527.77 L894.32,1521.89 L893.96,1527.05 L893.59,1525.33 L893.23,1525.6 L892.86,1527.01 L892.5,1526.39 L892.13,1526.91 L891.76,1526.51 L891.4,1526 L891.03,1523.33 L890.66,1543.03 L890.29,1524.36 L889.91,1524.45 L889.54,1517.95 L889.17,1520.76 L888.79,1518.82 L888.42,1522.26 L888.05,1523.59 L887.67,1523.04 L887.29,1523.24 L886.92,1520.66 L886.54,1518.96 L886.16,1520.48 L885.78,1519.11 L885.4,1513.97 L885.02,1523.08 L884.63,1517.22 L884.25,1516.78 L883.87,1514.9 L883.48,1513.95 L883.1,1515.72 L882.71,1514.08 L882.32,1515.14 L881.94,1514.8 L881.55,1518.08 L881.16,1509.9 L880.77,1510.06 L880.38,1513.79 L879.99,1507.11 L879.59,1513.08 L879.2,1523.42 L878.8,1512.26 L878.41,1511.39 L878.01,1511.63 L877.62,1511.5 L877.22,1509.03 L876.82,1516.92 L876.42,1508.66 L876.02,1504.96 L875.62,1506.23 L875.22,1505.94 L874.81,1502.57 L874.41,1504.13 L874.01,1500.9 L873.6,1504.96 L873.19,1503.38 L872.79,1506.12 L872.38,1502.35 L871.97,1507.07 L871.56,1501.75 L871.15,1501.72 L870.74,1505.89 L870.32,1498.06 L869.91,1498.76 L869.49,1505.88 L869.08,1500.04 L868.66,1511.71 L868.24,1497.56 L867.83,1497.01 L867.41,1496.84 L866.99,1506.2 L866.56,1498.9 L866.14,1502.25 L865.72,1496 L865.3,1509.2 L864.87,1494.36 L864.44,1496.15 L864.02,1496.35 L863.59,1497.25 L863.16,1495.89 L862.73,1499.48 L862.3,1499.93 L861.87,1499.83 L861.43,1499.06 L861,1497.62 L860.56,1494.37 L860.13,1496.06 L859.69,1494.68 L859.25,1490.74 L858.81,1492.47 L858.37,1495.38 L857.93,1497 L857.49,1495.67 L857.05,1492.07 L856.6,1497.45 L856.15,1494.44 L855.71,1486.85 L855.26,1494.37 L854.81,1490.69 L854.36,1493.28 L853.91,1490.58 L853.46,1493.84 L853,1492.1 L852.55,1489.24 L852.1,1493.45 L851.64,1490.24 L851.18,1491.96 L850.72,1492.69 L850.26,1490.79 L849.8,1483.66 L849.34,1488.5 L848.87,1488.5 L848.41,1486.97 L847.94,1488.21 L847.48,1486.41 L847.01,1483.61 L846.54,1487.46 L846.07,1483.89 L845.6,1484.45 L845.12,1490.36 L844.65,1488.34 L844.18,1490.57 L843.7,1489.47 L843.22,1487.41 L842.74,1491.68 L842.26,1486.1 L841.78,1485.84 L841.3,1487.7 L840.81,1495.4 L840.33,1490.59 L839.84,1490.05 L839.35,1495.09 L838.86,1488.31 L838.37,1494.48 L837.88,1492.94 L837.39,1490.97 L836.89,1483.24 L836.4,1509.66 L835.9,1499.8 L835.4,1488.02 L834.9,1488.02 L834.4,1482.38 L833.9,1485.51 L833.4,1482.65 L832.89,1483.81 L832.38,1479.89 L831.88,1480.89 L831.37,1483.56 L830.86,1484.59 L830.34,1479.57 L829.83,1479.88 L829.31,1482.28 L828.8,1478.1 L828.28,1477.25 L827.76,1482.2 L827.24,1474.98 L826.72,1476.64 L826.19,1476.18 L825.67,1477.85 L825.14,1476.13 L824.61,1473.45 L824.08,1470.48 L823.55,1470.3 L823.02,1468.11 L822.49,1470.22 L821.95,1472.9 L821.41,1467.43 L820.87,1471.49 L820.33,1469.77 L819.79,1481.52 L819.25,1471.06 L818.7,1465.59 L818.15,1474.47 L817.61,1471.13 L817.05,1468.13 L816.5,1468.88 L815.95,1466.64 L815.39,1465.65 L814.84,1467.82 L814.28,1469.79 L813.72,1470.34 L813.16,1467.28 L812.59,1469.69 L812.03,1468.89 L811.46,1471.19 L810.89,1473.63 L810.32,1468.07 L809.75,1468.72 L809.17,1469.42 L808.6,1468.13 L808.02,1468.85 L807.44,1469.26 L806.86,1471.22 L806.28,1472.65 L805.69,1467.97 L805.1,1466.6 L804.52,1465.25 L803.93,1467.46 L803.33,1472.24 L802.74,1465.16 L802.14,1467.33 L801.54,1474.46 L800.94,1470.81 L800.34,1471.47 L799.74,1467.11 L799.13,1466.51 L798.52,1467.94 L797.91,1467.37 L797.3,1468.48 L796.69,1467.01 L796.07,1468.57 L795.45,1465.29 L794.83,1478.77 L794.21,1465.15 L793.59,1466.19 L792.96,1479.7 L792.33,1474.22 L791.7,1466.23 L791.07,1469.63 L790.43,1464.89 L789.79,1467 L789.15,1467.08 L788.51,1469.82 L787.87,1472.97 L787.22,1468.73 L786.57,1474.48 L785.92,1464.19 L785.27,1474 L784.61,1465.41 L783.96,1470.74 L783.3,1470.32 L782.63,1464.72 L781.97,1469.08 L781.3,1466.41 L780.63,1468.69 L779.96,1464.93 L779.28,1468.5 L778.61,1469.34 L777.93,1465.71 L777.25,1467.8 L776.56,1466.52 L775.87,1472.99 L775.19,1466.65 L774.49,1466.66 L773.8,1471.67 L773.1,1466.15 L772.4,1468.42 L771.7,1464.01 L770.99,1473.24 L770.28,1465.05 L769.57,1468.21 L768.86,1466.38 L768.14,1464.45 L767.42,1466.35 L766.7,1466.93 L765.98,1468.97 L765.25,1470.22 L764.52,1463.69 L763.79,1471.37 L763.05,1466.76 L762.31,1467.91 L761.57,1467.98 L760.82,1474.69 L760.08,1465.52 L759.33,1475.3 L758.57,1469.51 L757.81,1463.1 L757.05,1469.81 L756.29,1481.43 L755.52,1469.65 L754.75,1469.11 L753.98,1476.39 L753.2,1468.6 L752.42,1468.05 L751.64,1472.18 L750.85,1471.25 L750.07,1466.93 L749.27,1463.17 L748.48,1472.76 L747.68,1470.14 L746.87,1477.91 L746.07,1468.49 L745.26,1468.73 L744.44,1471.62 L743.62,1469.27 L742.8,1474.8 L741.98,1467.67 L741.15,1472.14 L740.32,1471.68 L739.48,1471.45 L738.64,1474.11 L737.8,1470.6 L736.95,1474.5 L736.1,1479.96 L735.24,1472.39 L734.39,1478.85 L733.52,1484.7 L732.65,1473.52 L731.78,1472.76 L730.91,1480.99 L730.03,1475.41 L729.14,1473.8 L728.26,1477.13 L727.36,1475.54 L726.47,1473.36 L725.57,1473.26 L724.66,1472.82 L723.75,1474.51 L722.84,1473.91 L721.92,1477.34 L720.99,1476.42 L720.07,1481.21 L719.13,1480.74 L718.2,1482.27 L717.25,1486.35 L716.31,1483.37 L715.35,1486.19 L714.4,1488.66 L713.44,1487.7 L712.47,1490.64 L711.5,1491.18 L710.52,1490.01 L709.54,1487.29 L708.55,1483.22 L707.56,1479.88 L706.56,1486.26 L705.56,1479.5 L704.55,1485.51 L703.53,1480.68 L702.51,1483.34 L701.49,1476.68 L700.45,1483.18 L699.42,1481.82 L698.37,1479.45 L697.32,1478.44 L696.27,1492.46 L695.21,1491.69 L694.14,1478.04 L693.07,1478.35 L691.99,1477.98 L690.9,1480.54 L689.81,1477.73 L688.71,1477.5 L687.61,1477.78 L686.49,1474.61 L685.37,1484.04 L684.25,1482.68 L683.12,1479.69 L681.98,1477.16 L680.83,1476.34 L679.68,1482.31 L678.52,1481.48 L677.35,1476.94 L676.17,1477.51 L674.99,1476.78 L673.8,1482.51 L672.6,1479.56 L671.39,1476.25 L670.18,1481.33 L668.96,1474.84 L667.73,1482.47 L666.49,1478.42 L665.24,1482.22 L663.99,1473.91 L662.72,1481.72 L661.45,1481.9 L660.17,1486.26 L658.88,1476.61 L657.58,1483.85 L656.27,1485.78 L654.95,1477.18 L653.62,1482.81 L652.29,1479.55 L650.94,1478.57 L649.58,1479.49 L648.22,1478.04 L646.84,1479.9 L645.45,1476.24 L644.06,1477.53 L642.65,1473.97 L641.23,1474.94 L639.8,1494.04 L638.36,1482 L636.91,1484.91 L635.44,1487.97 L633.97,1492.78 L632.48,1492.65 L630.98,1496.83 L629.47,1498.71 L627.95,1499.84 L626.41,1509.05 L624.86,1494.72 L623.3,1500.15 L621.72,1495.01 L620.13,1496.38 L618.53,1494.03 L616.91,1498.24 L615.28,1491.63 L613.63,1493.27 L611.97,1495.96 L610.3,1491.73 L608.61,1493.47 L606.9,1492.89 L605.18,1489.75 L603.44,1485.29 L601.68,1489.96 L599.91,1492.23 L598.12,1493.35 L596.32,1500.5 L594.49,1498.62 L592.65,1504.12 L590.79,1506.71 L588.91,1497.82 L587.01,1501.64 L585.09,1496.26 L583.15,1495.5 L581.19,1497.52 L579.21,1499.94 L577.21,1491.18 L575.19,1493.3 L573.14,1491.74 L571.07,1488.52 L568.98,1489.56 L566.86,1487.02 L564.72,1484.44 L562.56,1488.32 L560.37,1487.43 L558.15,1485.82 L555.9,1492.05 L553.63,1488.49 L551.33,1488.9 L549,1491.41 L546.64,1496.85 L544.26,1497.34 L541.83,1496.09 L539.38,1504.65 L536.9,1511.16 L534.38,1517.38 L531.82,1522.4 L529.23,1521.76 L526.61,1512.86 L523.94,1511.34 L521.24,1509.89 L518.5,1502.97 L515.71,1504.65 L512.89,1500.4 L510.01,1504.69 L507.1,1506.08 L504.14,1506.25 L501.13,1535.11 L498.06,1570.35 L494.95,1545.98 L491.79,1511.91 L488.57,1508.54 L485.29,1513.27 L481.95,1524.76 L478.56,1522.99 L475.1,1522.97 L471.57,1519.99 L467.97,1518.82 L464.31,1514.13 L460.57,1516.22 L456.75,1521.67 L452.85,1521.21 L448.87,1523.63 L444.8,1525.6 L440.64,1527.15 L436.38,1526.39 L432.02,1518.82 L425,1500 L415.4,1516.6 L405.8,1522 L399,1548 L392.2,1533 L384,1508.4 L375.8,1522 L364.9,1528.9 L356.7,1541.2 L348.5,1553.5 L319.5,1553 L300,1549 L279.2,1545 L268.6,1539 L228,1536 L187.8,1533 L184.3,1542.5 L173.8,1580 L166.3,1600 Z" fill="#ff0000" fill-opacity="0.2"/>
<path d="M165,1516 L180.3,1505.5 L193,1494.1 L200.6,1495.3 L218.3,1513.1 L227.2,1505.5 L233.6,1508 L246.3,1485.2 L261.5,1473.8 L269.1,1475 L286.8,1490.3 L297,1494.1 L312.2,1480.1 L319.8,1478.8 L327.4,1472.5 L337.6,1470.5 L347.7,1468.7 L357.9,1459.8 L365.5,1456 L370.6,1462.4 L380.7,1454.7 L388.3,1443.3 L401,1442.1 L413.7,1434.4 L425.1,1424.3 L434,1426.8 L445.4,1409.1 L460.7,1398.9 L473.3,1401.5 L483.5,1396.4 L491.1,1387.5 L503.8,1381.2 L516.5,1374.1 L526.6,1375.6 L536.8,1369.8 L552,1363.4 L559.6,1350.7 L567.2,1343.1 L574.8,1350.2 L582.4,1343.1 L592.6,1339.3 L607.8,1339.3 L618,1340.6 L628.1,1348.2 L638.2,1352 L648.4,1354.5 L656,1366 L658,1460 L659.5,1462.4 L661,1378 L663.6,1378.6 L670,1383.7 L682.7,1393.9 L695.4,1402 L708.1,1410.9 L720.7,1418.7 L733.4,1425 L746.1,1426.3 L758.8,1421.2 L771.5,1426.3 L784.2,1423.8 L796.8,1426.3 L809.5,1431.4 L822.2,1436.4 L834.9,1441.5 L847.6,1448.7 L860.3,1460 L872.9,1474 L885.6,1486.6 L894.1,1493.5 L906.9,1504.8 L915,1509 L917.1,1493.5 L919,1509 L922.4,1528.9 L936.6,1547.3 L950.7,1568.4 L964.9,1585.2 L979,1604.8 L993.2,1627.2 L1007.3,1641.2 L1020,1651" fill="none" stroke="#0000ff" stroke-width="8.2" stroke-linejoin="round" stroke-linecap="butt"/>
<path d="M166.3,1515.1h0M183.9,1502.2h0M200.1,1495.2h0M214.9,1509.7h0M228.6,1506.0h0M241.4,1494.0h0M253.3,1479.9h0M264.6,1474.3h0M275.1,1480.2h0M285.1,1488.9h0M294.6,1493.2h0M303.7,1487.9h0M312.3,1480.1h0M320.5,1478.2h0M328.4,1472.3h0M336.0,1470.8h0M343.2,1469.5h0M350.2,1466.5h0M356.9,1460.6h0M363.4,1457.0h0M369.7,1461.3h0M375.8,1458.4h0M381.7,1453.2h0M387.4,1444.7h0M392.9,1442.9h0M398.3,1442.4h0M403.5,1440.6h0M408.6,1437.5h0M413.5,1434.5h0M418.3,1430.3h0M423.0,1426.2h0M427.6,1425.0h0M432.0,1427.4h0M436.4,1422.9h0M440.6,1416.4h0M444.8,1409.9h0M448.9,1406.8h0M452.8,1402.3h0M456.7,1402.5h0M460.6,1398.2h0M464.3,1399.8h0M468.0,1397.4h0M471.6,1401.4h0M475.1,1402.2h0M478.6,1396.1h0M482.0,1399.1h0M485.3,1394.9h0M488.6,1389.5h0M491.8,1385.1h0M495.0,1387.1h0M498.1,1384.4h0M501.1,1383.3h0M504.1,1380.6h0M507.1,1378.2h0M510.0,1379.0h0M512.9,1374.8h0M515.7,1375.8h0M518.5,1372.0h0M521.2,1373.4h0M523.9,1373.0h0M526.6,1377.6h0M529.2,1371.4h0M531.8,1370.9h0M534.4,1372.2h0M536.9,1370.1h0M539.4,1372.2h0M541.8,1370.6h0M544.3,1367.7h0M546.6,1366.8h0M549.0,1361.7h0M551.3,1362.2h0M553.6,1360.1h0M555.9,1356.6h0M558.1,1350.8h0M560.4,1348.3h0M562.6,1346.3h0M564.7,1347.4h0M566.9,1344.2h0M569.0,1344.2h0M571.1,1346.2h0M573.1,1349.2h0M575.2,1348.6h0M577.2,1347.5h0M579.2,1343.0h0M581.2,1345.4h0M583.2,1344.6h0M585.1,1342.8h0M587.0,1342.3h0M588.9,1341.4h0M590.8,1343.8h0M592.6,1339.7h0M594.5,1336.8h0M596.3,1337.3h0M598.1,1340.7h0M599.9,1341.4h0M601.7,1340.8h0M603.4,1340.9h0M605.2,1339.7h0M606.9,1336.4h0M608.6,1338.0h0M610.3,1336.0h0M612.0,1339.1h0M613.6,1337.3h0M615.3,1340.4h0M616.9,1340.1h0M618.5,1337.0h0M620.1,1343.7h0M621.7,1345.0h0M623.3,1341.7h0M624.9,1346.1h0M626.4,1348.4h0M627.9,1347.5h0M629.5,1350.5h0M631.0,1349.7h0M632.5,1352.1h0M634.0,1350.8h0M635.4,1350.6h0M636.9,1352.6h0M638.4,1353.7h0M639.8,1352.9h0M641.2,1351.8h0M642.6,1351.4h0M644.1,1352.6h0M645.5,1352.5h0M646.8,1354.5h0M648.2,1354.8h0M649.6,1356.1h0M650.9,1358.3h0M652.3,1360.7h0M653.6,1365.7h0M655.0,1366.9h0M656.3,1377.4h0M657.6,1441.0h0M658.9,1460.7h0M660.2,1424.6h0M661.4,1377.6h0M662.7,1377.0h0M664.0,1376.0h0M665.2,1374.7h0M666.5,1381.3h0M667.7,1384.4h0M669.0,1380.9h0M670.2,1384.9h0M671.4,1384.0h0M672.6,1386.3h0M673.8,1385.0h0M675.0,1387.2h0M676.2,1388.4h0M677.3,1384.5h0M678.5,1391.0h0M679.7,1391.1h0M680.8,1387.1h0M682.0,1394.7h0M683.1,1394.1h0M684.2,1395.3h0M685.4,1396.3h0M686.5,1395.4h0M687.6,1394.7h0M688.7,1396.7h0M689.8,1397.5h0M690.9,1403.8h0M692.0,1403.7h0M693.1,1399.4h0M694.1,1400.3h0M695.2,1402.5h0M696.3,1403.8h0M697.3,1401.8h0M698.4,1401.9h0M699.4,1408.9h0M700.5,1407.7h0M701.5,1402.9h0M702.5,1403.2h0M703.5,1405.9h0M704.5,1408.8h0M705.6,1410.2h0M706.6,1409.0h0M707.6,1407.0h0M708.5,1411.6h0M709.5,1413.0h0M710.5,1412.3h0M711.5,1411.9h0M712.5,1414.8h0M713.4,1414.0h0M714.4,1412.3h0M715.4,1415.5h0M716.3,1413.2h0M717.3,1418.6h0M718.2,1418.1h0M719.1,1415.5h0M720.1,1418.7h0M721.0,1421.5h0M721.9,1414.7h0M722.8,1419.4h0M723.8,1423.7h0M724.7,1417.3h0M725.6,1420.7h0M726.5,1418.4h0M727.4,1421.8h0M728.3,1417.2h0M729.1,1419.3h0M730.0,1422.1h0M730.9,1424.0h0M731.8,1424.9h0M732.7,1425.5h0M733.5,1427.4h0M734.4,1426.5h0M735.2,1426.7h0M736.1,1423.1h0M737.0,1425.0h0M737.8,1432.2h0M738.6,1430.3h0M739.5,1427.3h0M740.3,1427.2h0M741.1,1427.9h0M742.0,1424.9h0M742.8,1430.1h0M743.6,1425.2h0M744.4,1425.9h0M745.3,1430.8h0M746.1,1421.7h0M746.9,1426.7h0M747.7,1421.9h0M748.5,1423.9h0M749.3,1424.8h0M750.1,1423.9h0M750.9,1424.7h0M751.6,1422.4h0M752.4,1423.5h0M753.2,1420.8h0M754.0,1422.2h0M754.8,1419.8h0M755.5,1423.9h0M756.3,1419.3h0M757.1,1423.3h0M757.8,1420.6h0M758.6,1420.6h0M759.3,1423.9h0M760.1,1421.9h0M760.8,1417.8h0M761.6,1423.3h0M762.3,1416.3h0M763.1,1423.4h0M763.8,1422.3h0M764.5,1420.4h0M765.3,1423.9h0M766.0,1423.3h0M766.7,1428.7h0M767.4,1423.6h0M768.1,1429.1h0M768.9,1428.2h0M769.6,1424.1h0M770.3,1424.0h0M771.0,1428.9h0M771.7,1425.9h0M772.4,1426.4h0M773.1,1425.4h0M773.8,1423.1h0M774.5,1424.8h0M775.2,1423.4h0M775.9,1422.0h0M776.6,1424.6h0M777.2,1429.0h0M777.9,1428.5h0M778.6,1424.7h0M779.3,1425.0h0M780.0,1425.7h0M780.6,1427.4h0M781.3,1425.0h0M782.0,1423.1h0M782.6,1423.2h0M783.3,1426.4h0M784.0,1429.5h0M784.6,1422.4h0M785.3,1419.5h0M785.9,1425.8h0M786.6,1424.0h0M787.2,1424.6h0M787.9,1427.2h0M788.5,1424.7h0M789.2,1421.8h0M789.8,1420.5h0M790.4,1424.9h0M791.1,1422.6h0M791.7,1425.9h0M792.3,1422.6h0M793.0,1424.7h0M793.6,1422.4h0M794.2,1424.9h0M794.8,1424.9h0M795.5,1427.3h0M796.1,1429.0h0M796.7,1425.8h0M797.3,1424.5h0M797.9,1431.0h0M798.5,1427.7h0M799.1,1428.5h0M799.7,1428.8h0M800.3,1430.9h0M800.9,1430.1h0M801.5,1429.6h0M802.1,1430.1h0M802.7,1426.7h0M803.3,1427.5h0M803.9,1428.9h0M804.5,1429.5h0M805.1,1429.6h0M805.7,1430.5h0M806.3,1430.1h0M806.9,1429.3h0M807.4,1427.0h0M808.0,1432.6h0M808.6,1432.3h0M809.2,1429.3h0M809.7,1432.5h0M810.3,1432.5h0M810.9,1432.1h0M811.5,1428.1h0M812.0,1429.7h0M812.6,1431.2h0M813.2,1436.3h0M813.7,1431.1h0M814.3,1432.5h0M814.8,1431.0h0M815.4,1432.6h0M815.9,1434.6h0M816.5,1429.5h0M817.1,1428.1h0M817.6,1436.0h0M818.2,1434.8h0M818.7,1433.6h0M819.2,1437.3h0M819.8,1437.5h0M820.3,1431.0h0M820.9,1435.5h0M821.4,1438.5h0M821.9,1434.8h0M822.5,1435.8h0M823.0,1438.8h0M823.6,1436.3h0M824.1,1434.5h0M824.6,1435.8h0M825.1,1434.6h0M825.7,1439.0h0M826.2,1434.2h0M826.7,1440.4h0M827.2,1434.8h0M827.8,1438.7h0M828.3,1435.6h0M828.8,1438.3h0M829.3,1441.4h0M829.8,1441.9h0M830.3,1442.5h0M830.9,1439.6h0M831.4,1440.3h0M831.9,1440.7h0M832.4,1441.8h0M832.9,1439.8h0M833.4,1443.3h0M833.9,1441.8h0M834.4,1443.8h0M834.9,1442.5h0M835.4,1443.2h0M835.9,1440.4h0M836.4,1441.4h0M836.9,1439.7h0M837.4,1442.2h0M837.9,1442.7h0M838.4,1445.2h0M838.9,1440.9h0M839.4,1451.1h0M839.8,1444.0h0M840.3,1447.3h0M840.8,1447.1h0M841.3,1439.5h0M841.8,1444.8h0M842.3,1448.9h0M842.7,1440.6h0M843.2,1447.9h0M843.7,1444.4h0M844.2,1445.7h0M844.7,1447.5h0M845.1,1443.1h0M845.6,1447.9h0M846.1,1446.4h0M846.5,1446.4h0M847.0,1449.8h0M847.5,1456.3h0M847.9,1449.7h0M848.4,1450.6h0M848.9,1449.7h0M849.3,1448.6h0M849.8,1451.2h0M850.3,1454.3h0M850.7,1451.8h0M851.2,1453.8h0M851.6,1451.7h0M852.1,1458.2h0M852.6,1449.4h0M853.0,1454.7h0M853.5,1455.0h0M853.9,1454.8h0M854.4,1452.2h0M854.8,1452.5h0M855.3,1454.9h0M855.7,1456.1h0M856.2,1453.6h0M856.6,1454.3h0M857.0,1458.3h0M857.5,1459.7h0M857.9,1456.6h0M858.4,1456.7h0M858.8,1457.0h0M859.3,1464.4h0M859.7,1460.5h0M860.1,1459.6h0M860.6,1462.4h0M861.0,1465.8h0M861.4,1463.8h0M861.9,1458.5h0M862.3,1462.0h0M862.7,1461.7h0M863.2,1462.3h0M863.6,1460.9h0M864.0,1463.2h0M864.4,1462.1h0M864.9,1465.7h0M865.3,1465.6h0M865.7,1462.8h0M866.1,1462.6h0M866.6,1465.8h0M867.0,1468.8h0M867.4,1468.9h0M867.8,1468.1h0M868.2,1461.5h0M868.7,1468.1h0M869.1,1468.0h0M869.5,1469.4h0M869.9,1467.9h0M870.3,1470.1h0M870.7,1470.0h0M871.1,1478.0h0M871.6,1474.0h0M872.0,1472.5h0M872.4,1473.2h0M872.8,1473.5h0M873.2,1474.6h0M873.6,1473.7h0M874.0,1475.0h0M874.4,1477.7h0M874.8,1477.6h0M875.2,1476.9h0M875.6,1479.5h0M876.0,1477.5h0M876.4,1475.2h0M876.8,1473.9h0M877.2,1476.7h0M877.6,1478.5h0M878.0,1479.9h0M878.4,1481.8h0M878.8,1478.5h0M879.2,1478.4h0M879.6,1482.3h0M880.0,1483.5h0M880.4,1480.3h0M880.8,1482.5h0M881.2,1485.1h0M881.5,1483.2h0M881.9,1482.8h0M882.3,1478.7h0M882.7,1486.6h0M883.1,1485.4h0M883.5,1484.7h0M883.9,1483.8h0M884.3,1482.4h0M884.6,1485.3h0M885.0,1485.7h0M885.4,1488.7h0M885.8,1484.0h0M886.2,1490.1h0M886.5,1487.3h0M886.9,1490.2h0M887.3,1485.7h0M887.7,1489.0h0M888.0,1491.2h0M888.4,1489.1h0M888.8,1485.9h0M889.2,1488.7h0M889.5,1490.9h0M889.9,1486.9h0M890.3,1487.1h0M890.7,1491.1h0M891.0,1488.8h0M891.4,1492.7h0M891.8,1488.9h0M892.1,1487.8h0M892.5,1490.4h0M892.9,1495.7h0M893.2,1490.8h0M893.6,1493.0h0M894.0,1493.8h0M894.3,1491.5h0M894.7,1496.3h0M895.0,1494.6h0M895.4,1495.6h0M895.8,1491.2h0M896.1,1491.3h0M896.5,1489.4h0M896.8,1495.4h0M897.2,1495.6h0M897.6,1498.1h0M897.9,1500.1h0M898.3,1496.5h0M898.6,1496.8h0M899.0,1498.7h0M899.3,1501.4h0M899.7,1496.5h0M900.0,1500.0h0M900.4,1498.4h0M900.7,1498.5h0M901.1,1501.4h0M901.4,1498.2h0M901.8,1497.9h0M902.1,1502.0h0M902.5,1500.8h0M902.8,1500.6h0M903.2,1501.1h0M903.5,1502.8h0M903.9,1501.2h0M904.2,1504.0h0M904.6,1503.6h0M904.9,1506.2h0M905.2,1506.1h0M905.6,1505.5h0M905.9,1503.4h0M906.3,1504.4h0M906.6,1503.2h0M907.0,1511.0h0M907.3,1504.4h0M907.6,1506.3h0M908.0,1508.3h0M908.3,1502.5h0M908.6,1503.8h0M909.0,1504.9h0M909.3,1503.8h0M909.6,1503.4h0M910.0,1505.2h0M910.3,1509.3h0M910.6,1508.3h0M911.0,1506.9h0M911.3,1507.1h0M911.6,1503.5h0M912.0,1508.9h0M912.3,1508.5h0M912.6,1505.3h0M913.0,1508.3h0M913.3,1507.6h0M913.6,1507.1h0M913.9,1506.2h0M914.3,1507.1h0M914.6,1506.6h0M914.9,1509.9h0M915.2,1508.0h0M915.6,1505.5h0M915.9,1502.0h0M916.2,1499.1h0M916.5,1502.1h0M916.9,1491.1h0M917.2,1496.7h0M917.5,1497.5h0M917.8,1499.4h0M918.1,1500.8h0M918.5,1504.0h0M918.8,1504.5h0M919.1,1506.4h0M919.4,1511.1h0M919.7,1509.5h0M920.0,1516.9h0M920.4,1519.3h0M920.7,1511.2h0M921.0,1517.2h0M921.3,1523.0h0M921.6,1524.7h0M921.9,1526.3h0M922.2,1528.8h0M922.6,1530.7h0M922.9,1531.3h0M923.2,1533.8h0M923.5,1530.3h0M923.8,1532.5h0M924.1,1527.5h0M924.4,1531.2h0M924.7,1529.2h0M925.0,1535.3h0M925.3,1537.8h0M925.6,1534.2h0M926.0,1530.6h0M926.3,1533.6h0M926.6,1534.3h0M926.9,1535.1h0M927.2,1537.4h0M927.5,1537.5h0M927.8,1530.0h0M928.1,1539.2h0M928.4,1535.5h0M928.7,1535.8h0M929.0,1540.5h0M929.3,1537.2h0M929.6,1535.1h0M929.9,1535.6h0M930.2,1539.1h0M930.5,1541.3h0M930.8,1543.0h0M931.1,1539.7h0M931.4,1539.5h0M931.7,1544.4h0M932.0,1540.2h0M932.3,1544.8h0M932.6,1542.5h0M932.9,1542.9h0M933.2,1542.3h0M933.4,1543.8h0M933.7,1542.5h0M934.0,1542.4h0M934.3,1544.0h0M934.6,1543.3h0M934.9,1545.7h0M935.2,1545.6h0M935.5,1545.2h0M935.8,1545.8h0M936.1,1546.1h0M936.4,1550.8h0M936.7,1547.3h0M936.9,1546.5h0M937.2,1547.5h0M937.5,1550.1h0M937.8,1548.6h0M938.1,1549.2h0M938.4,1549.3h0M938.7,1550.7h0M939.0,1551.6h0M939.2,1552.2h0M939.5,1548.0h0M939.8,1549.7h0M940.1,1546.7h0M940.4,1554.7h0M940.7,1555.8h0M940.9,1556.6h0M941.2,1554.5h0M941.5,1557.1h0M941.8,1554.9h0M942.1,1555.2h0M942.3,1552.5h0M942.6,1554.5h0M942.9,1555.4h0M943.2,1559.1h0M943.5,1561.2h0M943.7,1556.9h0M944.0,1559.2h0M944.3,1559.4h0M944.6,1557.5h0M944.8,1555.8h0M945.1,1558.3h0M945.4,1557.3h0M945.7,1560.1h0M945.9,1560.9h0M946.2,1561.2h0M946.5,1561.7h0M946.8,1563.5h0M947.0,1560.8h0M947.3,1565.2h0M947.6,1560.0h0M947.9,1564.2h0M948.1,1565.4h0M948.4,1563.2h0M948.7,1561.8h0M948.9,1567.1h0M949.2,1564.6h0M949.5,1568.2h0M949.8,1568.6h0M950.0,1567.3h0M950.3,1567.7h0M950.6,1570.3h0M950.8,1569.3h0M951.1,1566.8h0M951.4,1569.5h0M951.6,1570.7h0M951.9,1570.2h0M952.2,1570.5h0M952.4,1570.1h0M952.7,1570.4h0M953.0,1569.0h0M953.2,1568.2h0M953.5,1574.1h0M953.7,1570.6h0M954.0,1572.7h0M954.3,1569.3h0M954.5,1573.2h0M954.8,1571.4h0M955.1,1580.0h0M955.3,1571.6h0M955.6,1572.0h0M955.8,1576.5h0M956.1,1577.2h0M956.4,1570.4h0M956.6,1575.9h0M956.9,1577.6h0M957.1,1573.3h0M957.4,1577.8h0M957.7,1575.4h0M957.9,1574.7h0M958.2,1576.4h0M958.4,1576.5h0M958.7,1574.7h0M958.9,1583.0h0M959.2,1577.4h0M959.5,1577.1h0M959.7,1580.9h0M960.0,1579.1h0M960.2,1582.5h0M960.5,1579.3h0M960.7,1581.0h0M961.0,1580.7h0M961.2,1581.2h0M961.5,1580.6h0M961.7,1581.2h0M962.0,1585.4h0M962.2,1580.5h0M962.5,1581.1h0M962.7,1581.8h0M963.0,1584.1h0M963.2,1584.1h0M963.5,1585.5h0M963.7,1580.8h0M964.0,1584.6h0M964.2,1584.0h0M964.5,1584.0h0M964.7,1585.3h0M965.0,1581.0h0M965.2,1586.2h0M965.5,1586.3h0M965.7,1583.2h0M966.0,1586.4h0M966.2,1590.4h0M966.5,1586.5h0M966.7,1589.0h0M967.0,1587.5h0M967.2,1586.6h0M967.5,1586.7h0M967.7,1588.2h0M967.9,1592.2h0M968.2,1591.5h0M968.4,1588.5h0M968.7,1592.6h0M968.9,1590.4h0M969.2,1589.5h0M969.4,1592.3h0M969.6,1589.7h0M969.9,1588.6h0M970.1,1595.2h0M970.4,1588.8h0M970.6,1594.2h0M970.8,1590.1h0M971.1,1593.7h0M971.3,1593.6h0M971.6,1593.4h0M971.8,1590.0h0M972.0,1594.8h0M972.3,1595.3h0M972.5,1593.8h0M972.8,1595.9h0M973.0,1598.6h0M973.2,1595.2h0M973.5,1597.6h0M973.7,1594.9h0M973.9,1598.5h0M974.2,1599.4h0M974.4,1603.8h0M974.6,1600.7h0M974.9,1600.0h0M975.1,1602.4h0M975.4,1597.5h0M975.6,1602.3h0M975.8,1599.1h0M976.1,1599.3h0M976.3,1603.4h0M976.5,1601.8h0M976.8,1604.5h0M977.0,1598.8h0M977.2,1602.9h0M977.5,1601.5h0M977.7,1602.3h0M977.9,1599.1h0M978.1,1605.6h0M978.4,1604.3h0M978.6,1602.1h0M978.8,1601.6h0M979.1,1603.0h0M979.3,1608.2h0M979.5,1605.4h0M979.8,1605.2h0M980.0,1607.4h0M980.2,1606.7h0M980.4,1607.5h0M980.7,1609.0h0M980.9,1608.5h0M981.1,1610.0h0M981.3,1605.9h0M981.6,1609.0h0M981.8,1608.4h0M982.0,1609.8h0M982.3,1609.8h0M982.5,1608.9h0M982.7,1609.9h0M982.9,1613.0h0M983.2,1610.1h0M983.4,1609.0h0M983.6,1613.3h0M983.8,1614.5h0M984.1,1612.2h0M984.3,1613.4h0M984.5,1611.6h0M984.7,1613.4h0M984.9,1616.5h0M985.2,1616.2h0M985.4,1615.2h0M985.6,1614.6h0M985.8,1612.1h0M986.1,1616.6h0M986.3,1617.3h0M986.5,1618.9h0M986.7,1621.3h0M986.9,1618.1h0M987.2,1619.7h0M987.4,1615.6h0M987.6,1621.0h0M987.8,1620.6h0M988.0,1622.0h0M988.3,1620.8h0M988.5,1620.7h0M988.7,1623.3h0M988.9,1619.0h0M989.1,1622.2h0M989.3,1623.4h0M989.6,1619.8h0M989.8,1619.3h0M990.0,1623.1h0M990.2,1622.8h0M990.4,1624.1h0M990.6,1624.6h0M990.9,1621.9h0M991.1,1624.6h0M991.3,1626.6h0M991.5,1623.8h0M991.7,1624.3h0M991.9,1622.8h0M992.1,1627.3h0M992.4,1630.1h0M992.6,1623.3h0M992.8,1628.2h0M993.0,1628.8h0M993.2,1626.0h0M993.4,1626.7h0M993.6,1625.4h0M993.9,1626.2h0M994.1,1628.4h0M994.3,1629.7h0M994.5,1628.8h0M994.7,1630.6h0M994.9,1629.4h0M995.1,1626.6h0M995.3,1632.5h0M995.5,1632.1h0M995.8,1628.2h0M996.0,1633.8h0M996.2,1631.2h0M996.4,1630.7h0M996.6,1634.7h0M996.8,1625.5h0M997.0,1627.6h0M997.2,1632.8h0M997.4,1630.9h0M997.6,1629.6h0M997.8,1635.1h0M998.0,1633.1h0M998.3,1629.5h0M998.5,1631.1h0M998.7,1634.5h0M998.9,1636.7h0M999.1,1628.8h0M999.3,1633.8h0M999.5,1632.7h0M999.7,1630.0h0M999.9,1633.6h0M1000.1,1630.7h0M1000.3,1633.2h0M1000.5,1638.0h0M1000.7,1635.8h0M1000.9,1636.6h0M1001.1,1636.4h0M1001.3,1636.1h0M1001.5,1637.6h0M1001.7,1633.2h0M1001.9,1635.2h0M1002.1,1638.0h0M1002.3,1634.8h0M1002.6,1635.6h0M1002.8,1639.3h0M1003.0,1640.3h0M1003.2,1635.9h0M1003.4,1635.6h0M1003.6,1638.8h0M1003.8,1638.3h0M1004.0,1636.5h0M1004.2,1639.4h0M1004.4,1639.6h0M1004.6,1638.7h0M1004.8,1645.1h0M1005.0,1641.9h0M1005.2,1640.9h0M1005.4,1641.6h0M1005.6,1645.9h0M1005.8,1642.1h0M1006.0,1638.4h0M1006.2,1640.8h0M1006.4,1640.5h0M1006.6,1639.3h0M1006.8,1641.3h0M1007.0,1641.5h0M1007.1,1641.0h0M1007.3,1640.3h0M1007.5,1643.3h0M1007.7,1638.2h0M1007.9,1643.6h0M1008.1,1642.0h0M1008.3,1642.7h0M1008.5,1637.1h0M1008.7,1646.0h0M1008.9,1638.8h0M1009.1,1640.8h0M1009.3,1644.2h0M1009.5,1641.7h0M1009.7,1642.3h0M1009.9,1638.5h0M1010.1,1642.5h0M1010.3,1644.0h0M1010.5,1645.2h0M1010.7,1643.3h0M1010.9,1644.5h0M1011.1,1645.1h0M1011.2,1642.9h0M1011.4,1642.9h0M1011.6,1648.9h0M1011.8,1643.0h0M1012.0,1647.6h0M1012.2,1645.2h0M1012.4,1648.4h0M1012.6,1644.0h0M1012.8,1646.6h0M1013.0,1646.4h0M1013.2,1645.3h0M1013.4,1646.6h0M1013.6,1644.5h0M1013.7,1646.1h0M1013.9,1645.6h0M1014.1,1648.2h0M1014.3,1646.5h0M1014.5,1643.9h0M1014.7,1646.2h0M1014.9,1646.9h0M1015.1,1645.3h0M1015.3,1650.3h0M1015.4,1648.5h0M1015.6,1649.5h0M1015.8,1646.2h0M1016.0,1647.2h0M1016.2,1650.3h0M1016.4,1645.2h0M1016.6,1649.3h0M1016.8,1648.8h0M1017.0,1647.7h0M1017.1,1649.1h0M1017.3,1646.7h0M1017.5,1649.7h0M1017.7,1646.7h0M1017.9,1646.7h0M1018.1,1652.6h0M1018.3,1648.2h0M1018.4,1645.3h0M1018.6,1652.1h0M1018.8,1648.5h0M1019.0,1642.7h0" fill="none" stroke="#0000ff" stroke-width="10.0" stroke-linecap="round"/>
<path d="M165,1475 L180.3,1459.8 L195.5,1447.1 L210.7,1454.7 L220.9,1458.5 L233.6,1468.7 L243.7,1459.8 L256.4,1451.7 L266.5,1458.5 L276.7,1472.5 L286.8,1473.8 L297,1463.6 L309.7,1461.1 L322.4,1470 L337.6,1487.7 L347.7,1487.2 L363,1477.6 L373.1,1472.5 L383.2,1460.3 L390.8,1468.7 L398.5,1482.6 L408.6,1481.4 L415,1485.2 L430.2,1470 L445.4,1487.7 L460.7,1489.8 L470.8,1480.1 L481,1485.2 L488.6,1485.2 L496.2,1468.7 L503.8,1476.3 L512.7,1463.6 L524.1,1482.6 L534.2,1469.5 L546.9,1471.2 L557.1,1464.9 L567.2,1461.1 L579.9,1456 L592.6,1454.7 L595.1,1466.2 L600,1456 L605.3,1464.9 L618,1457.3 L630.6,1462.4 L643.3,1464.9 L656,1462.4 L657.5,1575 L660,1575 L661,1470 L663,1550 L665,1550 L666,1458.5 L670,1457.3 L682.7,1452.2 L695.4,1460.3 L703,1463.7 L713.1,1456.3 L720.7,1457.7 L733.4,1455.2 L746.1,1450.1 L758.8,1447.6 L771.5,1445.1 L784.2,1441.3 L796.8,1440 L809.5,1442.5 L822.2,1448.9 L834.9,1457.9 L847.6,1466.3 L860.3,1476.5 L872.9,1486.6 L880,1493.5 L894.1,1507.7 L908.3,1523.2 L915,1529 L917.1,1499.3 L919,1548.9 L922.4,1540.5 L936.6,1562.3 L950.7,1586.5 L964.9,1607.7 L979,1628.9 L993.2,1650.1 L1007.3,1672.8 L1020,1677" fill="none" stroke="#ff0000" stroke-width="8.2" stroke-linejoin="round" stroke-linecap="butt"/>
<path d="M166.3,1473.7h0M183.9,1456.8h0M200.1,1449.4h0M214.9,1456.3h0M228.6,1464.7h0M241.4,1461.8h0M253.3,1453.7h0M264.6,1457.2h0M275.1,1470.4h0M285.1,1473.6h0M294.6,1466.0h0M303.7,1462.3h0M312.3,1462.9h0M320.5,1468.7h0M328.4,1477.0h0M336.0,1485.8h0M343.2,1487.4h0M350.2,1485.6h0M356.9,1481.4h0M363.4,1477.4h0M369.7,1474.2h0M375.8,1469.2h0M381.7,1462.1h0M387.4,1464.9h0M392.9,1472.5h0M398.3,1482.2h0M403.5,1482.0h0M408.6,1481.4h0M413.5,1484.3h0M418.3,1481.9h0M423.0,1477.2h0M427.6,1472.6h0M432.0,1471.7h0M436.4,1477.9h0M440.6,1482.7h0M444.8,1485.8h0M448.9,1490.0h0M452.8,1488.5h0M456.7,1487.3h0M460.6,1491.5h0M464.3,1488.2h0M468.0,1484.4h0M471.6,1481.2h0M475.1,1481.2h0M478.6,1485.2h0M482.0,1487.7h0M485.3,1486.3h0M488.6,1487.4h0M491.8,1477.3h0M495.0,1472.9h0M498.1,1471.9h0M501.1,1471.6h0M504.1,1473.6h0M507.1,1470.6h0M510.0,1467.6h0M512.9,1464.7h0M515.7,1468.4h0M518.5,1473.2h0M521.2,1477.7h0M523.9,1482.6h0M526.6,1480.3h0M529.2,1476.8h0M531.8,1472.6h0M534.4,1470.0h0M536.9,1469.2h0M539.4,1471.6h0M541.8,1469.8h0M544.3,1473.7h0M546.6,1471.2h0M549.0,1470.5h0M551.3,1467.3h0M553.6,1466.5h0M555.9,1466.0h0M558.1,1464.6h0M560.4,1462.7h0M562.6,1460.9h0M564.7,1462.2h0M566.9,1461.6h0M569.0,1461.5h0M571.1,1461.9h0M573.1,1458.2h0M575.2,1454.3h0M577.2,1456.9h0M579.2,1452.9h0M581.2,1453.5h0M583.2,1457.7h0M585.1,1456.7h0M587.0,1454.1h0M588.9,1454.0h0M590.8,1454.8h0M592.6,1451.6h0M594.5,1464.5h0M596.3,1463.1h0M598.1,1463.7h0M599.9,1454.2h0M601.7,1461.0h0M603.4,1460.5h0M605.2,1466.9h0M606.9,1462.0h0M608.6,1464.5h0M610.3,1461.1h0M612.0,1459.3h0M613.6,1459.7h0M615.3,1460.0h0M616.9,1458.9h0M618.5,1461.0h0M620.1,1460.0h0M621.7,1453.3h0M623.3,1458.7h0M624.9,1455.9h0M626.4,1460.0h0M627.9,1462.8h0M629.5,1459.1h0M631.0,1460.0h0M632.5,1463.2h0M634.0,1462.6h0M635.4,1466.9h0M636.9,1464.5h0M638.4,1465.2h0M639.8,1468.2h0M641.2,1463.5h0M642.6,1464.9h0M644.1,1462.7h0M645.5,1465.2h0M646.8,1466.6h0M648.2,1467.1h0M649.6,1463.7h0M650.9,1462.0h0M652.3,1461.6h0M653.6,1459.9h0M655.0,1463.0h0M656.3,1485.7h0M657.6,1569.9h0M658.9,1570.4h0M660.2,1560.6h0M661.4,1484.6h0M662.7,1539.7h0M664.0,1547.4h0M665.2,1529.8h0M666.5,1460.2h0M667.7,1458.5h0M669.0,1459.6h0M670.2,1457.5h0M671.4,1458.1h0M672.6,1460.4h0M673.8,1458.3h0M675.0,1454.0h0M676.2,1453.2h0M677.3,1454.0h0M678.5,1453.5h0M679.7,1453.7h0M680.8,1451.8h0M682.0,1454.1h0M683.1,1452.7h0M684.2,1454.1h0M685.4,1454.1h0M686.5,1456.1h0M687.6,1452.8h0M688.7,1459.7h0M689.8,1457.6h0M690.9,1458.6h0M692.0,1459.6h0M693.1,1461.3h0M694.1,1461.3h0M695.2,1460.9h0M696.3,1460.4h0M697.3,1457.7h0M698.4,1462.3h0M699.4,1461.6h0M700.5,1462.0h0M701.5,1468.5h0M702.5,1459.6h0M703.5,1463.6h0M704.5,1465.4h0M705.6,1464.1h0M706.6,1464.0h0M707.6,1457.7h0M708.5,1457.7h0M709.5,1460.4h0M710.5,1457.7h0M711.5,1461.4h0M712.5,1457.4h0M713.4,1457.0h0M714.4,1457.7h0M715.4,1456.3h0M716.3,1457.3h0M717.3,1455.8h0M718.2,1457.3h0M719.1,1456.5h0M720.1,1458.3h0M721.0,1454.7h0M721.9,1454.4h0M722.8,1458.5h0M723.8,1457.8h0M724.7,1455.0h0M725.6,1456.4h0M726.5,1454.4h0M727.4,1461.1h0M728.3,1453.0h0M729.1,1460.0h0M730.0,1454.2h0M730.9,1456.8h0M731.8,1455.1h0M732.7,1454.7h0M733.5,1457.4h0M734.4,1456.8h0M735.2,1454.0h0M736.1,1452.3h0M737.0,1458.5h0M737.8,1456.7h0M738.6,1453.6h0M739.5,1452.3h0M740.3,1453.3h0M741.1,1452.5h0M742.0,1454.6h0M742.8,1449.5h0M743.6,1451.3h0M744.4,1449.2h0M745.3,1453.5h0M746.1,1454.3h0M746.9,1449.9h0M747.7,1451.2h0M748.5,1452.9h0M749.3,1449.0h0M750.1,1447.5h0M750.9,1451.6h0M751.6,1450.3h0M752.4,1448.6h0M753.2,1452.1h0M754.0,1449.3h0M754.8,1444.7h0M755.5,1449.2h0M756.3,1448.2h0M757.1,1452.3h0M757.8,1448.0h0M758.6,1447.4h0M759.3,1448.7h0M760.1,1448.1h0M760.8,1444.3h0M761.6,1447.5h0M762.3,1446.4h0M763.1,1450.1h0M763.8,1452.1h0M764.5,1444.2h0M765.3,1444.4h0M766.0,1444.5h0M766.7,1444.8h0M767.4,1444.6h0M768.1,1446.1h0M768.9,1448.2h0M769.6,1442.8h0M770.3,1442.2h0M771.0,1441.4h0M771.7,1447.7h0M772.4,1448.0h0M773.1,1441.4h0M773.8,1441.0h0M774.5,1444.7h0M775.2,1446.6h0M775.9,1446.2h0M776.6,1444.2h0M777.2,1445.1h0M777.9,1444.1h0M778.6,1442.0h0M779.3,1447.2h0M780.0,1442.8h0M780.6,1440.1h0M781.3,1441.3h0M782.0,1438.8h0M782.6,1442.0h0M783.3,1444.2h0M784.0,1438.8h0M784.6,1443.9h0M785.3,1446.0h0M785.9,1442.2h0M786.6,1438.7h0M787.2,1439.3h0M787.9,1440.4h0M788.5,1438.2h0M789.2,1438.2h0M789.8,1440.4h0M790.4,1440.5h0M791.1,1442.1h0M791.7,1438.1h0M792.3,1444.8h0M793.0,1442.9h0M793.6,1442.5h0M794.2,1439.0h0M794.8,1444.2h0M795.5,1439.6h0M796.1,1444.3h0M796.7,1442.6h0M797.3,1438.3h0M797.9,1439.4h0M798.5,1444.7h0M799.1,1442.9h0M799.7,1440.4h0M800.3,1441.4h0M800.9,1441.5h0M801.5,1439.4h0M802.1,1440.8h0M802.7,1439.9h0M803.3,1440.6h0M803.9,1442.6h0M804.5,1439.6h0M805.1,1443.4h0M805.7,1442.2h0M806.3,1443.8h0M806.9,1444.1h0M807.4,1445.0h0M808.0,1443.8h0M808.6,1444.1h0M809.2,1442.2h0M809.7,1444.1h0M810.3,1441.1h0M810.9,1442.9h0M811.5,1445.3h0M812.0,1443.9h0M812.6,1445.3h0M813.2,1442.2h0M813.7,1447.8h0M814.3,1443.8h0M814.8,1446.3h0M815.4,1445.6h0M815.9,1448.0h0M816.5,1445.4h0M817.1,1444.3h0M817.6,1442.6h0M818.2,1446.4h0M818.7,1444.7h0M819.2,1448.8h0M819.8,1451.1h0M820.3,1443.3h0M820.9,1445.6h0M821.4,1449.4h0M821.9,1451.7h0M822.5,1450.0h0M823.0,1450.4h0M823.6,1451.2h0M824.1,1451.7h0M824.6,1454.4h0M825.1,1452.5h0M825.7,1448.8h0M826.2,1450.9h0M826.7,1452.8h0M827.2,1450.9h0M827.8,1452.5h0M828.3,1452.3h0M828.8,1452.2h0M829.3,1455.7h0M829.8,1453.7h0M830.3,1452.5h0M830.9,1453.7h0M831.4,1455.7h0M831.9,1460.6h0M832.4,1456.9h0M832.9,1460.0h0M833.4,1458.1h0M833.9,1452.6h0M834.4,1458.6h0M834.9,1456.2h0M835.4,1455.4h0M835.9,1456.4h0M836.4,1463.1h0M836.9,1455.9h0M837.4,1458.4h0M837.9,1462.6h0M838.4,1461.9h0M838.9,1456.9h0M839.4,1460.8h0M839.8,1460.2h0M840.3,1461.3h0M840.8,1463.7h0M841.3,1461.1h0M841.8,1461.9h0M842.3,1466.2h0M842.7,1459.2h0M843.2,1462.8h0M843.7,1465.0h0M844.2,1461.5h0M844.7,1463.2h0M845.1,1462.0h0M845.6,1465.5h0M846.1,1464.1h0M846.5,1467.5h0M847.0,1468.4h0M847.5,1466.5h0M847.9,1465.9h0M848.4,1467.7h0M848.9,1467.7h0M849.3,1465.2h0M849.8,1470.6h0M850.3,1469.1h0M850.7,1470.8h0M851.2,1466.4h0M851.6,1471.7h0M852.1,1474.8h0M852.6,1471.8h0M853.0,1467.6h0M853.5,1471.3h0M853.9,1471.4h0M854.4,1472.4h0M854.8,1471.8h0M855.3,1473.7h0M855.7,1472.0h0M856.2,1473.9h0M856.6,1472.2h0M857.0,1474.3h0M857.5,1476.6h0M857.9,1473.7h0M858.4,1476.6h0M858.8,1473.5h0M859.3,1475.0h0M859.7,1475.7h0M860.1,1479.3h0M860.6,1475.2h0M861.0,1480.0h0M861.4,1474.3h0M861.9,1477.6h0M862.3,1480.3h0M862.7,1480.2h0M863.2,1476.7h0M863.6,1476.6h0M864.0,1481.6h0M864.4,1477.2h0M864.9,1481.6h0M865.3,1479.5h0M865.7,1481.0h0M866.1,1486.5h0M866.6,1485.2h0M867.0,1483.9h0M867.4,1479.3h0M867.8,1483.4h0M868.2,1483.2h0M868.7,1483.2h0M869.1,1486.7h0M869.5,1480.2h0M869.9,1485.1h0M870.3,1485.0h0M870.7,1483.4h0M871.1,1489.2h0M871.6,1482.9h0M872.0,1486.1h0M872.4,1486.5h0M872.8,1481.8h0M873.2,1483.9h0M873.6,1485.3h0M874.0,1489.6h0M874.4,1490.4h0M874.8,1490.0h0M875.2,1489.6h0M875.6,1484.5h0M876.0,1490.3h0M876.4,1489.1h0M876.8,1493.2h0M877.2,1494.0h0M877.6,1496.3h0M878.0,1493.3h0M878.4,1493.9h0M878.8,1490.2h0M879.2,1493.1h0M879.6,1490.5h0M880.0,1495.7h0M880.4,1491.4h0M880.8,1494.0h0M881.2,1493.0h0M881.5,1494.2h0M881.9,1496.6h0M882.3,1494.8h0M882.7,1496.9h0M883.1,1494.6h0M883.5,1500.3h0M883.9,1496.1h0M884.3,1500.2h0M884.6,1503.1h0M885.0,1493.3h0M885.4,1496.9h0M885.8,1499.0h0M886.2,1502.5h0M886.5,1499.2h0M886.9,1501.5h0M887.3,1499.4h0M887.7,1502.6h0M888.0,1499.1h0M888.4,1504.0h0M888.8,1495.8h0M889.2,1498.7h0M889.5,1507.3h0M889.9,1504.0h0M890.3,1502.0h0M890.7,1509.3h0M891.0,1507.1h0M891.4,1507.7h0M891.8,1504.6h0M892.1,1507.3h0M892.5,1507.4h0M892.9,1502.9h0M893.2,1508.3h0M893.6,1506.9h0M894.0,1510.6h0M894.3,1511.0h0M894.7,1507.1h0M895.0,1507.5h0M895.4,1509.7h0M895.8,1511.1h0M896.1,1509.1h0M896.5,1510.2h0M896.8,1512.2h0M897.2,1512.2h0M897.6,1514.2h0M897.9,1512.6h0M898.3,1510.4h0M898.6,1508.8h0M899.0,1515.0h0M899.3,1512.8h0M899.7,1513.2h0M900.0,1513.7h0M900.4,1511.2h0M900.7,1514.2h0M901.1,1509.6h0M901.4,1515.0h0M901.8,1514.2h0M902.1,1520.8h0M902.5,1518.0h0M902.8,1516.9h0M903.2,1518.1h0M903.5,1519.8h0M903.9,1516.8h0M904.2,1518.4h0M904.6,1518.5h0M904.9,1525.2h0M905.2,1520.2h0M905.6,1516.0h0M905.9,1522.6h0M906.3,1527.0h0M906.6,1519.3h0M907.0,1529.7h0M907.3,1522.1h0M907.6,1524.9h0M908.0,1521.7h0M908.3,1522.7h0M908.6,1520.9h0M909.0,1521.5h0M909.3,1519.4h0M909.6,1527.1h0M910.0,1522.2h0M910.3,1525.9h0M910.6,1526.1h0M911.0,1524.2h0M911.3,1526.1h0M911.6,1526.0h0M912.0,1525.4h0M912.3,1526.9h0M912.6,1527.2h0M913.0,1525.1h0M913.3,1524.7h0M913.6,1526.0h0M913.9,1528.5h0M914.3,1531.6h0M914.6,1532.1h0M914.9,1529.8h0M915.2,1527.9h0M915.6,1521.4h0M915.9,1519.1h0M916.2,1512.3h0M916.5,1508.3h0M916.9,1502.2h0M917.2,1501.4h0M917.5,1514.1h0M917.8,1515.5h0M918.1,1526.5h0M918.5,1533.5h0M918.8,1545.3h0M919.1,1552.9h0M919.4,1547.3h0M919.7,1540.9h0M920.0,1547.8h0M920.4,1547.1h0M920.7,1541.1h0M921.0,1543.6h0M921.3,1543.2h0M921.6,1537.3h0M921.9,1543.3h0M922.2,1542.0h0M922.6,1541.4h0M922.9,1538.9h0M923.2,1540.2h0M923.5,1540.8h0M923.8,1543.9h0M924.1,1541.0h0M924.4,1547.0h0M924.7,1545.0h0M925.0,1539.7h0M925.3,1549.0h0M925.6,1546.0h0M926.0,1544.8h0M926.3,1546.8h0M926.6,1542.8h0M926.9,1547.9h0M927.2,1542.3h0M927.5,1546.1h0M927.8,1552.0h0M928.1,1552.2h0M928.4,1549.0h0M928.7,1548.1h0M929.0,1552.9h0M929.3,1551.1h0M929.6,1552.1h0M929.9,1553.5h0M930.2,1550.1h0M930.5,1554.8h0M930.8,1548.6h0M931.1,1557.3h0M931.4,1550.8h0M931.7,1553.4h0M932.0,1553.8h0M932.3,1557.4h0M932.6,1557.9h0M932.9,1557.5h0M933.2,1558.4h0M933.4,1558.6h0M933.7,1557.8h0M934.0,1554.1h0M934.3,1553.6h0M934.6,1554.1h0M934.9,1559.7h0M935.2,1559.7h0M935.5,1560.4h0M935.8,1561.7h0M936.1,1561.0h0M936.4,1559.7h0M936.7,1559.0h0M936.9,1558.6h0M937.2,1566.3h0M937.5,1566.0h0M937.8,1561.3h0M938.1,1564.3h0M938.4,1566.4h0M938.7,1569.6h0M939.0,1565.0h0M939.2,1567.3h0M939.5,1570.0h0M939.8,1563.9h0M940.1,1566.7h0M940.4,1568.8h0M940.7,1567.7h0M940.9,1574.7h0M941.2,1572.3h0M941.5,1571.2h0M941.8,1569.1h0M942.1,1573.7h0M942.3,1573.7h0M942.6,1571.5h0M942.9,1572.2h0M943.2,1570.3h0M943.5,1574.0h0M943.7,1576.6h0M944.0,1577.4h0M944.3,1576.9h0M944.6,1577.9h0M944.8,1575.2h0M945.1,1575.9h0M945.4,1580.2h0M945.7,1579.0h0M945.9,1576.6h0M946.2,1580.0h0M946.5,1581.3h0M946.8,1581.4h0M947.0,1580.5h0M947.3,1579.6h0M947.6,1582.1h0M947.9,1585.6h0M948.1,1582.5h0M948.4,1581.1h0M948.7,1583.9h0M948.9,1580.7h0M949.2,1584.5h0M949.5,1583.8h0M949.8,1587.1h0M950.0,1585.6h0M950.3,1588.3h0M950.6,1591.6h0M950.8,1586.3h0M951.1,1585.2h0M951.4,1588.6h0M951.6,1587.7h0M951.9,1588.7h0M952.2,1587.4h0M952.4,1590.4h0M952.7,1589.7h0M953.0,1585.0h0M953.2,1589.8h0M953.5,1591.5h0M953.7,1593.8h0M954.0,1590.2h0M954.3,1590.1h0M954.5,1594.9h0M954.8,1591.3h0M955.1,1593.3h0M955.3,1594.5h0M955.6,1595.5h0M955.8,1594.2h0M956.1,1592.1h0M956.4,1597.3h0M956.6,1594.4h0M956.9,1594.6h0M957.1,1600.8h0M957.4,1598.6h0M957.7,1594.5h0M957.9,1596.2h0M958.2,1597.1h0M958.4,1596.4h0M958.7,1594.1h0M958.9,1600.7h0M959.2,1601.0h0M959.5,1600.2h0M959.7,1599.1h0M960.0,1600.9h0M960.2,1602.2h0M960.5,1598.8h0M960.7,1600.8h0M961.0,1600.6h0M961.2,1603.9h0M961.5,1603.2h0M961.7,1600.1h0M962.0,1602.0h0M962.2,1607.8h0M962.5,1601.9h0M962.7,1604.9h0M963.0,1603.5h0M963.2,1608.1h0M963.5,1605.5h0M963.7,1605.0h0M964.0,1603.7h0M964.2,1606.2h0M964.5,1609.0h0M964.7,1609.0h0M965.0,1604.9h0M965.2,1611.8h0M965.5,1608.1h0M965.7,1606.6h0M966.0,1609.6h0M966.2,1608.3h0M966.5,1608.8h0M966.7,1609.0h0M967.0,1610.6h0M967.2,1610.1h0M967.5,1607.7h0M967.7,1613.1h0M967.9,1611.1h0M968.2,1615.4h0M968.4,1614.3h0M968.7,1614.8h0M968.9,1614.2h0M969.2,1617.1h0M969.4,1613.7h0M969.6,1612.6h0M969.9,1616.0h0M970.1,1609.4h0M970.4,1615.1h0M970.6,1616.8h0M970.8,1615.7h0M971.1,1619.9h0M971.3,1619.0h0M971.6,1618.0h0M971.8,1617.2h0M972.0,1621.0h0M972.3,1617.3h0M972.5,1618.2h0M972.8,1621.2h0M973.0,1621.2h0M973.2,1624.9h0M973.5,1620.1h0M973.7,1616.7h0M973.9,1622.8h0M974.2,1624.5h0M974.4,1621.6h0M974.6,1625.9h0M974.9,1626.8h0M975.1,1621.6h0M975.4,1622.3h0M975.6,1620.9h0M975.8,1625.4h0M976.1,1626.1h0M976.3,1626.2h0M976.5,1622.4h0M976.8,1623.8h0M977.0,1622.6h0M977.2,1622.6h0M977.5,1623.5h0M977.7,1623.3h0M977.9,1626.9h0M978.1,1628.6h0M978.4,1629.4h0M978.6,1628.3h0M978.8,1627.1h0M979.1,1629.0h0M979.3,1630.6h0M979.5,1629.0h0M979.8,1630.2h0M980.0,1629.7h0M980.2,1629.5h0M980.4,1631.1h0M980.7,1628.9h0M980.9,1634.1h0M981.1,1628.5h0M981.3,1633.5h0M981.6,1629.7h0M981.8,1636.5h0M982.0,1635.4h0M982.3,1631.9h0M982.5,1633.1h0M982.7,1631.9h0M982.9,1634.6h0M983.2,1636.0h0M983.4,1641.2h0M983.6,1632.7h0M983.8,1638.9h0M984.1,1635.1h0M984.3,1637.4h0M984.5,1639.1h0M984.7,1638.7h0M984.9,1638.7h0M985.2,1637.7h0M985.4,1638.4h0M985.6,1639.1h0M985.8,1641.8h0M986.1,1636.1h0M986.3,1638.6h0M986.5,1637.3h0M986.7,1638.2h0M986.9,1638.9h0M987.2,1643.6h0M987.4,1646.3h0M987.6,1644.8h0M987.8,1639.4h0M988.0,1642.6h0M988.3,1640.1h0M988.5,1644.0h0M988.7,1646.2h0M988.9,1645.0h0M989.1,1646.0h0M989.3,1644.0h0M989.6,1640.2h0M989.8,1640.5h0M990.0,1645.1h0M990.2,1646.9h0M990.4,1648.8h0M990.6,1645.5h0M990.9,1646.8h0M991.1,1647.5h0M991.3,1649.6h0M991.5,1647.4h0M991.7,1645.4h0M991.9,1650.7h0M992.1,1649.5h0M992.4,1649.7h0M992.6,1646.3h0M992.8,1649.5h0M993.0,1645.9h0M993.2,1645.6h0M993.4,1649.9h0M993.6,1649.8h0M993.9,1652.4h0M994.1,1654.7h0M994.3,1651.8h0M994.5,1656.2h0M994.7,1651.2h0M994.9,1654.6h0M995.1,1650.3h0M995.3,1653.8h0M995.5,1653.2h0M995.8,1653.7h0M996.0,1655.9h0M996.2,1650.6h0M996.4,1655.5h0M996.6,1653.7h0M996.8,1656.2h0M997.0,1657.1h0M997.2,1655.7h0M997.4,1656.1h0M997.6,1654.6h0M997.8,1658.8h0M998.0,1656.4h0M998.3,1659.2h0M998.5,1655.3h0M998.7,1662.0h0M998.9,1656.9h0M999.1,1662.2h0M999.3,1658.9h0M999.5,1661.5h0M999.7,1660.2h0M999.9,1662.4h0M1000.1,1661.2h0M1000.3,1664.4h0M1000.5,1663.4h0M1000.7,1663.7h0M1000.9,1666.3h0M1001.1,1661.3h0M1001.3,1666.1h0M1001.5,1663.7h0M1001.7,1660.5h0M1001.9,1665.3h0M1002.1,1664.0h0M1002.3,1668.6h0M1002.6,1664.0h0M1002.8,1665.6h0M1003.0,1666.3h0M1003.2,1661.8h0M1003.4,1667.6h0M1003.6,1664.5h0M1003.8,1670.3h0M1004.0,1671.2h0M1004.2,1667.7h0M1004.4,1664.5h0M1004.6,1668.8h0M1004.8,1669.1h0M1005.0,1670.7h0M1005.2,1668.7h0M1005.4,1667.0h0M1005.6,1669.7h0M1005.8,1668.2h0M1006.0,1674.6h0M1006.2,1669.4h0M1006.4,1669.8h0M1006.6,1671.5h0M1006.8,1669.1h0M1007.0,1671.2h0M1007.1,1672.3h0M1007.3,1671.7h0M1007.5,1672.3h0M1007.7,1675.7h0M1007.9,1674.0h0M1008.1,1670.1h0M1008.3,1672.2h0M1008.5,1674.9h0M1008.7,1671.8h0M1008.9,1673.5h0M1009.1,1673.3h0M1009.3,1674.7h0M1009.5,1673.1h0M1009.7,1673.3h0M1009.9,1671.7h0M1010.1,1674.5h0M1010.3,1671.7h0M1010.5,1677.8h0M1010.7,1673.9h0M1010.9,1673.5h0M1011.1,1675.8h0M1011.2,1673.9h0M1011.4,1674.4h0M1011.6,1674.1h0M1011.8,1672.7h0M1012.0,1672.3h0M1012.2,1672.8h0M1012.4,1677.0h0M1012.6,1673.1h0M1012.8,1673.7h0M1013.0,1673.7h0M1013.2,1676.3h0M1013.4,1679.3h0M1013.6,1672.8h0M1013.7,1676.2h0M1013.9,1675.3h0M1014.1,1674.4h0M1014.3,1676.3h0M1014.5,1672.3h0M1014.7,1677.1h0M1014.9,1675.8h0M1015.1,1673.1h0M1015.3,1679.0h0M1015.4,1677.4h0M1015.6,1678.2h0M1015.8,1672.3h0M1016.0,1675.1h0M1016.2,1674.6h0M1016.4,1677.2h0M1016.6,1678.9h0M1016.8,1671.6h0M1017.0,1676.0h0M1017.1,1675.8h0M1017.3,1678.4h0M1017.5,1676.1h0M1017.7,1673.4h0M1017.9,1675.9h0M1018.1,1674.0h0M1018.3,1674.7h0M1018.4,1676.6h0M1018.6,1675.5h0M1018.8,1677.2h0M1019.0,1673.3h0" fill="none" stroke="#ff0000" stroke-width="10.0" stroke-linecap="round"/>
</g>
<line x1="166.3" y1="1761.61" x2="171.8" y2="1761.61" class="tk"/>
<line x1="1013.5" y1="1761.61" x2="1019" y2="1761.61" class="tk"/>
<line x1="166.3" y1="1735.64" x2="171.8" y2="1735.64" class="tk"/>
<line x1="1013.5" y1="1735.64" x2="1019" y2="1735.64" class="tk"/>
<line x1="166.3" y1="1717.21" x2="171.8" y2="1717.21" class="tk"/>
<line x1="1013.5" y1="1717.21" x2="1019" y2="1717.21" class="tk"/>
<line x1="166.3" y1="1702.92" x2="171.8" y2="1702.92" class="tk"/>
<line x1="1013.5" y1="1702.92" x2="1019" y2="1702.92" class="tk"/>
<line x1="166.3" y1="1691.24" x2="171.8" y2="1691.24" class="tk"/>
<line x1="1013.5" y1="1691.24" x2="1019" y2="1691.24" class="tk"/>
<line x1="166.3" y1="1681.37" x2="171.8" y2="1681.37" class="tk"/>
<line x1="1013.5" y1="1681.37" x2="1019" y2="1681.37" class="tk"/>
<line x1="166.3" y1="1672.82" x2="171.8" y2="1672.82" class="tk"/>
<line x1="1013.5" y1="1672.82" x2="1019" y2="1672.82" class="tk"/>
<line x1="166.3" y1="1665.27" x2="171.8" y2="1665.27" class="tk"/>
<line x1="1013.5" y1="1665.27" x2="1019" y2="1665.27" class="tk"/>
<line x1="166.3" y1="1614.13" x2="171.8" y2="1614.13" class="tk"/>
<line x1="1013.5" y1="1614.13" x2="1019" y2="1614.13" class="tk"/>
<line x1="166.3" y1="1588.16" x2="171.8" y2="1588.16" class="tk"/>
<line x1="1013.5" y1="1588.16" x2="1019" y2="1588.16" class="tk"/>
<line x1="166.3" y1="1569.74" x2="171.8" y2="1569.74" class="tk"/>
<line x1="1013.5" y1="1569.74" x2="1019" y2="1569.74" class="tk"/>
<line x1="166.3" y1="1555.45" x2="171.8" y2="1555.45" class="tk"/>
<line x1="1013.5" y1="1555.45" x2="1019" y2="1555.45" class="tk"/>
<line x1="166.3" y1="1543.77" x2="171.8" y2="1543.77" class="tk"/>
<line x1="1013.5" y1="1543.77" x2="1019" y2="1543.77" class="tk"/>
<line x1="166.3" y1="1533.9" x2="171.8" y2="1533.9" class="tk"/>
<line x1="1013.5" y1="1533.9" x2="1019" y2="1533.9" class="tk"/>
<line x1="166.3" y1="1525.34" x2="171.8" y2="1525.34" class="tk"/>
<line x1="1013.5" y1="1525.34" x2="1019" y2="1525.34" class="tk"/>
<line x1="166.3" y1="1517.8" x2="171.8" y2="1517.8" class="tk"/>
<line x1="1013.5" y1="1517.8" x2="1019" y2="1517.8" class="tk"/>
<line x1="166.3" y1="1511.05" x2="171.8" y2="1511.05" class="tk"/>
<line x1="1013.5" y1="1511.05" x2="1019" y2="1511.05" class="tk"/>
<line x1="166.3" y1="1466.66" x2="171.8" y2="1466.66" class="tk"/>
<line x1="1013.5" y1="1466.66" x2="1019" y2="1466.66" class="tk"/>
<line x1="166.3" y1="1440.69" x2="171.8" y2="1440.69" class="tk"/>
<line x1="1013.5" y1="1440.69" x2="1019" y2="1440.69" class="tk"/>
<line x1="166.3" y1="1422.27" x2="171.8" y2="1422.27" class="tk"/>
<line x1="1013.5" y1="1422.27" x2="1019" y2="1422.27" class="tk"/>
<line x1="166.3" y1="1407.97" x2="171.8" y2="1407.97" class="tk"/>
<line x1="1013.5" y1="1407.97" x2="1019" y2="1407.97" class="tk"/>
<line x1="166.3" y1="1396.3" x2="171.8" y2="1396.3" class="tk"/>
<line x1="1013.5" y1="1396.3" x2="1019" y2="1396.3" class="tk"/>
<line x1="166.3" y1="1386.42" x2="171.8" y2="1386.42" class="tk"/>
<line x1="1013.5" y1="1386.42" x2="1019" y2="1386.42" class="tk"/>
<line x1="166.3" y1="1377.87" x2="171.8" y2="1377.87" class="tk"/>
<line x1="1013.5" y1="1377.87" x2="1019" y2="1377.87" class="tk"/>
<line x1="166.3" y1="1370.33" x2="171.8" y2="1370.33" class="tk"/>
<line x1="1013.5" y1="1370.33" x2="1019" y2="1370.33" class="tk"/>
<line x1="166.3" y1="1319.19" x2="171.8" y2="1319.19" class="tk"/>
<line x1="1013.5" y1="1319.19" x2="1019" y2="1319.19" class="tk"/>
<line x1="166.3" y1="1293.22" x2="171.8" y2="1293.22" class="tk"/>
<line x1="1013.5" y1="1293.22" x2="1019" y2="1293.22" class="tk"/>
<line x1="166.3" y1="1274.79" x2="171.8" y2="1274.79" class="tk"/>
<line x1="1013.5" y1="1274.79" x2="1019" y2="1274.79" class="tk"/>
<line x1="166.3" y1="1658.53" x2="175.3" y2="1658.53" class="tk"/>
<line x1="1010" y1="1658.53" x2="1019" y2="1658.53" class="tk"/>
<line x1="166.3" y1="1363.58" x2="175.3" y2="1363.58" class="tk"/>
<line x1="1010" y1="1363.58" x2="1019" y2="1363.58" class="tk"/>
<line x1="200.06" y1="1806" x2="200.06" y2="1800.5" class="tk"/>
<line x1="200.06" y1="1260.5" x2="200.06" y2="1266" class="tk"/>
<line x1="228.6" y1="1806" x2="228.6" y2="1800.5" class="tk"/>
<line x1="228.6" y1="1260.5" x2="228.6" y2="1266" class="tk"/>
<line x1="253.33" y1="1806" x2="253.33" y2="1800.5" class="tk"/>
<line x1="253.33" y1="1260.5" x2="253.33" y2="1266" class="tk"/>
<line x1="275.14" y1="1806" x2="275.14" y2="1800.5" class="tk"/>
<line x1="275.14" y1="1260.5" x2="275.14" y2="1266" class="tk"/>
<line x1="422.99" y1="1806" x2="422.99" y2="1800.5" class="tk"/>
<line x1="422.99" y1="1260.5" x2="422.99" y2="1266" class="tk"/>
<line x1="498.06" y1="1806" x2="498.06" y2="1800.5" class="tk"/>
<line x1="498.06" y1="1260.5" x2="498.06" y2="1266" class="tk"/>
<line x1="551.33" y1="1806" x2="551.33" y2="1800.5" class="tk"/>
<line x1="551.33" y1="1260.5" x2="551.33" y2="1266" class="tk"/>
<line x1="592.65" y1="1806" x2="592.65" y2="1800.5" class="tk"/>
<line x1="592.65" y1="1260.5" x2="592.65" y2="1266" class="tk"/>
<line x1="626.41" y1="1806" x2="626.41" y2="1800.5" class="tk"/>
<line x1="626.41" y1="1260.5" x2="626.41" y2="1266" class="tk"/>
<line x1="654.95" y1="1806" x2="654.95" y2="1800.5" class="tk"/>
<line x1="654.95" y1="1260.5" x2="654.95" y2="1266" class="tk"/>
<line x1="679.68" y1="1806" x2="679.68" y2="1800.5" class="tk"/>
<line x1="679.68" y1="1260.5" x2="679.68" y2="1266" class="tk"/>
<line x1="701.49" y1="1806" x2="701.49" y2="1800.5" class="tk"/>
<line x1="701.49" y1="1260.5" x2="701.49" y2="1266" class="tk"/>
<line x1="849.34" y1="1806" x2="849.34" y2="1800.5" class="tk"/>
<line x1="849.34" y1="1260.5" x2="849.34" y2="1266" class="tk"/>
<line x1="924.41" y1="1806" x2="924.41" y2="1800.5" class="tk"/>
<line x1="924.41" y1="1260.5" x2="924.41" y2="1266" class="tk"/>
<line x1="977.68" y1="1806" x2="977.68" y2="1800.5" class="tk"/>
<line x1="977.68" y1="1260.5" x2="977.68" y2="1266" class="tk"/>
<line x1="294.64" y1="1806" x2="294.64" y2="1797" class="tk"/>
<line x1="294.64" y1="1260.5" x2="294.64" y2="1269.5" class="tk"/>
<line x1="720.99" y1="1806" x2="720.99" y2="1797" class="tk"/>
<line x1="720.99" y1="1260.5" x2="720.99" y2="1269.5" class="tk"/>
<rect x="166.3" y="1260.5" width="852.7" height="545.5" fill="none" stroke="#262626" stroke-width="2"/>
<text class="t" x="414" y="43.9" font-size="60" font-weight="bold" style="fill:#000" textLength="119.5" lengthAdjust="spacingAndGlyphs">t = 7</text>
<text class="t" x="622" y="43.9" font-size="60" font-weight="bold" style="fill:#000" textLength="131.5" lengthAdjust="spacingAndGlyphs">0.2 s</text>
<rect x="578.9" y="5.4" width="5.8" height="37.2" rx="1" fill="#000"/>
<line x1="561.8" y1="24.4" x2="601.3" y2="24.4" stroke="#000" stroke-width="2.6" stroke-linecap="round"/>
<line x1="561.8" y1="42.6" x2="601.3" y2="42.6" stroke="#000" stroke-width="2.7" stroke-linecap="round"/>
<text class="t" x="150.3" y="347.3" font-size="55.5" text-anchor="end" >2</text>
<text class="t" x="150.3" y="194.45" font-size="55.5" text-anchor="end" >3</text>
<text class="t" x="150.3" y="86" font-size="55.5" text-anchor="end" >4</text>
<path transform="translate(120.44,608.6) scale(55.5)" d="M0.361,0 L0.361,-0.688 L0.290,-0.688 C0.270,-0.610 0.215,-0.548 0.105,-0.540 L0.105,-0.476 L0.269,-0.476 L0.269,0 Z" fill="#262626"/>
<text class="t" x="154.8" y="860.3" font-size="55.5" text-anchor="end" >2</text>
<text class="t" x="154.8" y="728.45" font-size="55.5" text-anchor="end" >3</text>
<text class="t" x="154.8" y="634.9" font-size="55.5" text-anchor="end" >4</text>
<path transform="translate(124.94,1085.7) scale(55.5)" d="M0.361,0 L0.361,-0.688 L0.290,-0.688 C0.270,-0.610 0.215,-0.548 0.105,-0.540 L0.105,-0.476 L0.269,-0.476 L0.269,0 Z" fill="#262626"/>
<text class="t" x="173" y="1137.3" font-size="55.5" text-anchor="middle" >0.4</text>
<text class="t" x="339.54" y="1137.3" font-size="55.5" text-anchor="middle" >0.5</text>
<text class="t" x="506.08" y="1137.3" font-size="55.5" text-anchor="middle" >0.6</text>
<text class="t" x="672.62" y="1137.3" font-size="55.5" text-anchor="middle" >0.7</text>
<text class="t" x="839.16" y="1137.3" font-size="55.5" text-anchor="middle" >0.8</text>
<text class="t" x="898.8" y="146.1" font-size="64" text-anchor="middle" style="fill:#000" >(a)</text>
<text class="t" x="908.2" y="691" font-size="64" text-anchor="middle" style="fill:#000" >(b)</text>
<text class="t" x="874.3" y="1346.6" font-size="63" style="fill:#000;stroke:#000;stroke-width:0.7" textLength="72.6" lengthAdjust="spacingAndGlyphs">(c)</text>
<text class="t" x="500.6" y="1208" font-size="59" text-anchor="start" >r</text>
<text class="t" x="521.5" y="1234.8" font-size="48" text-anchor="start" >eff</text>
<text class="t" x="577.3" y="1208" font-size="59" text-anchor="start" >/a</text>
<text class="t" x="629.2" y="1234.8" font-size="48" text-anchor="start" >99</text>
<path transform="translate(44.45,1392.7) scale(55)" d="M0.361,0 L0.361,-0.688 L0.290,-0.688 C0.270,-0.610 0.215,-0.548 0.105,-0.540 L0.105,-0.476 L0.269,-0.476 L0.269,0 Z" fill="#262626"/>
<text class="t" x="75.05" y="1392.7" font-size="55" text-anchor="start" >0</text>
<text class="t" x="107.1" y="1366" font-size="44" text-anchor="start" >-4</text>
<path transform="translate(44.45,1688) scale(55)" d="M0.361,0 L0.361,-0.688 L0.290,-0.688 C0.270,-0.610 0.215,-0.548 0.105,-0.540 L0.105,-0.476 L0.269,-0.476 L0.269,0 Z" fill="#262626"/>
<text class="t" x="75.05" y="1688" font-size="55" text-anchor="start" >0</text>
<text class="t" x="107.1" y="1661.6" font-size="44" text-anchor="start" >-6</text>
<path transform="translate(248.1,1892.7) scale(55)" d="M0.361,0 L0.361,-0.688 L0.290,-0.688 C0.270,-0.610 0.215,-0.548 0.105,-0.540 L0.105,-0.476 L0.269,-0.476 L0.269,0 Z" fill="#262626"/>
<text class="t" x="278.9" y="1892.7" font-size="55" text-anchor="start" >0</text>
<path transform="translate(310.2,1866) scale(44)" d="M0.361,0 L0.361,-0.688 L0.290,-0.688 C0.270,-0.610 0.215,-0.548 0.105,-0.540 L0.105,-0.476 L0.269,-0.476 L0.269,0 Z" fill="#262626"/>
<path transform="translate(675.4,1892.7) scale(55)" d="M0.361,0 L0.361,-0.688 L0.290,-0.688 C0.270,-0.610 0.215,-0.548 0.105,-0.540 L0.105,-0.476 L0.269,-0.476 L0.269,0 Z" fill="#262626"/>
<text class="t" x="706" y="1892.7" font-size="55" text-anchor="start" >0</text>
<text class="t" x="737.5" y="1866" font-size="44" text-anchor="start" >2</text>
<text class="t" x="342.3" y="1886.6" font-size="59.5">Freq [kHz]</text>
<text class="t" transform="translate(46.9,1657) rotate(-90)" font-size="59.5">PSD [a.u]</text>
<g transform="translate(0,0)">
<line x1="55.9" y1="413.7" x2="91" y2="445.1" stroke="#262626" stroke-width="2.0" stroke-linecap="round"/>
<path d="M60,442.51 C59.67,442.26 58.45,441.58 57.98,441.02 C57.51,440.47 57.2,439.76 57.18,439.19 C57.17,438.62 57.42,438.04 57.9,437.6 C58.38,437.15 59,436.98 60.08,436.52 C61.15,436.06 62.89,435.34 64.35,434.85 C65.8,434.35 67.04,434.15 68.81,433.56 C70.58,432.98 72.93,432.17 74.96,431.31 C77,430.44 79.19,429.31 81.03,428.37 C82.86,427.43 84.5,426.56 85.97,425.66 C87.44,424.76 88.79,423.95 89.83,422.95 C90.88,421.95 91.96,420.79 92.22,419.64 C92.49,418.49 92.02,416.94 91.44,416.06 C90.86,415.18 89.2,414.63 88.76,414.34 L87.84,415.66 C88.16,415.9 89.44,416.62 89.76,417.14 C90.08,417.66 90.11,418.24 89.78,418.76 C89.44,419.28 88.72,419.72 87.77,420.25 C86.81,420.78 85.49,421.31 84.03,421.94 C82.56,422.57 80.81,423.24 78.97,424.03 C77.14,424.82 75,425.89 73.04,426.69 C71.07,427.49 68.92,428.22 67.19,428.84 C65.46,429.45 64.2,429.71 62.65,430.35 C61.11,431 59.21,431.81 57.92,432.68 C56.63,433.56 55.49,434.45 54.9,435.6 C54.32,436.76 54.16,438.45 54.42,439.61 C54.67,440.78 55.63,441.86 56.42,442.58 C57.22,443.29 58.73,443.67 59.2,443.89 Z" fill="#262626"/>
</g>
<g transform="translate(-8,492)">
<line x1="55.9" y1="413.7" x2="91" y2="445.1" stroke="#262626" stroke-width="2.0" stroke-linecap="round"/>
<path d="M60,442.51 C59.67,442.26 58.45,441.58 57.98,441.02 C57.51,440.47 57.2,439.76 57.18,439.19 C57.17,438.62 57.42,438.04 57.9,437.6 C58.38,437.15 59,436.98 60.08,436.52 C61.15,436.06 62.89,435.34 64.35,434.85 C65.8,434.35 67.04,434.15 68.81,433.56 C70.58,432.98 72.93,432.17 74.96,431.31 C77,430.44 79.19,429.31 81.03,428.37 C82.86,427.43 84.5,426.56 85.97,425.66 C87.44,424.76 88.79,423.95 89.83,422.95 C90.88,421.95 91.96,420.79 92.22,419.64 C92.49,418.49 92.02,416.94 91.44,416.06 C90.86,415.18 89.2,414.63 88.76,414.34 L87.84,415.66 C88.16,415.9 89.44,416.62 89.76,417.14 C90.08,417.66 90.11,418.24 89.78,418.76 C89.44,419.28 88.72,419.72 87.77,420.25 C86.81,420.78 85.49,421.31 84.03,421.94 C82.56,422.57 80.81,423.24 78.97,424.03 C77.14,424.82 75,425.89 73.04,426.69 C71.07,427.49 68.92,428.22 67.19,428.84 C65.46,429.45 64.2,429.71 62.65,430.35 C61.11,431 59.21,431.81 57.92,432.68 C56.63,433.56 55.49,434.45 54.9,435.6 C54.32,436.76 54.16,438.45 54.42,439.61 C54.67,440.78 55.63,441.86 56.42,442.58 C57.22,443.29 58.73,443.67 59.2,443.89 Z" fill="#262626"/>
</g>
<text class="t" transform="translate(80.7,381.5) rotate(-90)" font-size="59">[m</text>
<text class="t" transform="translate(53.7,312.5) rotate(-90)" font-size="48">2</text>
<text class="t" transform="translate(80.7,285.3) rotate(-90)" font-size="59">/s]</text>
<text class="t" transform="translate(107,408.5) rotate(-90)" font-size="48">i</text>
<text class="t" transform="translate(73.2,858.5) rotate(-90)" font-size="59">[m</text>
<text class="t" transform="translate(46.7,789.2) rotate(-90)" font-size="48">2</text>
<text class="t" transform="translate(73.2,762.3) rotate(-90)" font-size="59">/s]</text>
<text class="t" transform="translate(100,902.5) rotate(-90)" font-size="48">e</text>
</svg>
</body></html>
